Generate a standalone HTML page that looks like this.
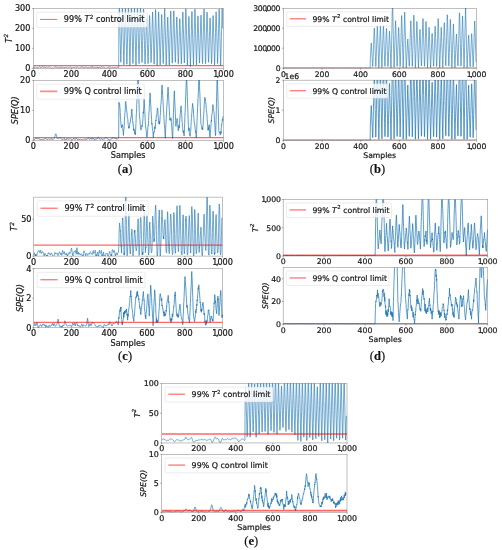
<!DOCTYPE html>
<html lang="en">
<head>
<meta charset="utf-8">
<title>Monitoring charts</title>
<style>
html,body{margin:0;padding:0;background:#fff;}
body{width:502px;height:550px;overflow:hidden;}
svg{display:block;}
svg text{font-family:"DejaVu Sans","Liberation Sans",sans-serif;fill:#1a1a1a;stroke:#1a1a1a;stroke-width:0.22px;}
svg text.cap{font-family:"Liberation Serif","DejaVu Serif",serif;fill:#111;stroke:#111;stroke-width:0.15px;}
</style>
</head>
<body>
<svg width="502" height="550" viewBox="0 0 502 550">
<rect x="0" y="0" width="502" height="550" fill="#fff"/>
<clipPath id="c0"><rect x="33.3" y="8.4" width="190.2" height="59.9"/></clipPath>
<g clip-path="url(#c0)">
<polyline points="33.3,67 33.49,67.26 33.68,67.62 33.87,68.05 34.06,68.29 34.25,68.02 34.44,67.39 34.63,66.87 34.82,66.73 35.01,66.75 35.2,66.77 35.39,66.88 35.58,67.09 35.77,67.33 35.96,67.57 36.15,67.75 36.34,67.75 36.53,67.54 36.72,67.34 36.91,67.38 37.1,67.63 37.29,67.74 37.48,67.57 37.67,67.41 37.86,67.6 38.05,67.99 38.25,68.25 38.44,68.24 38.63,68.01 38.82,67.66 39.01,67.31 39.2,67.04 39.39,66.8 39.58,66.6 39.77,66.6 39.96,66.8 40.15,67.03 40.34,67.29 40.53,67.54 40.72,67.59 40.91,67.4 41.1,67.23 41.29,67.33 41.48,67.57 41.67,67.69 41.86,67.55 42.05,67.17 42.24,66.72 42.43,66.47 42.62,66.51 42.81,66.71 43,66.96 43.19,67.22 43.38,67.38 43.57,67.3 43.76,66.97 43.95,66.71 44.14,66.83 44.33,67.23 44.52,67.58 44.71,67.67 44.9,67.62 45.09,67.61 45.28,67.62 45.47,67.48 45.66,67.2 45.85,66.89 46.04,66.75 46.23,66.84 46.42,67.05 46.61,67.16 46.8,67.1 46.99,67.07 47.18,67.24 47.37,67.47 47.56,67.58 47.76,67.58 47.95,67.51 48.14,67.36 48.33,67.26 48.52,67.32 48.71,67.39 48.9,67.34 49.09,67.22 49.28,67.09 49.47,66.96 49.66,66.87 49.85,66.86 50.04,66.98 50.23,67.23 50.42,67.53 50.61,67.73 50.8,67.84 50.99,68 51.18,68.23 51.37,68.21 51.56,68.14 51.75,68.14 51.94,68.27 52.13,68.06 52.32,67.81 52.51,67.78 52.7,67.96 52.89,68.19 53.08,68.26 53.27,68.18 53.46,68.08 53.65,68.09 53.84,68.16 54.03,68.24 54.22,68.22 54.41,68.03 54.6,67.59 54.79,67.07 54.98,66.77 55.17,66.81 55.36,66.95 55.55,66.92 55.74,66.84 55.93,66.9 56.12,67.02 56.31,67.05 56.5,67.08 56.69,67.16 56.88,67.19 57.07,67.21 57.27,67.36 57.46,67.63 57.65,67.89 57.84,68 58.03,67.87 58.22,67.61 58.41,67.41 58.6,67.36 58.79,67.37 58.98,67.3 59.17,67.23 59.36,67.3 59.55,67.44 59.74,67.46 59.93,67.34 60.12,67.17 60.31,67.05 60.5,67.19 60.69,67.6 60.88,67.98 61.07,67.98 61.26,67.63 61.45,67.27 61.64,67.11 61.83,67.17 62.02,67.34 62.21,67.55 62.4,67.75 62.59,67.8 62.78,67.67 62.97,67.49 63.16,67.32 63.35,67.29 63.54,67.46 63.73,67.72 63.92,67.94 64.11,68.09 64.3,68.04 64.49,67.72 64.68,67.32 64.87,67.12 65.06,67.2 65.25,67.46 65.44,67.72 65.63,67.8 65.82,67.67 66.01,67.49 66.2,67.42 66.39,67.49 66.58,67.61 66.78,67.64 66.97,67.53 67.16,67.31 67.35,67.06 67.54,66.88 67.73,66.91 67.92,67.19 68.11,67.52 68.3,67.65 68.49,67.58 68.68,67.48 68.87,67.43 69.06,67.37 69.25,67.32 69.44,67.3 69.63,67.24 69.82,67.1 70.01,66.94 70.2,66.78 70.39,66.72 70.58,66.87 70.77,67.19 70.96,67.46 71.15,67.63 71.34,67.72 71.53,67.65 71.72,67.43 71.91,67.25 72.1,67.25 72.29,67.32 72.48,67.41 72.67,67.58 72.86,67.81 73.05,67.93 73.24,67.86 73.43,67.66 73.62,67.44 73.81,67.26 74,67.18 74.19,67.28 74.38,67.49 74.57,67.55 74.76,67.34 74.95,67.03 75.14,66.93 75.33,67.12 75.52,67.29 75.71,67.22 75.9,67.1 76.09,67.16 76.29,67.32 76.48,67.39 76.67,67.32 76.86,67.14 77.05,66.95 77.24,66.88 77.43,66.98 77.62,67.1 77.81,67.16 78,67.31 78.19,67.65 78.38,68 78.57,68.15 78.76,68.2 78.95,68.24 79.14,68.05 79.33,68.18 79.52,67.97 79.71,67.55 79.9,67.43 80.09,67.6 80.28,67.78 80.47,67.71 80.66,67.42 80.85,67.15 81.04,67.07 81.23,67.17 81.42,67.26 81.61,67.12 81.8,66.78 81.99,66.53 82.18,66.55 82.37,66.78 82.56,67.11 82.75,67.44 82.94,67.68 83.13,67.71 83.32,67.5 83.51,67.27 83.7,67.17 83.89,67.24 84.08,67.5 84.27,67.91 84.46,68.2 84.65,68.15 84.84,67.8 85.03,67.47 85.22,67.35 85.41,67.31 85.6,67.14 85.8,67.01 85.99,67.13 86.18,67.31 86.37,67.33 86.56,67.34 86.75,67.51 86.94,67.74 87.13,67.82 87.32,67.75 87.51,67.66 87.7,67.52 87.89,67.29 88.08,67.18 88.27,67.29 88.46,67.49 88.65,67.7 88.84,67.91 89.03,68.03 89.22,68.04 89.41,68.01 89.6,67.98 89.79,67.88 89.98,67.65 90.17,67.41 90.36,67.43 90.55,67.78 90.74,68.16 90.93,68.28 91.12,68.12 91.31,67.72 91.5,67.22 91.69,66.78 91.88,66.51 92.07,66.31 92.26,66.23 92.45,66.56 92.64,67.26 92.83,67.88 93.02,68.14 93.21,68.2 93.4,68.18 93.59,68.03 93.78,67.79 93.97,67.51 94.16,67.26 94.35,67.19 94.54,67.32 94.73,67.55 94.92,67.71 95.11,67.72 95.31,67.66 95.5,67.73 95.69,67.97 95.88,68.15 96.07,68.08 96.26,67.78 96.45,67.4 96.64,67.24 96.83,67.44 97.02,67.74 97.21,67.74 97.4,67.43 97.59,67.12 97.78,66.99 97.97,67.09 98.16,67.45 98.35,68.02 98.54,67.99 98.73,67.69 98.92,67.9 99.11,68.18 99.3,67.69 99.49,67.41 99.68,67.29 99.87,67.29 100.06,67.43 100.25,67.68 100.44,67.84 100.63,67.74 100.82,67.42 101.01,67.03 101.2,66.71 101.39,66.55 101.58,66.64 101.77,66.94 101.96,67.28 102.15,67.52 102.34,67.62 102.53,67.64 102.72,67.59 102.91,67.46 103.1,67.32 103.29,67.21 103.48,67.07 103.67,67 103.86,67.19 104.05,67.57 104.24,67.79 104.43,67.7 104.62,67.55 104.82,67.59 105.01,67.84 105.2,68.19 105.39,68.12 105.58,68.07 105.77,68.26 105.96,68.15 106.15,68.12 106.34,68.19 106.53,68.22 106.72,68.17 106.91,68.06 107.1,67.94 107.29,67.79 107.48,67.57 107.67,67.33 107.86,67.18 108.05,67.16 108.24,67.23 108.43,67.28 108.62,67.25 108.81,67.22 109,67.28 109.19,67.31 109.38,67.15 109.57,66.88 109.76,66.79 109.95,66.95 110.14,67.12 110.33,67.14 110.52,67.1 110.71,67.24 110.9,67.67 111.09,68.15 111.28,68.25 111.47,68.24 111.66,68.04 111.85,67.82 112.04,67.54 112.23,67.36 112.42,67.48 112.61,67.77 112.8,67.85 112.99,67.74 113.18,67.73 113.37,67.89 113.56,67.96 113.75,67.73 113.94,67.36 114.13,67.16 114.33,67.27 114.52,67.46 114.71,67.5 114.9,67.42 115.09,67.37 115.28,67.43 115.47,67.55 115.66,67.6 115.85,67.48 116.04,67.29 116.23,67.26 116.42,67.39 116.61,67.46 116.8,67.32 116.99,67.09 117.18,66.96 117.37,67.02 117.56,67.23 117.75,67.5 117.94,67.73 118.13,67.8 118.32,67.73 118.51,67.62 118.7,67.49 118.89,21.59 119.08,13.81 119.27,6.84 119.46,8.29 119.65,15.32 119.84,23.09 120.03,31.34 120.22,39.71 120.41,47.86 120.6,55.45 120.79,62.23 120.98,59.95 121.17,52.64 121.36,44.58 121.55,36.05 121.74,27.39 121.93,19 122.12,11.19 122.31,4.22 122.5,7.26 122.69,14.85 122.88,23.2 123.07,32.03 123.26,40.96 123.45,49.6 123.64,57.62 123.84,64.76 124.03,61.42 124.22,54.27 124.41,46.4 124.6,38.12 124.79,29.75 124.98,21.67 125.17,14.19 125.36,7.53 125.55,11.52 125.74,18.57 125.93,26.3 126.12,34.44 126.31,42.63 126.5,50.53 126.69,57.82 126.88,64.3 127.07,59.38 127.26,51.93 127.45,43.77 127.64,35.21 127.83,26.61 128.02,18.33 128.21,10.7 128.4,3.94 128.59,9.57 128.78,17.16 128.97,25.45 129.16,34.13 129.35,42.84 129.54,51.19 129.73,58.88 129.92,65.68 130.11,59.18 130.3,51.3 130.49,42.72 130.68,33.75 130.87,24.77 131.06,16.18 131.25,8.29 131.44,1.51 131.63,8.29 131.82,15.96 132.01,24.31 132.2,33.01 132.39,41.7 132.58,50 132.77,57.61 132.96,63.52 133.16,57.13 133.35,49.91 133.54,42.07 133.73,33.92 133.92,25.8 134.11,18.05 134.3,10.97 134.49,6.12 134.68,12.84 134.87,20.42 135.06,28.63 135.25,37.15 135.44,45.62 135.63,53.68 135.82,61.04 136.01,65.43 136.2,58.32 136.39,50.33 136.58,41.7 136.77,32.75 136.96,23.88 137.15,15.45 137.34,7.78 137.53,3.79 137.72,10.81 137.91,18.69 138.1,27.19 138.29,35.97 138.48,44.67 138.67,52.9 138.86,60.39 139.05,63.65 139.24,56.81 139.43,49.14 139.62,40.89 139.81,32.38 140,23.98 140.19,16.03 140.38,8.83 140.57,6.36 140.76,13.18 140.95,20.81 141.14,29 141.33,37.43 141.52,45.73 141.71,53.57 141.9,60.66 142.09,62.5 142.28,55.87 142.47,48.46 142.66,40.53 142.86,32.37 143.05,24.36 143.24,16.81 143.43,9.99 143.62,9 143.81,15.91 144,23.6 144.19,31.83 144.38,40.27 144.57,48.54 144.76,56.31 144.95,63.32 145.14,64.22 145.33,58.3 145.52,51.73 145.71,44.71 145.9,37.53 146.09,30.5 146.28,23.91 146.47,17.99 146.66,18.11 146.85,23.97 147.04,30.47 147.23,37.39 147.42,44.46 147.61,51.36 147.8,57.82 147.99,63.62 148.18,62.79 148.37,56.66 148.56,49.88 148.75,42.66 148.94,35.32 149.13,28.16 149.32,21.48 149.51,15.49 149.7,16.69 149.89,22.67 150.08,29.27 150.27,36.28 150.46,43.4 150.65,50.33 150.84,56.77 151.03,62.55 151.22,60.51 151.41,54.15 151.6,47.13 151.79,39.69 151.98,32.16 152.18,24.84 152.37,18.05 152.56,11.98 152.75,14.58 152.94,21.12 153.13,28.33 153.32,35.94 153.51,43.64 153.7,51.1 153.89,58.01 154.08,64.18 154.27,60.85 154.46,54.03 154.65,46.53 154.84,38.63 155.03,30.66 155.22,22.96 155.41,15.82 155.6,9.48 155.79,13.45 155.98,20.4 156.17,28.03 156.36,36.05 156.55,44.13 156.74,51.92 156.93,59.12 157.12,65.51 157.31,61.21 157.5,54.57 157.69,47.31 157.88,39.7 158.07,32.04 158.26,24.68 158.45,17.89 158.64,11.87 158.83,16.69 159.02,23.21 159.21,30.34 159.4,37.8 159.59,45.28 159.78,52.46 159.97,59.07 160.16,64.92 160.35,59.82 160.54,53.62 160.73,46.87 160.92,39.82 161.11,32.76 161.3,26 161.49,19.8 161.69,14.46 161.88,19.84 162.07,25.92 162.26,32.53 162.45,39.43 162.64,46.31 162.83,52.89 163.02,58.91 163.21,63.54 163.4,57.36 163.59,50.39 163.78,42.82 163.97,34.94 164.16,27.1 164.35,19.62 164.54,12.78 164.73,8.08 164.92,14.52 165.11,21.78 165.3,29.64 165.49,37.8 165.68,45.91 165.87,53.63 166.06,60.67 166.25,65.06 166.44,59.53 166.63,53.31 166.82,46.58 167.01,39.62 167.2,32.71 167.39,26.14 167.58,20.17 167.77,17.1 167.96,22.73 168.15,29.06 168.34,35.89 168.53,42.94 168.72,49.93 168.91,56.54 169.1,62.56 169.29,64.94 169.48,58.51 169.67,51.3 169.86,43.53 170.05,35.52 170.24,27.62 170.43,20.14 170.62,13.36 170.81,11.02 171,17.36 171.19,24.46 171.39,32.08 171.58,39.92 171.77,47.65 171.96,54.94 172.15,61.54 172.34,63.16 172.53,56.68 172.72,49.45 172.91,41.7 173.1,33.75 173.29,25.92 173.48,18.56 173.67,11.9 173.86,10.83 174.05,17.27 174.24,24.46 174.43,32.14 174.62,40.02 174.81,47.75 175,55 175.19,61.55 175.38,62.27 175.57,56.47 175.76,50.02 175.95,43.14 176.14,36.1 176.33,29.21 176.52,22.75 176.71,16.94 176.9,17.18 177.09,23.17 177.28,29.83 177.47,36.92 177.66,44.15 177.85,51.22 178.04,57.83 178.23,63.76 178.42,63.18 178.61,57.42 178.8,51.05 178.99,44.28 179.18,37.38 179.37,30.66 179.56,24.38 179.75,18.75 179.94,19.94 180.13,25.66 180.32,31.98 180.51,38.69 180.7,45.5 180.9,52.13 181.09,58.3 181.28,63.82 181.47,61.63 181.66,55.12 181.85,47.94 182.04,40.34 182.23,32.64 182.42,25.17 182.61,18.22 182.8,12.01 182.99,14.49 183.18,20.89 183.37,27.94 183.56,35.39 183.75,42.92 183.94,50.21 184.13,56.98 184.32,63.01 184.51,59.67 184.7,52.87 184.89,45.4 185.08,37.53 185.27,29.58 185.46,21.91 185.65,14.8 185.84,8.48 186.03,12.54 186.22,19.61 186.41,27.37 186.6,35.53 186.79,43.75 186.98,51.67 187.17,58.99 187.36,65.49 187.55,61.63 187.74,55.55 187.93,48.9 188.12,41.92 188.31,34.91 188.5,28.16 188.69,21.94 188.88,16.42 189.07,20.98 189.26,27.14 189.45,33.87 189.64,40.92 189.83,47.98 190.02,54.76 190.21,61 190.41,66.52 190.6,60.93 190.79,54.18 190.98,46.82 191.17,39.13 191.36,31.43 191.55,24.06 191.74,17.29 191.93,11.48 192.12,17.31 192.31,23.9 192.5,31.07 192.69,38.55 192.88,46.02 193.07,53.15 193.26,59.69 193.45,64.73 193.64,58.53 193.83,51.54 194.02,43.94 194.21,36.04 194.4,28.17 194.59,20.66 194.78,13.79 194.97,9.07 195.16,15.38 195.35,22.48 195.54,30.18 195.73,38.18 195.92,46.12 196.11,53.68 196.3,60.58 196.49,64.85 196.68,59.21 196.87,52.86 197.06,46 197.25,38.89 197.44,31.84 197.63,25.15 197.82,19.05 198.01,15.88 198.2,21.43 198.39,27.66 198.58,34.37 198.77,41.32 198.96,48.19 199.15,54.7 199.34,60.62 199.53,63.12 199.73,57.37 199.92,50.94 200.11,44.02 200.3,36.87 200.49,29.82 200.68,23.15 200.87,17.1 201.06,15.1 201.25,21.03 201.44,27.67 201.63,34.81 201.82,42.15 202.01,49.38 202.2,56.21 202.39,62.38 202.58,63.66 202.77,56.89 202.96,49.33 203.15,41.23 203.34,32.91 203.53,24.72 203.72,17.02 203.91,10.06 204.1,8.99 204.29,15.88 204.48,23.54 204.67,31.75 204.86,40.15 205.05,48.4 205.24,56.15 205.43,63.13 205.62,63.73 205.81,57.12 206,49.78 206.19,41.94 206.38,33.92 206.57,26.08 206.76,18.72 206.95,12.1 207.14,12.2 207.33,18.66 207.52,25.83 207.71,33.47 207.9,41.26 208.09,48.87 208.28,55.99 208.47,62.39 208.66,62 208.85,56.3 209.04,49.97 209.24,43.25 209.43,36.41 209.62,29.74 209.81,23.52 210,17.94 210.19,19.2 210.38,25.01 210.57,31.43 210.76,38.25 210.95,45.17 211.14,51.91 211.33,58.18 211.52,63.79 211.71,61.88 211.9,55.8 212.09,49.09 212.28,41.98 212.47,34.78 212.66,27.8 212.85,21.3 213.04,15.5 213.23,17.95 213.42,24.14 213.61,30.95 213.8,38.15 213.99,45.43 214.18,52.48 214.37,59.02 214.56,64.85 214.75,61.6 214.94,54.99 215.13,47.73 215.32,40.08 215.51,32.35 215.7,24.89 215.89,17.99 216.08,11.84 216.27,15.46 216.46,21.89 216.65,28.94 216.84,36.35 217.03,43.82 217.22,51.02 217.41,57.67 217.6,63.57 217.79,59.12 217.98,52.36 218.17,44.97 218.36,37.22 218.55,29.42 218.75,21.92 218.94,15.01 219.13,8.88 219.32,14.07 219.51,21.05 219.7,28.68 219.89,36.67 220.08,44.68 220.27,52.37 220.46,59.44 220.65,65.7 220.84,59.8 221.03,52.66 221.22,44.87 221.41,36.73 221.6,28.59 221.79,20.8 221.98,13.64 222.17,7.49 222.36,13.78 222.55,20.88 222.74,28.62" fill="none" stroke="#1f77b4" stroke-width="0.62" stroke-linejoin="round"/>
<line x1="33.3" y1="65.7" x2="223.5" y2="65.7" stroke="#ff0000" stroke-opacity="0.6" stroke-width="1.2"/>
</g>
<rect x="33.3" y="8.4" width="190.2" height="59.9" fill="none" stroke="#000" stroke-opacity="0.42" stroke-width="0.6"/>
<line x1="33.3" y1="68.3" x2="33.3" y2="69.8" stroke="#000" stroke-opacity="0.6" stroke-width="0.5"/>
<text x="33.3" y="76.7" text-anchor="middle" font-size="8.1">0</text>
<line x1="71.34" y1="68.3" x2="71.34" y2="69.8" stroke="#000" stroke-opacity="0.6" stroke-width="0.5"/>
<text x="71.34" y="76.7" text-anchor="middle" font-size="8.1">200</text>
<line x1="109.38" y1="68.3" x2="109.38" y2="69.8" stroke="#000" stroke-opacity="0.6" stroke-width="0.5"/>
<text x="109.38" y="76.7" text-anchor="middle" font-size="8.1">400</text>
<line x1="147.42" y1="68.3" x2="147.42" y2="69.8" stroke="#000" stroke-opacity="0.6" stroke-width="0.5"/>
<text x="147.42" y="76.7" text-anchor="middle" font-size="8.1">600</text>
<line x1="185.46" y1="68.3" x2="185.46" y2="69.8" stroke="#000" stroke-opacity="0.6" stroke-width="0.5"/>
<text x="185.46" y="76.7" text-anchor="middle" font-size="8.1">800</text>
<line x1="223.5" y1="68.3" x2="223.5" y2="69.8" stroke="#000" stroke-opacity="0.6" stroke-width="0.5"/>
<text x="223.5" y="76.7" text-anchor="middle" font-size="8.1">1<tspan dx="-1.54">,</tspan><tspan dx="-1.05">000</tspan></text>
<line x1="31.8" y1="68.3" x2="33.3" y2="68.3" stroke="#000" stroke-opacity="0.6" stroke-width="0.5"/>
<text x="30.4" y="71.3" text-anchor="end" font-size="8.1">0</text>
<line x1="31.8" y1="48.33" x2="33.3" y2="48.33" stroke="#000" stroke-opacity="0.6" stroke-width="0.5"/>
<text x="30.4" y="51.33" text-anchor="end" font-size="8.1">100</text>
<line x1="31.8" y1="28.37" x2="33.3" y2="28.37" stroke="#000" stroke-opacity="0.6" stroke-width="0.5"/>
<text x="30.4" y="31.36" text-anchor="end" font-size="8.1">200</text>
<line x1="31.8" y1="8.4" x2="33.3" y2="8.4" stroke="#000" stroke-opacity="0.6" stroke-width="0.5"/>
<text x="30.4" y="11.4" text-anchor="end" font-size="8.1">300</text>
<text transform="translate(11.7 38.35) rotate(-90)" text-anchor="middle" font-size="8.1" font-style="italic">T<tspan dy="-3.48" font-size="5.67" dx="0.3">2</tspan></text>
<rect x="36.7" y="12.13" width="110.8" height="15.23" rx="1.4" fill="#fff" fill-opacity="0.8" stroke="#ccc" stroke-opacity="0.6" stroke-width="0.6"/>
<line x1="40.02" y1="19.44" x2="57.11" y2="19.44" stroke="#ff0000" stroke-opacity="0.55" stroke-width="1.1"/>
<text x="63.84" y="22.41" text-anchor="start" font-size="8.1">99% <tspan font-style="italic">T</tspan><tspan dy="-3.48" font-size="5.67" dx="0.4">2</tspan><tspan dy="3.48"> control limit</tspan></text>
<clipPath id="c1"><rect x="33.3" y="80.3" width="190.2" height="60"/></clipPath>
<g clip-path="url(#c1)">
<polyline points="33.3,138.58 33.49,138.68 33.68,138.94 33.87,139.26 34.06,139.52 34.25,139.64 34.44,139.65 34.63,139.59 34.82,139.47 35.01,139.24 35.2,138.91 35.39,138.55 35.58,138.31 35.77,138.31 35.96,138.55 36.15,138.79 36.34,138.84 36.53,138.66 36.72,138.47 36.91,138.44 37.1,138.53 37.29,138.59 37.48,138.57 37.67,138.53 37.86,138.49 38.05,138.42 38.25,138.35 38.44,138.41 38.63,138.63 38.82,138.9 39.01,139.04 39.2,139.05 39.39,139.01 39.58,138.98 39.77,139 39.96,139.16 40.15,139.54 40.34,140.07 40.53,140.1 40.72,139.95 40.91,140.12 41.1,140.12 41.29,139.72 41.48,139.45 41.67,139.32 41.86,139.25 42.05,139.16 42.24,139.09 42.43,139.11 42.62,139.23 42.81,139.43 43,139.72 43.19,140.05 43.38,140.29 43.57,140.28 43.76,140.02 43.95,139.62 44.14,139.23 44.33,138.88 44.52,138.59 44.71,138.35 44.9,138.2 45.09,138.09 45.28,138.04 45.47,138.15 45.66,138.46 45.85,138.83 46.04,139.12 46.23,139.3 46.42,139.42 46.61,139.47 46.8,139.43 46.99,139.33 47.18,139.26 47.37,139.24 47.56,139.28 47.76,139.3 47.95,139.23 48.14,139.04 48.33,138.82 48.52,138.75 48.71,138.93 48.9,139.22 49.09,139.42 49.28,139.42 49.47,139.29 49.66,139.14 49.85,139.05 50.04,138.98 50.23,138.91 50.42,138.82 50.61,138.79 50.8,138.78 50.99,138.71 51.18,138.57 51.37,138.5 51.56,138.67 51.75,139.07 51.94,139.5 52.13,139.72 52.32,139.62 52.51,139.29 52.7,139.01 52.89,138.96 53.08,139.11 53.27,139.23 53.46,139.17 53.65,138.95 53.84,138.66 54.03,138.34 54.22,138.02 54.41,137.69 54.6,137.33 54.79,136.86 54.98,136.21 55.17,135.41 55.36,134.6 55.55,134.03 55.74,133.84 55.93,133.96 56.12,134.31 56.31,134.89 56.5,135.72 56.69,136.68 56.88,137.56 57.07,138.18 57.27,138.53 57.46,138.71 57.65,138.79 57.84,138.73 58.03,138.52 58.22,138.26 58.41,138.14 58.6,138.13 58.79,138.12 58.98,138.05 59.17,137.98 59.36,137.91 59.55,137.84 59.74,137.75 59.93,137.59 60.12,137.34 60.31,137.12 60.5,137.1 60.69,137.37 60.88,137.82 61.07,138.26 61.26,138.62 61.45,138.96 61.64,139.26 61.83,139.49 62.02,139.63 62.21,139.71 62.4,139.75 62.59,139.75 62.78,139.68 62.97,139.52 63.16,139.28 63.35,139.02 63.54,138.77 63.73,138.48 63.92,138.2 64.11,138.06 64.3,138.2 64.49,138.65 64.68,139.29 64.87,139.87 65.06,140.15 65.25,140.11 65.44,139.94 65.63,139.88 65.82,139.98 66.01,140.08 66.2,139.95 66.39,139.52 66.58,138.92 66.78,138.43 66.97,138.3 67.16,138.54 67.35,138.9 67.54,139.12 67.73,139.16 67.92,139.16 68.11,139.18 68.3,139.2 68.49,139.23 68.68,139.24 68.87,139.19 69.06,139.06 69.25,138.94 69.44,138.88 69.63,138.86 69.82,138.8 70.01,138.68 70.2,138.6 70.39,138.66 70.58,138.87 70.77,139.08 70.96,139.22 71.15,139.3 71.34,139.36 71.53,139.38 71.72,139.36 71.91,139.37 72.1,139.49 72.29,139.67 72.48,139.77 72.67,139.73 72.86,139.64 73.05,139.58 73.24,139.41 73.43,139.01 73.62,138.5 73.81,138.18 74,138.2 74.19,138.42 74.38,138.66 74.57,138.9 74.76,139.19 74.95,139.45 75.14,139.5 75.33,139.26 75.52,138.83 75.71,138.43 75.9,138.15 76.09,138 76.29,138 76.48,138.2 76.67,138.58 76.86,138.96 77.05,139.23 77.24,139.41 77.43,139.55 77.62,139.56 77.81,139.38 78,139.07 78.19,138.87 78.38,138.94 78.57,139.25 78.76,139.58 78.95,139.74 79.14,139.7 79.33,139.58 79.52,139.54 79.71,139.62 79.9,139.7 80.09,139.6 80.28,139.35 80.47,139.08 80.66,138.96 80.85,139.02 81.04,139.22 81.23,139.43 81.42,139.54 81.61,139.56 81.8,139.54 81.99,139.53 82.18,139.59 82.37,139.7 82.56,139.83 82.75,139.97 82.94,140.1 83.13,140.2 83.32,140.23 83.51,140.17 83.7,140.08 83.89,139.93 84.08,139.64 84.27,139.22 84.46,138.88 84.65,138.81 84.84,138.98 85.03,139.15 85.22,139.13 85.41,138.96 85.6,138.84 85.8,138.97 85.99,139.33 86.18,139.66 86.37,139.73 86.56,139.5 86.75,139.2 86.94,139.06 87.13,139.09 87.32,139.09 87.51,138.87 87.7,138.43 87.89,137.96 88.08,137.7 88.27,137.72 88.46,137.88 88.65,138 88.84,138.07 89.03,138.25 89.22,138.61 89.41,139.06 89.6,139.41 89.79,139.5 89.98,139.33 90.17,138.97 90.36,138.58 90.55,138.32 90.74,138.22 90.93,138.21 91.12,138.24 91.31,138.37 91.5,138.68 91.69,139.1 91.88,139.38 92.07,139.27 92.26,138.75 92.45,138.1 92.64,137.75 92.83,137.94 93.02,138.43 93.21,138.76 93.4,138.69 93.59,138.5 93.78,138.62 93.97,139.16 94.16,139.92 94.35,140.08 94.54,139.91 94.73,140.2 94.92,139.87 95.11,139.4 95.31,139.05 95.5,138.77 95.69,138.58 95.88,138.52 96.07,138.56 96.26,138.65 96.45,138.79 96.64,138.98 96.83,139.15 97.02,139.18 97.21,138.99 97.4,138.6 97.59,138.1 97.78,137.61 97.97,137.23 98.16,137.05 98.35,137.11 98.54,137.38 98.73,137.73 98.92,138.08 99.11,138.44 99.3,138.85 99.49,139.16 99.68,139.23 99.87,139.07 100.06,138.92 100.25,138.95 100.44,139.11 100.63,139.19 100.82,139.07 101.01,138.85 101.2,138.66 101.39,138.55 101.58,138.54 101.77,138.73 101.96,139.12 102.15,139.55 102.34,139.83 102.53,139.89 102.72,139.76 102.91,139.52 103.1,139.24 103.29,138.99 103.48,138.81 103.67,138.72 103.86,138.75 104.05,138.85 104.24,138.9 104.43,138.86 104.62,138.77 104.82,138.67 105.01,138.43 105.2,138.03 105.39,137.59 105.58,137.34 105.77,137.38 105.96,137.6 106.15,137.78 106.34,137.8 106.53,137.73 106.72,137.76 106.91,137.95 107.1,138.17 107.29,138.3 107.48,138.37 107.67,138.51 107.86,138.8 108.05,139.18 108.24,139.59 108.43,139.9 108.62,140.05 108.81,140.04 109,140 109.19,140.01 109.38,140.05 109.57,140.08 109.76,140.09 109.95,140.02 110.14,139.82 110.33,139.51 110.52,139.22 110.71,139.01 110.9,138.85 111.09,138.78 111.28,138.84 111.47,138.96 111.66,138.96 111.85,138.77 112.04,138.47 112.23,138.14 112.42,137.8 112.61,137.48 112.8,137.29 112.99,137.33 113.18,137.57 113.37,137.87 113.56,138.06 113.75,138.06 113.94,137.94 114.13,137.85 114.33,137.95 114.52,138.22 114.71,138.49 114.9,138.57 115.09,138.49 115.28,138.39 115.47,138.32 115.66,138.24 115.85,138.11 116.04,138.05 116.23,138.2 116.42,138.56 116.61,139 116.8,139.35 116.99,139.51 117.18,139.45 117.37,139.26 117.56,139.02 117.75,138.77 117.94,138.54 118.13,138.35 118.32,138.2 118.51,138.08 118.7,138.07 118.89,102.3 119.08,102.59 119.27,103.85 119.46,104.18 119.65,103.83 119.84,108.12 120.03,108.32 120.22,112.58 120.41,116.56 120.6,118.69 120.79,121.76 120.98,124.23 121.17,125.22 121.36,127.54 121.55,127.79 121.74,125.28 121.93,125.63 122.12,125.09 122.31,124.6 122.5,126.74 122.69,127.24 122.88,130.54 123.07,131.07 123.26,133.54 123.45,135.38 123.64,131.98 123.84,129.1 124.03,128.82 124.22,125.04 124.41,120.63 124.6,116.89 124.79,115.79 124.98,112.36 125.17,110.73 125.36,103.69 125.55,102.9 125.74,101.4 125.93,103.32 126.12,104.7 126.31,106.72 126.5,109.38 126.69,109.92 126.88,112.29 127.07,112.69 127.26,116.48 127.45,117.94 127.64,118.33 127.83,119.34 128.02,122.19 128.21,124.75 128.4,125.78 128.59,127.84 128.78,126.98 128.97,128.47 129.16,127.13 129.35,127.19 129.54,127.13 129.73,124.36 129.92,122.9 130.11,122.98 130.3,122.22 130.49,119.65 130.68,119.78 130.87,117.18 131.06,117.33 131.25,116.2 131.44,113.18 131.63,112.02 131.82,108.97 132.01,112.54 132.2,114.26 132.39,117.53 132.58,120.33 132.77,122.28 132.96,121.96 133.16,125.73 133.35,125.35 133.54,127.08 133.73,130.35 133.92,128.82 134.11,130.83 134.3,130.4 134.49,132.32 134.68,131.59 134.87,134.1 135.06,132.96 135.25,134.61 135.44,134.78 135.63,129.97 135.82,126.24 136.01,122.3 136.2,117.25 136.39,112.96 136.58,111.05 136.77,104.52 136.96,99.78 137.15,96.65 137.34,90.83 137.53,88 137.72,80.48 137.91,77.62 138.1,74.45 138.29,79.03 138.48,86.35 138.67,91.48 138.86,99.12 139.05,104.53 139.24,111.3 139.43,115.04 139.62,115.97 139.81,119.05 140,120.59 140.19,124.83 140.38,126.91 140.57,128.7 140.76,129.84 140.95,130.13 141.14,129.76 141.33,128.32 141.52,128.37 141.71,127.47 141.9,125.31 142.09,126.53 142.28,124.96 142.47,122.69 142.66,122.81 142.86,119.16 143.05,117.52 143.24,111.81 143.43,113.21 143.62,109.03 143.81,105.93 144,100.1 144.19,99.45 144.38,103.68 144.57,108.34 144.76,110.2 144.95,114.05 145.14,118.48 145.33,122.91 145.52,126.08 145.71,126.99 145.9,128.4 146.09,130.16 146.28,131.91 146.47,135.12 146.66,134.73 146.85,137.38 147.04,137.4 147.23,134.83 147.42,133.89 147.61,132.12 147.8,127.87 147.99,126.41 148.18,125.32 148.37,125.67 148.56,120.43 148.75,116.34 148.94,112.36 149.13,110.8 149.32,107.3 149.51,103.63 149.7,98.83 149.89,97.49 150.08,92.92 150.27,95.98 150.46,98.47 150.65,104.13 150.84,105.85 151.03,110.51 151.22,113.97 151.41,116.93 151.6,119.52 151.79,124.29 151.98,123.24 152.18,125.49 152.37,128.17 152.56,128.17 152.75,131.23 152.94,131.86 153.13,135.62 153.32,137.7 153.51,134.8 153.7,132.67 153.89,133.13 154.08,131.71 154.27,132 154.46,131.74 154.65,129.44 154.84,126.48 155.03,128.86 155.22,126.11 155.41,126.07 155.6,122.42 155.79,120.08 155.98,120.78 156.17,118.37 156.36,115.02 156.55,114.97 156.74,114.65 156.93,113.2 157.12,112.41 157.31,107.95 157.5,108.01 157.69,108.16 157.88,110.84 158.07,114.93 158.26,117.28 158.45,118.4 158.64,121.54 158.83,122.26 159.02,124.08 159.21,121.22 159.4,122.89 159.59,124.16 159.78,122.23 159.97,119.98 160.16,115.16 160.35,114.69 160.54,112.64 160.73,105.95 160.92,104.95 161.11,102.3 161.3,99.57 161.49,95.91 161.69,89.71 161.88,87.96 162.07,84.98 162.26,88.37 162.45,89.6 162.64,95.29 162.83,97.42 163.02,101.22 163.21,104.66 163.4,109.25 163.59,111.05 163.78,113.31 163.97,117.85 164.16,121.55 164.35,124.74 164.54,125.98 164.73,129.26 164.92,131.88 165.11,134.55 165.3,138.22 165.49,132.22 165.68,129.16 165.87,125.85 166.06,121.89 166.25,117.53 166.44,114.81 166.63,112.21 166.82,106.56 167.01,104.71 167.2,101.49 167.39,98.83 167.58,93.66 167.77,91.23 167.96,87.15 168.15,87.39 168.34,91.39 168.53,93.91 168.72,98.21 168.91,102.51 169.1,105.99 169.29,109.73 169.48,112.08 169.67,116.29 169.86,120.3 170.05,119.03 170.24,119.44 170.43,119.64 170.62,120.36 170.81,117.93 171,117.76 171.19,119.43 171.39,122.59 171.58,125.66 171.77,127.67 171.96,129.84 172.15,132.86 172.34,135.53 172.53,138.52 172.72,136.44 172.91,130.74 173.1,125.97 173.29,118.58 173.48,112.74 173.67,106.91 173.86,102.1 174.05,96.36 174.24,91.56 174.43,90.8 174.62,98.47 174.81,101.27 175,105.85 175.19,109.23 175.38,114.76 175.57,120.41 175.76,125.53 175.95,126.43 176.14,124.4 176.33,123.31 176.52,122.43 176.71,121.79 176.9,120.15 177.09,118.48 177.28,122.6 177.47,123.32 177.66,123.57 177.85,126.6 178.04,129.57 178.23,130.31 178.42,130.92 178.61,129.17 178.8,126.59 178.99,125.27 179.18,128.1 179.37,124.61 179.56,121.27 179.75,121.39 179.94,118.04 180.13,114.23 180.32,113.83 180.51,110.34 180.7,108.37 180.9,107.83 181.09,105.85 181.28,109.27 181.47,110.97 181.66,112.62 181.85,116.97 182.04,120.94 182.23,122.95 182.42,126.06 182.61,126.22 182.8,129.82 182.99,130.56 183.18,132.5 183.37,130.74 183.56,132.41 183.75,134.08 183.94,135.19 184.13,136.05 184.32,133.85 184.51,128.24 184.7,123.44 184.89,116.49 185.08,112.64 185.27,108.87 185.46,103.65 185.65,96.8 185.84,92.61 186.03,87.81 186.22,82.39 186.41,76.5 186.6,75.04 186.79,80.15 186.98,86.81 187.17,90.07 187.36,96.6 187.55,102.52 187.74,108.22 187.93,112.3 188.12,118.79 188.31,124.81 188.5,125.72 188.69,129.35 188.88,130.79 189.07,127.95 189.26,132.27 189.45,133.67 189.64,135.07 189.83,135.66 190.02,135.91 190.21,136.22 190.41,133.62 190.6,131.66 190.79,130.11 190.98,125.43 191.17,121.31 191.36,118.96 191.55,117.44 191.74,113.6 191.93,112.02 192.12,108.85 192.31,107.27 192.5,103.49 192.69,103.59 192.88,106.09 193.07,107.27 193.26,108.27 193.45,111.02 193.64,114.9 193.83,117.51 194.02,119.6 194.21,122.11 194.4,123.01 194.59,124.01 194.78,125.66 194.97,127.06 195.16,128.5 195.35,130.21 195.54,132.26 195.73,131.08 195.92,133.19 196.11,136.65 196.3,138.06 196.49,135.58 196.68,130.48 196.87,124.74 197.06,120.55 197.25,116.05 197.44,111.58 197.63,107.11 197.82,103.05 198.01,98.89 198.2,95.05 198.39,92.3 198.58,86.16 198.77,79.68 198.96,77.69 199.15,75.08 199.34,78.84 199.53,85.31 199.73,91.38 199.92,94.72 200.11,101.18 200.3,106.53 200.49,113.4 200.68,117.77 200.87,123.38 201.06,124.63 201.25,124.75 201.44,125.29 201.63,126.8 201.82,126.77 202.01,129.2 202.2,127.83 202.39,128.3 202.58,129.94 202.77,129.64 202.96,125.97 203.15,124.26 203.34,119.7 203.53,116.83 203.72,115.21 203.91,111.24 204.1,107.25 204.29,104.33 204.48,101.47 204.67,99.76 204.86,97.31 205.05,98.88 205.24,99.36 205.43,99.03 205.62,101.53 205.81,102.86 206,104.62 206.19,109.24 206.38,109.69 206.57,112.23 206.76,112.76 206.95,114.59 207.14,119.36 207.33,120.92 207.52,122.67 207.71,126.06 207.9,128.5 208.09,130.5 208.28,128.29 208.47,129.6 208.66,126.88 208.85,127.4 209.04,126.13 209.24,124.73 209.43,130.04 209.62,133.83 209.81,136.16 210,137.25 210.19,134.83 210.38,132.08 210.57,129.69 210.76,129.06 210.95,126.05 211.14,122.93 211.33,120.03 211.52,121.39 211.71,115.86 211.9,114.2 212.09,114.16 212.28,112.46 212.47,108.38 212.66,107.15 212.85,104.56 213.04,105.33 213.23,108.15 213.42,109.12 213.61,110.32 213.8,111.42 213.99,112.04 214.18,114.64 214.37,119.03 214.56,122.4 214.75,122.54 214.94,127.22 215.13,130.31 215.32,134.78 215.51,135.68 215.7,133.96 215.89,126.05 216.08,119.38 216.27,110.94 216.46,102.76 216.65,96.81 216.84,88.59 217.03,80.16 217.22,73.81 217.41,78.34 217.6,85.25 217.79,93.21 217.98,98.45 218.17,107.49 218.36,113.01 218.55,120.2 218.75,129.77 218.94,131.27 219.13,132.19 219.32,133.26 219.51,132.81 219.7,133.09 219.89,132.48 220.08,132.53 220.27,135.14 220.46,134.8 220.65,133.68 220.84,131.29 221.03,133.35 221.22,127.74 221.41,127.53 221.6,124.03 221.79,124.36 221.98,123.62 222.17,121.55 222.36,119.23 222.55,119.27 222.74,120.63 222.93,116.29" fill="none" stroke="#1f77b4" stroke-width="0.72" stroke-linejoin="round"/>
<line x1="33.3" y1="137.69" x2="223.5" y2="137.69" stroke="#ff0000" stroke-opacity="0.6" stroke-width="1.2"/>
</g>
<rect x="33.3" y="80.3" width="190.2" height="60" fill="none" stroke="#000" stroke-opacity="0.42" stroke-width="0.6"/>
<line x1="33.3" y1="140.3" x2="33.3" y2="141.8" stroke="#000" stroke-opacity="0.6" stroke-width="0.5"/>
<text x="33.3" y="148.7" text-anchor="middle" font-size="8.1">0</text>
<line x1="71.34" y1="140.3" x2="71.34" y2="141.8" stroke="#000" stroke-opacity="0.6" stroke-width="0.5"/>
<text x="71.34" y="148.7" text-anchor="middle" font-size="8.1">200</text>
<line x1="109.38" y1="140.3" x2="109.38" y2="141.8" stroke="#000" stroke-opacity="0.6" stroke-width="0.5"/>
<text x="109.38" y="148.7" text-anchor="middle" font-size="8.1">400</text>
<line x1="147.42" y1="140.3" x2="147.42" y2="141.8" stroke="#000" stroke-opacity="0.6" stroke-width="0.5"/>
<text x="147.42" y="148.7" text-anchor="middle" font-size="8.1">600</text>
<line x1="185.46" y1="140.3" x2="185.46" y2="141.8" stroke="#000" stroke-opacity="0.6" stroke-width="0.5"/>
<text x="185.46" y="148.7" text-anchor="middle" font-size="8.1">800</text>
<line x1="223.5" y1="140.3" x2="223.5" y2="141.8" stroke="#000" stroke-opacity="0.6" stroke-width="0.5"/>
<text x="223.5" y="148.7" text-anchor="middle" font-size="8.1">1<tspan dx="-1.54">,</tspan><tspan dx="-1.05">000</tspan></text>
<line x1="31.8" y1="140.3" x2="33.3" y2="140.3" stroke="#000" stroke-opacity="0.6" stroke-width="0.5"/>
<text x="30.4" y="143.3" text-anchor="end" font-size="8.1">0</text>
<line x1="31.8" y1="110.3" x2="33.3" y2="110.3" stroke="#000" stroke-opacity="0.6" stroke-width="0.5"/>
<text x="30.4" y="113.3" text-anchor="end" font-size="8.1">10</text>
<line x1="31.8" y1="80.3" x2="33.3" y2="80.3" stroke="#000" stroke-opacity="0.6" stroke-width="0.5"/>
<text x="30.4" y="83.3" text-anchor="end" font-size="8.1">20</text>
<text transform="translate(17.9 110.3) rotate(-90)" text-anchor="middle" font-size="8.1" font-style="italic">SPE(Q)</text>
<text x="128.1" y="158.1" text-anchor="middle" font-size="8.1">Samples</text>
<rect x="36.7" y="84.03" width="107.6" height="15.23" rx="1.4" fill="#fff" fill-opacity="0.8" stroke="#ccc" stroke-opacity="0.6" stroke-width="0.6"/>
<line x1="40.02" y1="91.34" x2="57.11" y2="91.34" stroke="#ff0000" stroke-opacity="0.45" stroke-width="1.8"/>
<text x="63.84" y="94.31" text-anchor="start" font-size="8.1">99% Q control limit</text>
<clipPath id="c2"><rect x="283.4" y="8.3" width="193.2" height="59.9"/></clipPath>
<g clip-path="url(#c2)">
<polyline points="283.4,68.2 283.59,68.2 283.79,68.2 283.98,68.2 284.17,68.2 284.37,68.2 284.56,68.2 284.75,68.2 284.95,68.2 285.14,68.2 285.33,68.2 285.53,68.2 285.72,68.2 285.91,68.2 286.1,68.2 286.3,68.2 286.49,68.2 286.68,68.2 286.88,68.2 287.07,68.2 287.26,68.2 287.46,68.2 287.65,68.2 287.84,68.2 288.04,68.2 288.23,68.2 288.42,68.2 288.62,68.2 288.81,68.2 289,68.2 289.2,68.2 289.39,68.2 289.58,68.2 289.78,68.2 289.97,68.2 290.16,68.2 290.36,68.2 290.55,68.2 290.74,68.2 290.93,68.2 291.13,68.2 291.32,68.2 291.51,68.2 291.71,68.2 291.9,68.2 292.09,68.2 292.29,68.2 292.48,68.2 292.67,68.2 292.87,68.2 293.06,68.2 293.25,68.2 293.45,68.2 293.64,68.2 293.83,68.2 294.03,68.2 294.22,68.2 294.41,68.2 294.61,68.2 294.8,68.2 294.99,68.2 295.19,68.2 295.38,68.2 295.57,68.2 295.76,68.2 295.96,68.2 296.15,68.2 296.34,68.2 296.54,68.2 296.73,68.2 296.92,68.2 297.12,68.2 297.31,68.2 297.5,68.2 297.7,68.2 297.89,68.2 298.08,68.2 298.28,68.2 298.47,68.2 298.66,68.2 298.86,68.2 299.05,68.2 299.24,68.2 299.44,68.2 299.63,68.2 299.82,68.2 300.02,68.2 300.21,68.2 300.4,68.2 300.59,68.2 300.79,68.2 300.98,68.2 301.17,68.2 301.37,68.2 301.56,68.2 301.75,68.2 301.95,68.2 302.14,68.2 302.33,68.2 302.53,68.2 302.72,68.2 302.91,68.2 303.11,68.2 303.3,68.2 303.49,68.2 303.69,68.2 303.88,68.2 304.07,68.2 304.27,68.2 304.46,68.2 304.65,68.2 304.85,68.2 305.04,68.2 305.23,68.2 305.42,68.2 305.62,68.2 305.81,68.2 306,68.2 306.2,68.2 306.39,68.2 306.58,68.2 306.78,68.2 306.97,68.2 307.16,68.2 307.36,68.2 307.55,68.2 307.74,68.2 307.94,68.2 308.13,68.2 308.32,68.2 308.52,68.2 308.71,68.2 308.9,68.2 309.1,68.2 309.29,68.2 309.48,68.2 309.68,68.2 309.87,68.2 310.06,68.2 310.25,68.2 310.45,68.2 310.64,68.2 310.83,68.2 311.03,68.2 311.22,68.2 311.41,68.2 311.61,68.2 311.8,68.2 311.99,68.2 312.19,68.2 312.38,68.2 312.57,68.2 312.77,68.2 312.96,68.2 313.15,68.2 313.35,68.2 313.54,68.2 313.73,68.2 313.93,68.2 314.12,68.2 314.31,68.2 314.51,68.2 314.7,68.2 314.89,68.2 315.08,68.2 315.28,68.2 315.47,68.2 315.66,68.2 315.86,68.2 316.05,68.2 316.24,68.2 316.44,68.2 316.63,68.2 316.82,68.2 317.02,68.2 317.21,68.2 317.4,68.2 317.6,68.2 317.79,68.2 317.98,68.2 318.18,68.2 318.37,68.2 318.56,68.2 318.76,68.2 318.95,68.2 319.14,68.2 319.34,68.2 319.53,68.2 319.72,68.2 319.91,68.2 320.11,68.2 320.3,68.2 320.49,68.2 320.69,68.2 320.88,68.2 321.07,68.2 321.27,68.2 321.46,68.2 321.65,68.2 321.85,68.2 322.04,68.2 322.23,68.2 322.43,68.2 322.62,68.2 322.81,68.2 323.01,68.2 323.2,68.2 323.39,68.2 323.59,68.2 323.78,68.2 323.97,68.2 324.17,68.2 324.36,68.2 324.55,68.2 324.74,68.2 324.94,68.2 325.13,68.2 325.32,68.2 325.52,68.2 325.71,68.2 325.9,68.2 326.1,68.2 326.29,68.2 326.48,68.2 326.68,68.2 326.87,68.2 327.06,68.2 327.26,68.2 327.45,68.2 327.64,68.2 327.84,68.2 328.03,68.2 328.22,68.2 328.42,68.2 328.61,68.2 328.8,68.2 329,68.2 329.19,68.2 329.38,68.2 329.57,68.2 329.77,68.2 329.96,68.2 330.15,68.2 330.35,68.2 330.54,68.2 330.73,68.2 330.93,68.2 331.12,68.2 331.31,68.2 331.51,68.2 331.7,68.2 331.89,68.2 332.09,68.2 332.28,68.2 332.47,68.2 332.67,68.2 332.86,68.2 333.05,68.2 333.25,68.2 333.44,68.2 333.63,68.2 333.83,68.2 334.02,68.2 334.21,68.2 334.4,68.2 334.6,68.2 334.79,68.2 334.98,68.2 335.18,68.2 335.37,68.2 335.56,68.2 335.76,68.2 335.95,68.2 336.14,68.2 336.34,68.2 336.53,68.2 336.72,68.2 336.92,68.2 337.11,68.2 337.3,68.2 337.5,68.2 337.69,68.2 337.88,68.2 338.08,68.2 338.27,68.2 338.46,68.2 338.66,68.2 338.85,68.2 339.04,68.2 339.23,68.2 339.43,68.2 339.62,68.2 339.81,68.2 340.01,68.2 340.2,68.2 340.39,68.2 340.59,68.2 340.78,68.2 340.97,68.2 341.17,68.2 341.36,68.2 341.55,68.2 341.75,68.2 341.94,68.2 342.13,68.2 342.33,68.2 342.52,68.2 342.71,68.2 342.91,68.2 343.1,68.2 343.29,68.2 343.49,68.2 343.68,68.2 343.87,68.2 344.06,68.2 344.26,68.2 344.45,68.2 344.64,68.2 344.84,68.2 345.03,68.2 345.22,68.2 345.42,68.2 345.61,68.2 345.8,68.2 346,68.2 346.19,68.2 346.38,68.2 346.58,68.2 346.77,68.2 346.96,68.2 347.16,68.2 347.35,68.2 347.54,68.2 347.74,68.2 347.93,68.2 348.12,68.2 348.32,68.2 348.51,68.2 348.7,68.2 348.89,68.2 349.09,68.2 349.28,68.2 349.47,68.2 349.67,68.2 349.86,68.2 350.05,68.2 350.25,68.2 350.44,68.2 350.63,68.2 350.83,68.2 351.02,68.2 351.21,68.2 351.41,68.2 351.6,68.2 351.79,68.2 351.99,68.2 352.18,68.2 352.37,68.2 352.57,68.2 352.76,68.2 352.95,68.2 353.15,68.2 353.34,68.2 353.53,68.2 353.72,68.2 353.92,68.2 354.11,68.2 354.3,68.2 354.5,68.2 354.69,68.2 354.88,68.2 355.08,68.2 355.27,68.2 355.46,68.2 355.66,68.2 355.85,68.2 356.04,68.2 356.24,68.2 356.43,68.2 356.62,68.2 356.82,68.2 357.01,68.2 357.2,68.2 357.4,68.2 357.59,68.2 357.78,68.2 357.98,68.2 358.17,68.2 358.36,68.2 358.55,68.2 358.75,68.2 358.94,68.2 359.13,68.2 359.33,68.2 359.52,68.2 359.71,68.2 359.91,68.2 360.1,68.2 360.29,68.2 360.49,68.2 360.68,68.2 360.87,68.2 361.07,68.2 361.26,68.2 361.45,68.2 361.65,68.2 361.84,68.2 362.03,68.2 362.23,68.2 362.42,68.2 362.61,68.2 362.81,68.2 363,68.2 363.19,68.2 363.38,68.2 363.58,68.2 363.77,68.2 363.96,68.2 364.16,68.2 364.35,68.2 364.54,68.2 364.74,68.2 364.93,68.2 365.12,68.2 365.32,68.2 365.51,68.2 365.7,68.2 365.9,68.2 366.09,68.2 366.28,68.2 366.48,68.2 366.67,68.2 366.86,68.2 367.06,68.2 367.25,68.2 367.44,68.2 367.64,68.2 367.83,68.2 368.02,68.2 368.21,68.2 368.41,68.2 368.6,68.2 368.79,68.2 368.99,68.2 369.18,68.2 369.37,68.2 369.57,68.2 369.76,68.2 369.95,68.2 370.15,68.2 370.34,58.1 370.53,54.44 370.73,50.82 370.92,47.38 371.11,44.26 371.31,42.98 371.5,45.93 371.69,49.24 371.89,52.8 372.08,56.46 372.27,60.07 372.47,63.47 372.66,66.54 372.85,66.43 373.04,61.54 373.24,56.08 373.43,50.25 373.62,44.27 373.82,38.41 374.01,32.93 374.2,27.99 374.4,28.22 374.59,33.19 374.78,38.7 374.98,44.57 375.17,50.54 375.36,56.37 375.56,61.8 375.75,66.65 375.94,65.18 376.14,59.99 376.33,54.27 376.52,48.21 376.72,42.07 376.91,36.12 377.1,30.6 377.3,25.69 377.49,28.31 377.68,33.57 377.87,39.35 378.07,45.44 378.26,51.57 378.45,57.47 378.65,62.92 378.84,67.75 379.03,64 379.23,58.74 379.42,52.99 379.61,46.96 379.81,40.93 380,35.15 380.19,29.84 380.39,25.38 380.58,30.1 380.77,35.43 380.97,41.23 381.16,47.27 381.35,53.28 381.55,59.02 381.74,64.25 381.93,67.52 382.13,62.61 382.32,57.09 382.51,51.11 382.7,44.92 382.9,38.78 383.09,32.97 383.28,27.69 383.48,25.53 383.67,30.52 383.86,36.11 384.06,42.13 384.25,48.33 384.44,54.44 384.64,60.2 384.83,65.4 385.02,66.44 385.22,61.6 385.41,56.2 385.6,50.42 385.8,44.5 385.99,38.7 386.18,33.26 386.38,28.37 386.57,28.6 386.76,33.52 386.96,38.98 387.15,44.79 387.34,50.71 387.53,56.48 387.73,61.86 387.92,66.67 388.11,65.57 388.31,61.05 388.5,56.06 388.69,50.77 388.89,45.42 389.08,40.24 389.27,35.43 389.47,31.15 389.66,33.43 389.85,38.02 390.05,43.05 390.24,48.36 390.43,53.7 390.63,58.85 390.82,63.6 391.01,67.81 391.21,61.56 391.4,53.24 391.59,44.14 391.79,34.62 391.98,25.08 392.17,15.93 392.36,7.54 392.56,0.49 392.75,7.94 392.94,16.38 393.14,25.55 393.33,35.1 393.52,44.61 393.72,53.68 393.91,61.95 394.1,67.45 394.3,61.98 394.49,55.82 394.68,49.17 394.88,42.27 395.07,35.44 395.26,28.97 395.46,23.09 395.65,20.68 395.84,26.24 396.04,32.47 396.23,39.17 396.42,46.07 396.62,52.88 396.81,59.29 397,65.08 397.19,66.4 397.39,61.44 397.58,55.91 397.77,49.99 397.97,43.93 398.16,37.99 398.35,32.43 398.55,27.42 398.74,27.65 398.93,32.69 399.13,38.28 399.32,44.23 399.51,50.29 399.71,56.2 399.9,61.71 400.09,66.63 400.29,64.46 400.48,58.04 400.67,50.94 400.87,43.44 401.06,35.83 401.25,28.46 401.45,21.63 401.64,15.54 401.83,18.79 402.02,25.31 402.22,32.47 402.41,40.01 402.6,47.6 402.8,54.92 402.99,61.66 403.18,67.65 403.38,62.69 403.57,55.79 403.76,48.25 403.96,40.35 404.15,32.43 404.34,24.85 404.54,17.89 404.73,12.04 404.92,18.22 405.12,25.22 405.31,32.82 405.5,40.74 405.7,48.63 405.89,56.15 406.08,63.02 406.28,67.74 406.47,64.39 406.66,60.62 406.85,56.55 407.05,52.32 407.24,48.14 407.43,44.18 407.63,40.58 407.82,39.1 408.01,42.51 408.21,46.32 408.4,50.43 408.59,54.65 408.79,58.82 408.98,62.74 409.17,66.29 409.37,66.11 409.56,60.34 409.75,53.91 409.95,47.03 410.14,39.98 410.33,33.08 410.53,26.6 410.72,20.78 410.91,21.05 411.11,26.91 411.3,33.41 411.49,40.33 411.68,47.38 411.88,54.25 412.07,60.65 412.26,66.38 412.46,64.43 412.65,57.96 412.84,50.82 413.04,43.25 413.23,35.59 413.42,28.17 413.62,21.28 413.81,15.15 414,18.42 414.2,24.99 414.39,32.2 414.58,39.8 414.78,47.45 414.97,54.82 415.16,61.62 415.36,67.64 415.55,63.61 415.74,57.86 415.94,51.57 416.13,44.99 416.32,38.39 416.51,32.08 416.71,26.28 416.9,21.4 417.09,26.55 417.29,32.38 417.48,38.72 417.67,45.32 417.87,51.9 418.06,58.16 418.25,63.88 418.45,67.58 418.64,63.12 418.83,58.1 419.03,52.66 419.22,47.03 419.41,41.46 419.61,36.17 419.8,31.37 419.99,29.41 420.19,33.94 420.38,39.03 420.57,44.5 420.77,50.14 420.96,55.69 421.15,60.92 421.34,65.65 421.54,66.01 421.73,59.97 421.92,53.23 422.12,46.01 422.31,38.63 422.5,31.39 422.7,24.61 422.89,18.51 423.08,18.79 423.28,24.93 423.47,31.74 423.66,38.99 423.86,46.38 424.05,53.58 424.24,60.29 424.44,66.29 424.63,64.88 424.82,59.17 425.02,52.86 425.21,46.19 425.4,39.43 425.6,32.88 425.79,26.8 425.98,21.39 426.17,24.28 426.37,30.07 426.56,36.44 426.75,43.14 426.95,49.89 427.14,56.39 427.33,62.39 427.53,67.71 427.72,64.2 427.91,59.18 428.11,53.69 428.3,47.95 428.49,42.2 428.69,36.69 428.88,31.63 429.07,27.37 429.27,31.87 429.46,36.95 429.65,42.48 429.85,48.24 430.04,53.98 430.23,59.44 430.43,64.43 430.62,67.65 430.81,63.63 431,59.11 431.2,54.22 431.39,49.15 431.58,44.13 431.78,39.38 431.97,35.06 432.16,33.29 432.36,37.37 432.55,41.95 432.74,46.87 432.94,51.94 433.13,56.94 433.32,61.65 433.52,65.91 433.71,66.34 433.9,61.22 434.1,55.51 434.29,49.4 434.48,43.14 434.68,37.01 434.87,31.26 435.06,26.09 435.26,26.33 435.45,31.54 435.64,37.31 435.83,43.45 436.03,49.71 436.22,55.81 436.41,61.49 436.61,66.58 436.8,64.67 436.99,58.6 437.19,51.9 437.38,44.81 437.57,37.63 437.77,30.67 437.96,24.22 438.15,18.47 438.35,21.53 438.54,27.69 438.73,34.45 438.93,41.57 439.12,48.74 439.31,55.65 439.51,62.03 439.7,67.68 439.89,64.2 440.09,59.18 440.28,53.69 440.47,47.95 440.66,42.2 440.86,36.69 441.05,31.63 441.24,27.37 441.44,31.87 441.63,36.95 441.82,42.48 442.02,48.24 442.21,53.98 442.4,59.44 442.6,64.43 442.79,67.48 442.98,62.23 443.18,56.33 443.37,49.94 443.56,43.33 443.76,36.78 443.95,30.57 444.14,24.93 444.34,22.62 444.53,27.95 444.72,33.93 444.92,40.36 445.11,46.98 445.3,53.5 445.49,59.65 445.69,65.21 445.88,65.84 446.07,59.34 446.27,52.08 446.46,44.32 446.65,36.37 446.85,28.58 447.04,21.28 447.23,14.71 447.43,15.02 447.62,21.63 447.81,28.96 448.01,36.77 448.2,44.72 448.39,52.46 448.59,59.68 448.78,66.14 448.97,64.74 449.17,58.79 449.36,52.22 449.55,45.27 449.75,38.23 449.94,31.41 450.13,25.08 450.32,19.44 450.52,22.45 450.71,28.48 450.9,35.11 451.1,42.09 451.29,49.13 451.48,55.9 451.68,62.15 451.87,67.69 452.06,63.86 452.26,58.43 452.45,52.49 452.64,46.27 452.84,40.04 453.03,34.07 453.22,28.6 453.42,23.99 453.61,28.85 453.8,34.36 454,40.35 454.19,46.59 454.38,52.8 454.58,58.72 454.77,64.12 454.96,67.66 455.15,63.73 455.35,59.31 455.54,54.53 455.73,49.57 455.93,44.67 456.12,40.02 456.31,35.79 456.51,34.06 456.7,38.06 456.89,42.53 457.09,47.35 457.28,52.31 457.47,57.19 457.67,61.8 457.86,65.96 458.05,65.76 458.25,59.02 458.44,51.51 458.63,43.47 458.83,35.24 459.02,27.17 459.21,19.61 459.41,12.82 459.6,13.13 459.79,19.98 459.98,27.57 460.18,35.65 460.37,43.88 460.56,51.9 460.76,59.38 460.95,66.07 461.14,64.49 461.34,58.11 461.53,51.07 461.72,43.62 461.92,36.07 462.11,28.76 462.3,21.97 462.5,15.93 462.69,19.16 462.88,25.62 463.08,32.73 463.27,40.21 463.46,47.75 463.66,55.01 463.85,61.71 464.04,67.65 464.24,62.3 464.43,54.91 464.62,46.83 464.81,38.37 465.01,29.9 465.2,21.78 465.39,14.32 465.59,8.05 465.78,14.68 465.97,22.17 466.17,30.31 466.36,38.8 466.55,47.25 466.75,55.3 466.94,62.65 467.13,67.68 467.33,63.88 467.52,59.61 467.71,54.99 467.91,50.21 468.1,45.47 468.29,40.98 468.49,36.9 468.68,35.23 468.87,39.08 469.07,43.41 469.26,48.06 469.45,52.85 469.64,57.57 469.84,62.01 470.03,66.03 470.22,66.68 470.42,62.48 470.61,57.8 470.8,52.79 471,47.66 471.19,42.63 471.38,37.92 471.58,33.68 471.77,33.88 471.96,38.14 472.16,42.87 472.35,47.91 472.54,53.04 472.74,58.04 472.93,62.7 473.12,66.87 473.32,64.85 473.51,59.09 473.7,52.73 473.9,46 474.09,39.19 474.28,32.58 474.47,26.46 474.67,21 474.86,23.91 475.05,29.76 475.25,36.17 475.44,42.93 475.63,49.74 475.83,56.29 476.02,62.34" fill="none" stroke="#1f77b4" stroke-width="0.6" stroke-linejoin="round"/>
<line x1="283.4" y1="68.14" x2="476.6" y2="68.14" stroke="#ff0000" stroke-opacity="0.6" stroke-width="1.2"/>
</g>
<rect x="283.4" y="8.3" width="193.2" height="59.9" fill="none" stroke="#000" stroke-opacity="0.42" stroke-width="0.6"/>
<line x1="283.4" y1="68.2" x2="283.4" y2="69.7" stroke="#000" stroke-opacity="0.6" stroke-width="0.5"/>
<text x="283.4" y="76.6" text-anchor="middle" font-size="7.7">0</text>
<line x1="322.04" y1="68.2" x2="322.04" y2="69.7" stroke="#000" stroke-opacity="0.6" stroke-width="0.5"/>
<text x="322.04" y="76.6" text-anchor="middle" font-size="7.7">200</text>
<line x1="360.68" y1="68.2" x2="360.68" y2="69.7" stroke="#000" stroke-opacity="0.6" stroke-width="0.5"/>
<text x="360.68" y="76.6" text-anchor="middle" font-size="7.7">400</text>
<line x1="399.32" y1="68.2" x2="399.32" y2="69.7" stroke="#000" stroke-opacity="0.6" stroke-width="0.5"/>
<text x="399.32" y="76.6" text-anchor="middle" font-size="7.7">600</text>
<line x1="437.96" y1="68.2" x2="437.96" y2="69.7" stroke="#000" stroke-opacity="0.6" stroke-width="0.5"/>
<text x="437.96" y="76.6" text-anchor="middle" font-size="7.7">800</text>
<line x1="476.6" y1="68.2" x2="476.6" y2="69.7" stroke="#000" stroke-opacity="0.6" stroke-width="0.5"/>
<text x="476.6" y="76.6" text-anchor="middle" font-size="7.7">1<tspan dx="-1.46">,</tspan><tspan dx="-1">000</tspan></text>
<line x1="281.9" y1="68.2" x2="283.4" y2="68.2" stroke="#000" stroke-opacity="0.6" stroke-width="0.5"/>
<text x="280.2" y="71.05" text-anchor="end" font-size="7.7" letter-spacing="-0.33">0</text>
<line x1="281.9" y1="48.23" x2="283.4" y2="48.23" stroke="#000" stroke-opacity="0.6" stroke-width="0.5"/>
<text x="280.2" y="51.08" text-anchor="end" font-size="7.7" letter-spacing="-0.33">100<tspan dx="-1.46">,</tspan><tspan dx="-1">000</tspan></text>
<line x1="281.9" y1="28.27" x2="283.4" y2="28.27" stroke="#000" stroke-opacity="0.6" stroke-width="0.5"/>
<text x="280.2" y="31.12" text-anchor="end" font-size="7.7" letter-spacing="-0.33">200<tspan dx="-1.46">,</tspan><tspan dx="-1">000</tspan></text>
<line x1="281.9" y1="8.3" x2="283.4" y2="8.3" stroke="#000" stroke-opacity="0.6" stroke-width="0.5"/>
<text x="280.2" y="11.15" text-anchor="end" font-size="7.7" letter-spacing="-0.33">300<tspan dx="-1.46">,</tspan><tspan dx="-1">000</tspan></text>
<rect x="286.63" y="11.84" width="104.5" height="14.48" rx="1.4" fill="#fff" fill-opacity="0.8" stroke="#ccc" stroke-opacity="0.6" stroke-width="0.6"/>
<line x1="289.79" y1="18.78" x2="306.04" y2="18.78" stroke="#ff0000" stroke-opacity="0.5" stroke-width="1.4"/>
<text x="312.43" y="21.62" text-anchor="start" font-size="7.7">99% <tspan font-style="italic">T</tspan><tspan dy="-3.31" font-size="5.39" dx="0.4">2</tspan><tspan dy="3.31"> control limit</tspan></text>
<clipPath id="c3"><rect x="283.4" y="80.2" width="193.2" height="60.1"/></clipPath>
<g clip-path="url(#c3)">
<polyline points="283.4,140.3 283.59,140.3 283.79,140.3 283.98,140.3 284.17,140.3 284.37,140.3 284.56,140.3 284.75,140.3 284.95,140.3 285.14,140.3 285.33,140.3 285.53,140.3 285.72,140.3 285.91,140.3 286.1,140.3 286.3,140.3 286.49,140.3 286.68,140.3 286.88,140.3 287.07,140.3 287.26,140.3 287.46,140.3 287.65,140.3 287.84,140.3 288.04,140.3 288.23,140.3 288.42,140.3 288.62,140.3 288.81,140.3 289,140.3 289.2,140.3 289.39,140.3 289.58,140.3 289.78,140.3 289.97,140.3 290.16,140.3 290.36,140.3 290.55,140.3 290.74,140.3 290.93,140.3 291.13,140.3 291.32,140.3 291.51,140.3 291.71,140.3 291.9,140.3 292.09,140.3 292.29,140.3 292.48,140.3 292.67,140.3 292.87,140.3 293.06,140.3 293.25,140.3 293.45,140.3 293.64,140.3 293.83,140.3 294.03,140.3 294.22,140.3 294.41,140.3 294.61,140.3 294.8,140.3 294.99,140.3 295.19,140.3 295.38,140.3 295.57,140.3 295.76,140.3 295.96,140.3 296.15,140.3 296.34,140.3 296.54,140.3 296.73,140.3 296.92,140.3 297.12,140.3 297.31,140.3 297.5,140.3 297.7,140.3 297.89,140.3 298.08,140.3 298.28,140.3 298.47,140.3 298.66,140.3 298.86,140.3 299.05,140.3 299.24,140.3 299.44,140.3 299.63,140.3 299.82,140.3 300.02,140.3 300.21,140.3 300.4,140.3 300.59,140.3 300.79,140.3 300.98,140.3 301.17,140.3 301.37,140.3 301.56,140.3 301.75,140.3 301.95,140.3 302.14,140.3 302.33,140.3 302.53,140.3 302.72,140.3 302.91,140.3 303.11,140.3 303.3,140.3 303.49,140.3 303.69,140.3 303.88,140.3 304.07,140.3 304.27,140.3 304.46,140.3 304.65,140.3 304.85,140.3 305.04,140.3 305.23,140.3 305.42,140.3 305.62,140.3 305.81,140.3 306,140.3 306.2,140.3 306.39,140.3 306.58,140.3 306.78,140.3 306.97,140.3 307.16,140.3 307.36,140.3 307.55,140.3 307.74,140.3 307.94,140.3 308.13,140.3 308.32,140.3 308.52,140.3 308.71,140.3 308.9,140.3 309.1,140.3 309.29,140.3 309.48,140.3 309.68,140.3 309.87,140.3 310.06,140.3 310.25,140.3 310.45,140.3 310.64,140.3 310.83,140.3 311.03,140.3 311.22,140.3 311.41,140.3 311.61,140.3 311.8,140.3 311.99,140.3 312.19,140.3 312.38,140.3 312.57,140.3 312.77,140.3 312.96,140.3 313.15,140.3 313.35,140.3 313.54,140.3 313.73,140.3 313.93,140.3 314.12,140.3 314.31,140.3 314.51,140.3 314.7,140.3 314.89,140.3 315.08,140.3 315.28,140.3 315.47,140.3 315.66,140.3 315.86,140.3 316.05,140.3 316.24,140.3 316.44,140.3 316.63,140.3 316.82,140.3 317.02,140.3 317.21,140.3 317.4,140.3 317.6,140.3 317.79,140.3 317.98,140.3 318.18,140.3 318.37,140.3 318.56,140.3 318.76,140.3 318.95,140.3 319.14,140.3 319.34,140.3 319.53,140.3 319.72,140.3 319.91,140.3 320.11,140.3 320.3,140.3 320.49,140.3 320.69,140.3 320.88,140.3 321.07,140.3 321.27,140.3 321.46,140.3 321.65,140.3 321.85,140.3 322.04,140.3 322.23,140.3 322.43,140.3 322.62,140.3 322.81,140.3 323.01,140.3 323.2,140.3 323.39,140.3 323.59,140.3 323.78,140.3 323.97,140.3 324.17,140.3 324.36,140.3 324.55,140.3 324.74,140.3 324.94,140.3 325.13,140.3 325.32,140.3 325.52,140.3 325.71,140.3 325.9,140.3 326.1,140.3 326.29,140.3 326.48,140.3 326.68,140.3 326.87,140.3 327.06,140.3 327.26,140.3 327.45,140.3 327.64,140.3 327.84,140.3 328.03,140.3 328.22,140.3 328.42,140.3 328.61,140.3 328.8,140.3 329,140.3 329.19,140.3 329.38,140.3 329.57,140.3 329.77,140.3 329.96,140.3 330.15,140.3 330.35,140.3 330.54,140.3 330.73,140.3 330.93,140.3 331.12,140.3 331.31,140.3 331.51,140.3 331.7,140.3 331.89,140.3 332.09,140.3 332.28,140.3 332.47,140.3 332.67,140.3 332.86,140.3 333.05,140.3 333.25,140.3 333.44,140.3 333.63,140.3 333.83,140.3 334.02,140.3 334.21,140.3 334.4,140.3 334.6,140.3 334.79,140.3 334.98,140.3 335.18,140.3 335.37,140.3 335.56,140.3 335.76,140.3 335.95,140.3 336.14,140.3 336.34,140.3 336.53,140.3 336.72,140.3 336.92,140.3 337.11,140.3 337.3,140.3 337.5,140.3 337.69,140.3 337.88,140.3 338.08,140.3 338.27,140.3 338.46,140.3 338.66,140.3 338.85,140.3 339.04,140.3 339.23,140.3 339.43,140.3 339.62,140.3 339.81,140.3 340.01,140.3 340.2,140.3 340.39,140.3 340.59,140.3 340.78,140.3 340.97,140.3 341.17,140.3 341.36,140.3 341.55,140.3 341.75,140.3 341.94,140.3 342.13,140.3 342.33,140.3 342.52,140.3 342.71,140.3 342.91,140.3 343.1,140.3 343.29,140.3 343.49,140.3 343.68,140.3 343.87,140.3 344.06,140.3 344.26,140.3 344.45,140.3 344.64,140.3 344.84,140.3 345.03,140.3 345.22,140.3 345.42,140.3 345.61,140.3 345.8,140.3 346,140.3 346.19,140.3 346.38,140.3 346.58,140.3 346.77,140.3 346.96,140.3 347.16,140.3 347.35,140.3 347.54,140.3 347.74,140.3 347.93,140.3 348.12,140.3 348.32,140.3 348.51,140.3 348.7,140.3 348.89,140.3 349.09,140.3 349.28,140.3 349.47,140.3 349.67,140.3 349.86,140.3 350.05,140.3 350.25,140.3 350.44,140.3 350.63,140.3 350.83,140.3 351.02,140.3 351.21,140.3 351.41,140.3 351.6,140.3 351.79,140.3 351.99,140.3 352.18,140.3 352.37,140.3 352.57,140.3 352.76,140.3 352.95,140.3 353.15,140.3 353.34,140.3 353.53,140.3 353.72,140.3 353.92,140.3 354.11,140.3 354.3,140.3 354.5,140.3 354.69,140.3 354.88,140.3 355.08,140.3 355.27,140.3 355.46,140.3 355.66,140.3 355.85,140.3 356.04,140.3 356.24,140.3 356.43,140.3 356.62,140.3 356.82,140.3 357.01,140.3 357.2,140.3 357.4,140.3 357.59,140.3 357.78,140.3 357.98,140.3 358.17,140.3 358.36,140.3 358.55,140.3 358.75,140.3 358.94,140.3 359.13,140.3 359.33,140.3 359.52,140.3 359.71,140.3 359.91,140.3 360.1,140.3 360.29,140.3 360.49,140.3 360.68,140.3 360.87,140.3 361.07,140.3 361.26,140.3 361.45,140.3 361.65,140.3 361.84,140.3 362.03,140.3 362.23,140.3 362.42,140.3 362.61,140.3 362.81,140.3 363,140.3 363.19,140.3 363.38,140.3 363.58,140.3 363.77,140.3 363.96,140.3 364.16,140.3 364.35,140.3 364.54,140.3 364.74,140.3 364.93,140.3 365.12,140.3 365.32,140.3 365.51,140.3 365.7,140.3 365.9,140.3 366.09,140.3 366.28,140.3 366.48,140.3 366.67,140.3 366.86,140.3 367.06,140.3 367.25,140.3 367.44,140.3 367.64,140.3 367.83,140.3 368.02,140.3 368.21,140.3 368.41,140.3 368.6,140.3 368.79,140.3 368.99,140.3 369.18,140.3 369.37,140.3 369.57,140.3 369.76,140.3 369.95,140.3 370.15,140.3 370.34,125.88 370.53,121.3 370.73,116.72 370.92,112.14 371.11,107.56 371.31,105.5 371.5,110.08 371.69,114.66 371.89,119.24 372.08,123.82 372.27,128.39 372.47,132.97 372.66,137.55 372.85,136.64 373.04,127.48 373.24,118.32 373.43,109.16 373.62,100 373.82,90.85 374.01,81.69 374.2,72.53 374.4,72.99 374.59,82.15 374.78,91.3 374.98,100.46 375.17,109.62 375.36,118.78 375.56,127.94 375.75,137.09 375.94,133.85 376.14,123.93 376.33,114.01 376.52,104.09 376.72,94.17 376.91,84.24 377.1,74.32 377.3,64.4 377.49,69.86 377.68,79.78 377.87,89.7 378.07,99.62 378.26,109.54 378.45,119.47 378.65,129.39 378.84,139.31 379.03,131.71 379.23,122.17 379.42,112.63 379.61,103.1 379.81,93.56 380,84.02 380.19,74.48 380.39,65.41 380.58,74.95 380.77,84.49 380.97,94.03 381.16,103.57 381.35,113.11 381.55,122.65 381.74,132.19 381.93,138.75 382.13,128.45 382.32,118.15 382.51,107.85 382.7,97.54 382.9,87.24 383.09,76.94 383.28,66.63 383.48,62.17 383.67,72.3 383.86,82.6 384.06,92.91 384.25,103.21 384.44,113.51 384.64,123.82 384.83,134.12 385.02,136.64 385.22,127.48 385.41,118.32 385.6,109.16 385.8,100 385.99,90.85 386.18,81.69 386.38,72.53 386.57,72.99 386.76,82.15 386.96,91.3 387.15,100.46 387.34,109.62 387.53,118.78 387.73,127.94 387.92,137.09 388.11,135.46 388.31,128.02 388.5,120.58 388.69,113.14 388.89,105.7 389.08,98.26 389.27,90.82 389.47,83.38 389.66,87.47 389.85,94.91 390.05,102.35 390.24,109.79 390.43,117.23 390.63,124.67 390.82,132.11 391.01,139.56 391.21,130 391.4,118.55 391.59,107.1 391.79,95.65 391.98,84.21 392.17,72.76 392.36,62.17 392.56,62.17 392.75,62.17 392.94,73.33 393.14,84.78 393.33,96.23 393.52,107.67 393.72,119.12 393.91,130.57 394.1,138.81 394.3,128.89 394.49,118.97 394.68,109.05 394.88,99.13 395.07,89.21 395.26,79.28 395.46,69.36 395.65,64.9 395.84,74.82 396.04,84.74 396.23,94.66 396.42,104.58 396.62,114.5 396.81,124.43 397,134.35 397.19,136.48 397.39,126.94 397.58,117.4 397.77,107.87 397.97,98.33 398.16,88.79 398.35,79.25 398.55,69.71 398.74,70.18 398.93,79.72 399.13,89.26 399.32,98.8 399.51,108.34 399.71,117.88 399.9,127.42 400.09,136.96 400.29,133.11 400.48,122.04 400.67,110.98 400.87,99.91 401.06,88.84 401.25,77.78 401.45,66.71 401.64,62.17 401.83,62.17 402.02,72.8 402.22,83.86 402.41,94.93 402.6,106 402.8,117.06 402.99,128.13 403.18,139.19 403.38,130 403.57,118.55 403.76,107.1 403.96,95.65 404.15,84.21 404.34,72.76 404.54,62.17 404.73,62.17 404.92,62.17 405.12,73.33 405.31,84.78 405.5,96.23 405.7,107.67 405.89,119.12 406.08,130.57 406.28,139.21 406.47,131.96 406.66,124.71 406.85,117.46 407.05,110.21 407.24,102.96 407.43,95.71 407.63,88.46 407.82,85.2 408.01,92.45 408.21,99.7 408.4,106.95 408.59,114.2 408.79,121.45 408.98,128.7 409.17,135.95 409.37,136.33 409.56,126.41 409.75,116.49 409.95,106.57 410.14,96.65 410.33,86.73 410.53,76.8 410.72,66.88 410.91,67.38 411.11,77.3 411.3,87.22 411.49,97.14 411.68,107.06 411.88,116.99 412.07,126.91 412.26,136.83 412.46,133.36 412.65,122.67 412.84,111.99 413.04,101.3 413.23,90.62 413.42,79.93 413.62,69.25 413.81,62.17 414,64.44 414.2,75.12 414.39,85.81 414.58,96.49 414.78,107.18 414.97,117.86 415.16,128.55 415.36,139.23 415.55,131.71 415.74,122.17 415.94,112.63 416.13,103.1 416.32,93.56 416.51,84.02 416.71,74.48 416.9,65.41 417.09,74.95 417.29,84.49 417.48,94.03 417.67,103.57 417.87,113.11 418.06,122.65 418.25,132.19 418.45,139.04 418.64,130.65 418.83,122.25 419.03,113.86 419.22,105.46 419.41,97.07 419.61,88.67 419.8,80.28 419.99,76.5 420.19,84.89 420.38,93.29 420.57,101.68 420.77,110.08 420.96,118.47 421.15,126.87 421.34,135.26 421.54,136.18 421.73,125.88 421.92,115.57 422.12,105.27 422.31,94.97 422.5,84.66 422.7,74.36 422.89,64.06 423.08,64.57 423.28,74.88 423.47,85.18 423.66,95.48 423.86,105.79 424.05,116.09 424.24,126.39 424.44,136.69 424.63,134.1 424.82,124.56 425.02,115.02 425.21,105.48 425.4,95.94 425.6,86.4 425.79,76.86 425.98,67.32 426.17,72.57 426.37,82.11 426.56,91.65 426.75,101.19 426.95,110.73 427.14,120.27 427.33,129.81 427.53,139.35 427.72,132.4 427.91,123.62 428.11,114.85 428.3,106.07 428.49,97.3 428.69,88.52 428.88,79.74 429.07,71.4 429.27,80.18 429.46,88.96 429.65,97.73 429.85,106.51 430.04,115.29 430.23,124.06 430.43,132.84 430.62,139.16 430.81,131.52 431,123.89 431.2,116.26 431.39,108.63 431.58,101 431.78,93.36 431.97,85.73 432.16,82.3 432.36,89.93 432.55,97.56 432.74,105.19 432.94,112.83 433.13,120.46 433.32,128.09 433.52,135.72 433.71,136.64 433.9,127.48 434.1,118.32 434.29,109.16 434.48,100 434.68,90.85 434.87,81.69 435.06,72.53 435.26,72.99 435.45,82.15 435.64,91.3 435.83,100.46 436.03,109.62 436.22,118.78 436.41,127.94 436.61,137.09 436.8,133.6 436.99,123.3 437.19,113 437.38,102.69 437.57,92.39 437.77,82.09 437.96,71.79 438.15,62.17 438.35,67.15 438.54,77.45 438.73,87.76 438.93,98.06 439.12,108.36 439.31,118.66 439.51,128.97 439.7,139.27 439.89,132.4 440.09,123.62 440.28,114.85 440.47,106.07 440.66,97.3 440.86,88.52 441.05,79.74 441.24,71.4 441.44,80.18 441.63,88.96 441.82,97.73 442.02,106.51 442.21,115.29 442.4,124.06 442.6,132.84 442.79,138.87 442.98,129.33 443.18,119.79 443.37,110.25 443.56,100.71 443.76,91.17 443.95,81.63 444.14,72.09 444.34,67.8 444.53,77.34 444.72,86.88 444.92,96.42 445.11,105.96 445.3,115.5 445.49,125.04 445.69,134.58 445.88,135.72 446.07,124.27 446.27,112.83 446.46,101.38 446.65,89.93 446.85,78.48 447.04,67.04 447.23,62.17 447.43,62.17 447.62,67.61 447.81,79.06 448.01,90.5 448.2,101.95 448.39,113.4 448.59,124.85 448.78,136.29 448.97,133.85 449.17,123.93 449.36,114.01 449.55,104.09 449.75,94.17 449.94,84.24 450.13,74.32 450.32,64.4 450.52,69.86 450.71,79.78 450.9,89.7 451.1,99.62 451.29,109.54 451.48,119.47 451.68,129.39 451.87,139.31 452.06,132.06 452.26,122.9 452.45,113.74 452.64,104.58 452.84,95.43 453.03,86.27 453.22,77.11 453.42,68.41 453.61,77.57 453.8,86.73 454,95.88 454.19,105.04 454.38,114.2 454.58,123.36 454.77,132.52 454.96,139.2 455.15,131.87 455.35,124.55 455.54,117.22 455.73,109.9 455.93,102.57 456.12,95.24 456.31,87.92 456.51,84.62 456.7,91.95 456.89,99.27 457.09,106.6 457.28,113.92 457.47,121.25 457.67,128.58 457.86,135.9 458.05,135.72 458.25,124.27 458.44,112.83 458.63,101.38 458.83,89.93 459.02,78.48 459.21,67.04 459.41,62.17 459.6,62.17 459.79,67.61 459.98,79.06 460.18,90.5 460.37,101.95 460.56,113.4 460.76,124.85 460.95,136.29 461.14,133.36 461.34,122.67 461.53,111.99 461.72,101.3 461.92,90.62 462.11,79.93 462.3,69.25 462.5,62.17 462.69,64.44 462.88,75.12 463.08,85.81 463.27,96.49 463.46,107.18 463.66,117.86 463.85,128.55 464.04,139.23 464.24,129.65 464.43,117.82 464.62,106 464.81,94.17 465.01,82.34 465.2,70.51 465.39,62.17 465.59,62.17 465.78,62.17 465.97,71.1 466.17,82.93 466.36,94.76 466.55,106.59 466.75,118.42 466.94,130.25 467.13,139.21 467.33,131.96 467.52,124.71 467.71,117.46 467.91,110.21 468.1,102.96 468.29,95.71 468.49,88.46 468.68,85.2 468.87,92.45 469.07,99.7 469.26,106.95 469.45,114.2 469.64,121.45 469.84,128.7 470.03,135.95 470.22,137.25 470.42,129.62 470.61,121.98 470.8,114.35 471,106.72 471.19,99.09 471.38,91.46 471.58,83.83 471.77,84.21 471.96,91.84 472.16,99.47 472.35,107.1 472.54,114.73 472.74,122.37 472.93,130 473.12,137.63 473.32,134.1 473.51,124.56 473.7,115.02 473.9,105.48 474.09,95.94 474.28,86.4 474.47,76.86 474.67,67.32 474.86,72.57 475.05,82.11 475.25,91.65 475.44,101.19 475.63,110.73 475.83,120.27 476.02,129.81" fill="none" stroke="#1f77b4" stroke-width="0.72" stroke-linejoin="round"/>
<line x1="283.4" y1="140.21" x2="476.6" y2="140.21" stroke="#ff0000" stroke-opacity="0.6" stroke-width="1.2"/>
</g>
<rect x="283.4" y="80.2" width="193.2" height="60.1" fill="none" stroke="#000" stroke-opacity="0.42" stroke-width="0.6"/>
<line x1="283.4" y1="140.3" x2="283.4" y2="141.8" stroke="#000" stroke-opacity="0.6" stroke-width="0.5"/>
<text x="283.4" y="148.7" text-anchor="middle" font-size="7.7">0</text>
<line x1="322.04" y1="140.3" x2="322.04" y2="141.8" stroke="#000" stroke-opacity="0.6" stroke-width="0.5"/>
<text x="322.04" y="148.7" text-anchor="middle" font-size="7.7">200</text>
<line x1="360.68" y1="140.3" x2="360.68" y2="141.8" stroke="#000" stroke-opacity="0.6" stroke-width="0.5"/>
<text x="360.68" y="148.7" text-anchor="middle" font-size="7.7">400</text>
<line x1="399.32" y1="140.3" x2="399.32" y2="141.8" stroke="#000" stroke-opacity="0.6" stroke-width="0.5"/>
<text x="399.32" y="148.7" text-anchor="middle" font-size="7.7">600</text>
<line x1="437.96" y1="140.3" x2="437.96" y2="141.8" stroke="#000" stroke-opacity="0.6" stroke-width="0.5"/>
<text x="437.96" y="148.7" text-anchor="middle" font-size="7.7">800</text>
<line x1="476.6" y1="140.3" x2="476.6" y2="141.8" stroke="#000" stroke-opacity="0.6" stroke-width="0.5"/>
<text x="476.6" y="148.7" text-anchor="middle" font-size="7.7">1<tspan dx="-1.46">,</tspan><tspan dx="-1">000</tspan></text>
<line x1="281.9" y1="140.3" x2="283.4" y2="140.3" stroke="#000" stroke-opacity="0.6" stroke-width="0.5"/>
<text x="280.5" y="143.15" text-anchor="end" font-size="7.7">0</text>
<line x1="281.9" y1="110.25" x2="283.4" y2="110.25" stroke="#000" stroke-opacity="0.6" stroke-width="0.5"/>
<text x="280.5" y="113.1" text-anchor="end" font-size="7.7">1</text>
<line x1="281.9" y1="80.2" x2="283.4" y2="80.2" stroke="#000" stroke-opacity="0.6" stroke-width="0.5"/>
<text x="280.5" y="83.05" text-anchor="end" font-size="7.7">2</text>
<text x="284.6" y="79.3" text-anchor="start" font-size="7.7">1e6</text>
<text transform="translate(274.4 110.25) rotate(-90)" text-anchor="middle" font-size="7.7" font-style="italic">SPE(Q)</text>
<text x="379.7" y="157.63" text-anchor="middle" font-size="7.7">Samples</text>
<rect x="286.63" y="83.74" width="101.5" height="14.48" rx="1.4" fill="#fff" fill-opacity="0.8" stroke="#ccc" stroke-opacity="0.6" stroke-width="0.6"/>
<line x1="289.79" y1="90.68" x2="306.04" y2="90.68" stroke="#ff0000" stroke-opacity="0.5" stroke-width="1.4"/>
<text x="312.43" y="93.52" text-anchor="start" font-size="7.7">99% Q control limit</text>
<clipPath id="c4"><rect x="33.7" y="197.15" width="188.9" height="58.95"/></clipPath>
<g clip-path="url(#c4)">
<polyline points="33.7,255.03 33.89,253.86 34.08,252.92 34.27,252.62 34.46,253.16 34.64,254.28 34.83,255.51 35.02,255.47 35.21,254.56 35.4,254.64 35.59,255.91 35.78,254.7 35.97,253.94 36.16,254.39 36.34,255.54 36.53,255.72 36.72,255.67 36.91,255.65 37.1,254.39 37.29,253.36 37.48,252.65 37.67,252.03 37.86,251.4 38.04,250.93 38.23,250.87 38.42,251.11 38.61,251.15 38.8,250.73 38.99,250.39 39.18,250.69 39.37,251.52 39.56,252.37 39.74,252.93 39.93,253.03 40.12,252.47 40.31,251.34 40.5,250.29 40.69,250.19 40.88,251.21 41.07,252.64 41.26,253.48 41.44,253.42 41.63,252.89 41.82,252.37 42.01,251.97 42.2,251.65 42.39,251.58 42.58,251.96 42.77,252.53 42.96,252.78 43.15,252.69 43.33,252.69 43.52,253.1 43.71,254.1 43.9,255.64 44.09,255.28 44.28,255.32 44.47,255.5 44.66,253.89 44.85,253.15 45.03,253.41 45.22,254.08 45.41,254.53 45.6,254.69 45.79,254.75 45.98,254.95 46.17,255.55 46.36,255.88 46.55,255.65 46.73,255.92 46.92,255.15 47.11,255.14 47.3,255.7 47.49,255.94 47.68,255.39 47.87,254.34 48.06,253.38 48.25,252.95 48.43,252.97 48.62,252.97 48.81,252.71 49,252.56 49.19,253.01 49.38,253.84 49.57,254.23 49.76,253.93 49.95,253.68 50.13,254.16 50.32,254.9 50.51,255.04 50.7,254.58 50.89,254.04 51.08,253.57 51.27,253.12 51.46,252.92 51.65,253.16 51.83,253.67 52.02,254.16 52.21,254.6 52.4,255.11 52.59,255.59 52.78,255.75 52.97,255.71 53.16,255.81 53.35,256.05 53.53,256.05 53.72,256.04 53.91,255.87 54.1,255.75 54.29,255.49 54.48,254.67 54.67,253.38 54.86,252.44 55.05,252.51 55.23,253.28 55.42,253.93 55.61,253.98 55.8,253.61 55.99,253.18 56.18,252.92 56.37,253 56.56,253.39 56.75,253.77 56.93,253.79 57.12,253.54 57.31,253.51 57.5,254.05 57.69,254.88 57.88,255.46 58.07,255.46 58.26,254.84 58.45,253.94 58.63,253.35 58.82,253.21 59.01,253.05 59.2,252.51 59.39,251.9 59.58,251.85 59.77,252.58 59.96,253.56 60.15,254.2 60.33,254.49 60.52,254.51 60.71,254.19 60.9,253.55 61.09,252.94 61.28,252.9 61.47,253.68 61.66,254.81 61.85,255.31 62.03,254.51 62.22,252.74 62.41,251.06 62.6,250.3 62.79,250.45 62.98,250.98 63.17,251.63 63.36,252.4 63.55,253.17 63.74,253.77 63.92,253.93 64.11,253.39 64.3,252.36 64.49,251.62 64.68,251.99 64.87,253.29 65.06,254.52 65.25,254.92 65.44,254.64 65.62,254.37 65.81,254.56 66,254.98 66.19,255 66.38,254.31 66.57,253.36 66.76,253.07 66.95,253.89 67.14,255.42 67.32,255.46 67.51,255.11 67.7,255.82 67.89,255.2 68.08,254.34 68.27,254.17 68.46,254.3 68.65,254.01 68.84,253.17 69.02,252.35 69.21,252.19 69.4,252.68 69.59,253.3 69.78,253.7 69.97,253.74 70.16,253.4 70.35,252.76 70.54,252.12 70.72,251.6 70.91,250.92 71.1,249.77 71.29,248.45 71.48,247.94 71.67,248.71 71.86,250.05 72.05,251.33 72.24,252.91 72.42,254.98 72.61,255.29 72.8,254.66 72.99,255.21 73.18,255.58 73.37,253.87 73.56,252.53 73.75,251.96 73.94,251.83 74.12,251.58 74.31,251.32 74.5,251.54 74.69,252.12 74.88,252.32 75.07,251.82 75.26,251.03 75.45,250.4 75.64,250.31 75.82,251.27 76.01,253.05 76.2,254.21 76.39,253.21 76.58,250.28 76.77,247.87 76.96,247.7 77.15,248.96 77.34,250.78 77.52,252.89 77.71,254.27 77.9,254.03 78.09,252.84 78.28,252.12 78.47,252.63 78.66,253.77 78.85,254.36 79.04,253.98 79.22,253.32 79.41,253.08 79.6,253.31 79.79,253.86 79.98,254.51 80.17,254.94 80.36,254.9 80.55,254.47 80.74,254.02 80.92,253.84 81.11,253.87 81.3,253.88 81.49,253.82 81.68,253.98 81.87,254.62 82.06,255.57 82.25,255.89 82.44,255.59 82.63,255.37 82.81,255.1 83,255.08 83.19,255.68 83.38,255.27 83.57,253.58 83.76,251.89 83.95,250.85 84.14,250.85 84.33,251.55 84.51,252.37 84.7,252.95 84.89,253.25 85.08,253.67 85.27,254.64 85.46,255.67 85.65,255.87 85.84,255.13 86.03,254.06 86.21,253.28 86.4,253.05 86.59,253.27 86.78,253.64 86.97,253.92 87.16,254.22 87.35,254.73 87.54,255.28 87.73,255.4 87.91,254.92 88.1,254.3 88.29,254.11 88.48,254.09 88.67,253.72 88.86,253.32 89.05,253.49 89.24,254.04 89.43,254.33 89.61,254.09 89.8,253.33 89.99,252.39 90.18,251.78 90.37,251.71 90.56,252.11 90.75,252.78 90.94,253.4 91.13,253.65 91.31,253.57 91.5,253.5 91.69,253.73 91.88,254.16 92.07,254.54 92.26,254.62 92.45,254.2 92.64,253.23 92.83,252.02 93.01,251.01 93.2,250.62 93.39,251.18 93.58,252.47 93.77,253.61 93.96,253.74 94.15,252.94 94.34,252.07 94.53,251.74 94.71,251.57 94.9,250.91 95.09,250.11 95.28,250.23 95.47,251.75 95.66,253.99 95.85,255.92 96.04,255.16 96.23,254.73 96.41,254.69 96.6,255.02 96.79,255.91 96.98,254.86 97.17,253.39 97.36,252.36 97.55,251.92 97.74,252.15 97.93,253.18 98.11,254.65 98.3,255.83 98.49,256.07 98.68,255.44 98.87,253.92 99.06,252.04 99.25,250.55 99.44,250.2 99.63,251.05 99.81,252.29 100,253.11 100.19,253.37 100.38,253.38 100.57,253.23 100.76,252.73 100.95,251.8 101.14,250.74 101.33,250.35 101.52,251.31 101.7,253.47 101.89,255.74 102.08,255.03 102.27,254.48 102.46,254.44 102.65,254.9 102.84,256.06 103.03,254.39 103.22,252.69 103.4,251.94 103.59,252.52 103.78,253.81 103.97,254.98 104.16,255.74 104.35,255.96 104.54,255.76 104.73,255.99 104.92,255.88 105.1,255.76 105.29,255.45 105.48,254.65 105.67,253.79 105.86,253.41 106.05,253.46 106.24,253.57 106.43,253.57 106.62,253.51 106.8,253.31 106.99,253.04 107.18,253.22 107.37,254.16 107.56,255.38 107.75,256.06 107.94,255.87 108.13,255.27 108.32,254.93 108.5,254.93 108.69,254.86 108.88,254.4 109.07,253.62 109.26,252.73 109.45,251.85 109.64,251.33 109.83,251.61 110.02,252.59 110.2,253.58 110.39,254.04 110.58,254.17 110.77,254.67 110.96,255.89 111.15,254.81 111.34,254.06 111.53,254.67 111.72,255.75 111.9,253.4 112.09,251.19 112.28,249.82 112.47,249.54 112.66,249.92 112.85,250.51 113.04,251.19 113.23,251.95 113.42,252.45 113.6,252.23 113.79,251.27 113.98,250.35 114.17,250.27 114.36,251.15 114.55,252.26 114.74,252.98 114.93,253.62 115.12,254.85 115.3,255.68 115.49,254.72 115.68,255.47 115.87,254.7 116.06,253.01 116.25,252.73 116.44,253.33 116.63,253.83 116.82,254.07 117,254.44 117.19,254.91 117.38,254.95 117.57,254.2 117.76,253.04 117.95,252.22 118.14,252.05 118.33,252.18 118.52,252.16 118.7,247.94 118.89,245.17 119.08,234.05 119.27,228.02 119.46,223.69 119.65,222.92 119.84,225.71 120.03,226.3 120.22,231.12 120.41,230.47 120.59,239.33 120.78,244.52 120.97,246.52 121.16,246 121.35,250.02 121.54,253.01 121.73,245.69 121.92,241.3 122.11,232.86 122.29,221.37 122.48,218.1 122.67,218.43 122.86,217.86 123.05,224.53 123.24,228.84 123.43,236.04 123.62,241.07 123.81,247.45 123.99,254.52 124.18,252.75 124.37,255.23 124.56,252.8 124.75,249.64 124.94,238.05 125.13,226.66 125.32,213.8 125.51,197.92 125.69,188.75 125.88,189.63 126.07,198.16 126.26,210.14 126.45,229.54 126.64,242.3 126.83,252.45 127.02,254.79 127.21,255.76 127.39,254.05 127.58,250.01 127.77,246.91 127.96,241.8 128.15,234.61 128.34,227.49 128.53,222.64 128.72,218.55 128.91,213.52 129.09,218.42 129.28,227.85 129.47,236.85 129.66,243.54 129.85,250.19 130.04,252.51 130.23,254.1 130.42,253.47 130.61,249.28 130.79,245.75 130.98,244.12 131.17,239.6 131.36,233.9 131.55,234.13 131.74,231.67 131.93,229.09 132.12,231.48 132.31,238.04 132.49,244.22 132.68,249.4 132.87,253.88 133.06,255.76 133.25,252.47 133.44,251.17 133.63,248.54 133.82,245.99 134.01,238.51 134.19,236.98 134.38,230.7 134.57,232.45 134.76,230.07 134.95,230.02 135.14,234.69 135.33,236.17 135.52,242.47 135.71,245.81 135.89,249.06 136.08,249.44 136.27,250.88 136.46,249.03 136.65,247.61 136.84,247.33 137.03,246.08 137.22,239.04 137.41,232.7 137.59,228.61 137.78,224.71 137.97,220.65 138.16,218.74 138.35,227.26 138.54,230.71 138.73,243.28 138.92,251.64 139.11,255.36 139.3,253.72 139.48,250.8 139.67,249.26 139.86,239.45 140.05,232.97 140.24,223.72 140.43,219.27 140.62,217.54 140.81,217.29 141,219.18 141.18,224.87 141.37,230.77 141.56,239.75 141.75,247.39 141.94,252.13 142.13,254.72 142.32,253.46 142.51,254.51 142.7,251.9 142.88,254.5 143.07,250.58 143.26,246.09 143.45,237.49 143.64,230.95 143.83,222.97 144.02,215.96 144.21,209.85 144.4,211.82 144.58,220.51 144.77,226.9 144.96,236.65 145.15,245.35 145.34,252.59 145.53,251.68 145.72,247.36 145.91,248.03 146.1,239.61 146.28,233.07 146.47,225.93 146.66,218.96 146.85,214.7 147.04,215.58 147.23,221.69 147.42,225.85 147.61,232.32 147.8,240.33 147.98,242.36 148.17,246.05 148.36,249.89 148.55,255.04 148.74,253.25 148.93,253.08 149.12,247.76 149.31,233.7 149.5,224.27 149.68,222.77 149.87,222 150.06,228.8 150.25,232.88 150.44,234.09 150.63,239.71 150.82,246.76 151.01,249.05 151.2,251.52 151.38,252.96 151.57,252.42 151.76,251.57 151.95,251.31 152.14,244.06 152.33,235.02 152.52,222.28 152.71,216.1 152.9,218.66 153.08,222.32 153.27,222.93 153.46,230.02 153.65,237.55 153.84,242.08 154.03,241.51 154.22,239.43 154.41,240.67 154.6,236.46 154.78,230.68 154.97,221.34 155.16,212.5 155.35,210.14 155.54,205.25 155.73,205.25 155.92,209.93 156.11,218.09 156.3,224.46 156.48,235.29 156.67,243.27 156.86,248.71 157.05,255.28 157.24,255.15 157.43,255.83 157.62,254.44 157.81,250.51 158,246.06 158.19,241.34 158.37,229.33 158.56,223.76 158.75,219 158.94,215.65 159.13,209.86 159.32,210.11 159.51,219.17 159.7,233.12 159.89,247.63 160.07,252.17 160.26,255.99 160.45,252.54 160.64,248.73 160.83,246.4 161.02,239.56 161.21,232.04 161.4,224.8 161.59,216.48 161.77,215.69 161.96,209.92 162.15,214.19 162.34,216.2 162.53,221.07 162.72,225.71 162.91,231.86 163.1,234.93 163.29,238.5 163.47,236.42 163.66,239.1 163.85,238.78 164.04,234.71 164.23,229.74 164.42,225.83 164.61,223.01 164.8,220.44 164.99,219.56 165.17,221.87 165.36,227.8 165.55,235.26 165.74,241.03 165.93,248.41 166.12,251.44 166.31,251.89 166.5,252.85 166.69,250.97 166.87,246.98 167.06,235.02 167.25,224.44 167.44,212.37 167.63,211.7 167.82,215.64 168.01,220.45 168.2,227.53 168.39,239.86 168.57,246.27 168.76,247.98 168.95,251.77 169.14,252.34 169.33,253.75 169.52,246.1 169.71,241.76 169.9,235.35 170.09,230.39 170.27,220.76 170.46,214.51 170.65,213.94 170.84,214.13 171.03,217.32 171.22,220.75 171.41,228.47 171.6,235.74 171.79,244.34 171.97,250.57 172.16,251.1 172.35,252.71 172.54,254.66 172.73,253.57 172.92,253.28 173.11,245.32 173.3,234.38 173.49,224.15 173.67,212.57 173.86,212.72 174.05,212.8 174.24,218.07 174.43,227.25 174.62,234.69 174.81,247.56 175,248.98 175.19,252.09 175.38,253.27 175.56,250.61 175.75,245.94 175.94,243.48 176.13,235.09 176.32,226.98 176.51,218.38 176.7,212.95 176.89,208.87 177.08,205.77 177.26,210.73 177.45,216.06 177.64,226.14 177.83,237.97 178.02,244.8 178.21,249.96 178.4,251.72 178.59,249.33 178.78,247.59 178.96,240.45 179.15,234.2 179.34,220.32 179.53,214.82 179.72,208.48 179.91,205.34 180.1,207.94 180.29,216.43 180.48,224.73 180.66,230.19 180.85,239.16 181.04,244.89 181.23,252.55 181.42,252.12 181.61,252.8 181.8,254.94 181.99,254.51 182.18,249.61 182.36,239.9 182.55,234.7 182.74,222.64 182.93,216.69 183.12,214.71 183.31,214.98 183.5,227.08 183.69,237.19 183.88,246.34 184.06,250.28 184.25,253.5 184.44,253.88 184.63,250.24 184.82,248.18 185.01,243.3 185.2,236.55 185.39,229.01 185.58,219.52 185.76,220.51 185.95,216.04 186.14,216.89 186.33,220.85 186.52,224.97 186.71,234.27 186.9,242.39 187.09,250.31 187.28,254.55 187.46,254 187.65,254.64 187.84,253.56 188.03,248.46 188.22,246.24 188.41,239.3 188.6,230.32 188.79,225.26 188.98,219.1 189.16,218.32 189.35,215.55 189.54,220.77 189.73,224.11 189.92,233 190.11,241.36 190.3,245.85 190.49,250.91 190.68,253.14 190.86,248.4 191.05,243.59 191.24,230.95 191.43,219.47 191.62,207.58 191.81,206.47 192,208.3 192.19,212.25 192.38,214.89 192.56,226.19 192.75,233.87 192.94,241.15 193.13,245.65 193.32,250.8 193.51,255.91 193.7,255.77 193.89,255.32 194.08,251.82 194.26,237.72 194.45,221.32 194.64,209.43 194.83,210.75 195.02,213.8 195.21,220.51 195.4,228.49 195.59,235.47 195.78,243.56 195.97,248.01 196.15,252.31 196.34,253.81 196.53,252.2 196.72,250.99 196.91,247.66 197.1,243.85 197.29,238.98 197.48,231.59 197.67,225.06 197.85,222.45 198.04,218.02 198.23,213.13 198.42,219.98 198.61,234 198.8,240.89 198.99,248.03 199.18,252.48 199.37,247.19 199.55,247.9 199.74,246.26 199.93,244.56 200.12,239.65 200.31,234.91 200.5,231.53 200.69,230.16 200.88,227.15 201.07,227.3 201.25,231.09 201.44,240.18 201.63,245.98 201.82,252.22 202.01,254.53 202.2,254.81 202.39,255.68 202.58,251.18 202.77,247.94 202.95,246.33 203.14,238.89 203.33,234.01 203.52,227.67 203.71,220.66 203.9,217.91 204.09,214.17 204.28,217.55 204.47,222.55 204.65,226.03 204.84,236.15 205.03,236.26 205.22,243.73 205.41,246.92 205.6,248.89 205.79,250.47 205.98,247 206.17,241.09 206.35,229.71 206.54,215.49 206.73,205.8 206.92,193.68 207.11,195.74 207.3,196.2 207.49,205.61 207.68,216.65 207.87,225.8 208.05,237.39 208.24,247.47 208.43,253.92 208.62,253.93 208.81,254.6 209,255.24 209.19,247.19 209.38,230.38 209.57,217.82 209.75,206.18 209.94,205.07 210.13,208.31 210.32,214.94 210.51,221.12 210.7,229.09 210.89,237.8 211.08,246.98 211.27,248.64 211.45,251.32 211.64,253.02 211.83,254.08 212.02,250.86 212.21,240.67 212.4,232.56 212.59,225.17 212.78,219.2 212.97,211.05 213.15,211.86 213.34,213.4 213.53,224.17 213.72,232.31 213.91,243.2 214.1,250.08 214.29,254.67 214.48,254.7 214.67,252.71 214.86,253.97 215.04,250.86 215.23,243.21 215.42,237.03 215.61,224.95 215.8,218.36 215.99,216.03 216.18,214.62 216.37,222.15 216.56,226.58 216.74,235.42 216.93,241.58 217.12,246.13 217.31,249.98 217.5,252.9 217.69,252.84 217.88,252.74 218.07,250.62 218.26,247.61 218.44,238.84 218.63,230.65 218.82,218.49 219.01,208.94 219.2,203.92 219.39,205.56 219.58,206.41 219.77,214.1 219.96,233.68 220.14,247.98 220.33,254.43 220.52,254.46 220.71,254.92 220.9,253.09 221.09,249.82 221.28,241.67 221.47,235.31 221.66,225.54 221.84,217.76" fill="none" stroke="#1f77b4" stroke-width="0.64" stroke-linejoin="round"/>
<line x1="33.7" y1="245.05" x2="222.6" y2="245.05" stroke="#ff0000" stroke-opacity="0.6" stroke-width="1.2"/>
</g>
<rect x="33.7" y="197.15" width="188.9" height="58.95" fill="none" stroke="#000" stroke-opacity="0.42" stroke-width="0.6"/>
<line x1="33.7" y1="256.1" x2="33.7" y2="257.6" stroke="#000" stroke-opacity="0.6" stroke-width="0.5"/>
<text x="33.7" y="264.9" text-anchor="middle" font-size="8.15">0</text>
<line x1="71.48" y1="256.1" x2="71.48" y2="257.6" stroke="#000" stroke-opacity="0.6" stroke-width="0.5"/>
<text x="71.48" y="264.9" text-anchor="middle" font-size="8.15">200</text>
<line x1="109.26" y1="256.1" x2="109.26" y2="257.6" stroke="#000" stroke-opacity="0.6" stroke-width="0.5"/>
<text x="109.26" y="264.9" text-anchor="middle" font-size="8.15">400</text>
<line x1="147.04" y1="256.1" x2="147.04" y2="257.6" stroke="#000" stroke-opacity="0.6" stroke-width="0.5"/>
<text x="147.04" y="264.9" text-anchor="middle" font-size="8.15">600</text>
<line x1="184.82" y1="256.1" x2="184.82" y2="257.6" stroke="#000" stroke-opacity="0.6" stroke-width="0.5"/>
<text x="184.82" y="264.9" text-anchor="middle" font-size="8.15">800</text>
<line x1="222.6" y1="256.1" x2="222.6" y2="257.6" stroke="#000" stroke-opacity="0.6" stroke-width="0.5"/>
<text x="222.6" y="264.9" text-anchor="middle" font-size="8.15">1<tspan dx="-1.55">,</tspan><tspan dx="-1.06">000</tspan></text>
<line x1="32.2" y1="256.1" x2="33.7" y2="256.1" stroke="#000" stroke-opacity="0.6" stroke-width="0.5"/>
<text x="31.5" y="259.12" text-anchor="end" font-size="8.15">0</text>
<line x1="32.2" y1="219.26" x2="33.7" y2="219.26" stroke="#000" stroke-opacity="0.6" stroke-width="0.5"/>
<text x="31.5" y="222.27" text-anchor="end" font-size="8.15">50</text>
<text transform="translate(17.3 226.62) rotate(-90)" text-anchor="middle" font-size="8.15" font-style="italic">T<tspan dy="-3.5" font-size="5.71" dx="0.3">2</tspan></text>
<rect x="37.12" y="200.9" width="111.1" height="15.32" rx="1.4" fill="#fff" fill-opacity="0.8" stroke="#ccc" stroke-opacity="0.6" stroke-width="0.6"/>
<line x1="40.46" y1="208.26" x2="57.66" y2="208.26" stroke="#ff0000" stroke-opacity="0.5" stroke-width="1.4"/>
<text x="64.43" y="211.25" text-anchor="start" font-size="8.15">99% <tspan font-style="italic">T</tspan><tspan dy="-3.5" font-size="5.71" dx="0.4">2</tspan><tspan dy="3.5"> control limit</tspan></text>
<clipPath id="c5"><rect x="33.7" y="268.6" width="188.9" height="59.1"/></clipPath>
<g clip-path="url(#c5)">
<polyline points="33.7,326.47 33.89,326.31 34.08,325.83 34.27,325.01 34.46,324.12 34.64,323.44 34.83,323.11 35.02,323.18 35.21,323.61 35.4,324.32 35.59,325.09 35.78,325.62 35.97,325.65 36.16,325.18 36.34,324.4 36.53,323.57 36.72,322.89 36.91,322.5 37.1,322.5 37.29,322.95 37.48,323.77 37.67,324.8 37.86,325.93 38.04,327.01 38.23,327.62 38.42,327.38 38.61,327.61 38.8,327.29 38.99,326.76 39.18,326.33 39.37,326.02 39.56,325.78 39.74,325.49 39.93,325.17 40.12,324.93 40.31,324.85 40.5,324.82 40.69,324.78 40.88,324.78 41.07,325.01 41.26,325.49 41.44,326.08 41.63,326.53 41.82,326.59 42.01,326.16 42.2,325.39 42.39,324.62 42.58,324.23 42.77,324.31 42.96,324.63 43.15,324.81 43.33,324.69 43.52,324.34 43.71,324.02 43.9,323.98 44.09,324.33 44.28,324.93 44.47,325.49 44.66,325.7 44.85,325.43 45.03,324.95 45.22,324.83 45.41,325.42 45.6,326.46 45.79,327.26 45.98,327.32 46.17,326.75 46.36,326.03 46.55,325.55 46.73,325.41 46.92,325.53 47.11,325.83 47.3,326.2 47.49,326.53 47.68,326.78 47.87,327 48.06,327.22 48.25,327.32 48.43,327.12 48.62,326.58 48.81,325.89 49,325.36 49.19,325.22 49.38,325.48 49.57,325.97 49.76,326.41 49.95,326.58 50.13,326.46 50.32,326.25 50.51,326.17 50.7,326.23 50.89,326.22 51.08,325.94 51.27,325.42 51.46,324.89 51.65,324.65 51.83,324.77 52.02,325.01 52.21,324.1 52.4,323.57 52.59,323.51 52.78,323.64 52.97,323.92 53.16,324.54 53.35,325.68 53.53,325.4 53.72,324.62 53.91,323.84 54.1,323.41 54.29,323.46 54.48,323.95 54.67,324.69 54.86,325.47 55.05,326.08 55.23,326.32 55.42,326.19 55.61,325.92 55.8,325.73 55.99,325.64 56.18,325.48 56.37,325.15 56.56,324.75 56.75,324.43 56.93,324.23 57.12,323.94 57.31,323.32 57.5,322.25 57.69,320.93 57.88,319.76 58.07,319.18 58.26,319.45 58.45,320.45 58.63,321.84 58.82,323.2 59.01,324.35 59.2,325.27 59.39,325.99 59.58,326.46 59.77,326.63 59.96,326.53 60.15,326.29 60.33,326.02 60.52,325.84 60.71,325.9 60.9,326.39 61.09,327.3 61.28,327.06 61.47,326.26 61.66,326.03 61.85,326.49 62.03,327.51 62.22,326.7 62.41,325.74 62.6,325.27 62.79,325.3 62.98,325.65 63.17,325.98 63.36,326.02 63.55,325.77 63.74,325.43 63.92,325.09 64.11,324.55 64.3,323.57 64.49,322.29 64.68,321.22 64.87,320.79 65.06,321 65.25,321.52 65.44,322.1 65.62,322.7 65.81,323.42 66,324.21 66.19,324.89 66.38,325.3 66.57,325.46 66.76,325.51 66.95,325.6 67.14,325.75 67.32,325.87 67.51,325.85 67.7,325.72 67.89,325.62 68.08,325.64 68.27,325.73 68.46,325.74 68.65,325.62 68.84,325.38 69.02,325.12 69.21,324.93 69.4,324.91 69.59,325.09 69.78,325.39 69.97,325.62 70.16,325.67 70.35,325.56 70.54,325.46 70.72,325.56 70.91,325.91 71.1,326.4 71.29,326.77 71.48,326.89 71.67,326.73 71.86,326.3 72.05,325.63 72.24,324.81 72.42,324.01 72.61,323.39 72.8,323.06 72.99,323.11 73.18,323.53 73.37,324.19 73.56,324.84 73.75,325.22 73.94,325.14 74.12,324.61 74.31,323.84 74.5,323.21 74.69,323.09 74.88,323.64 75.07,324.64 75.26,325.58 75.45,325.91 75.64,325.42 75.82,324.34 76.01,323.21 76.2,322.47 76.39,322.27 76.58,322.46 76.77,322.82 76.96,323.22 77.15,323.7 77.34,324.33 77.52,325.14 77.71,325.86 77.9,326.14 78.09,325.86 78.28,325.33 78.47,324.97 78.66,324.97 78.85,325.23 79.04,325.58 79.22,325.94 79.41,326.27 79.6,326.54 79.79,326.75 79.98,326.86 80.17,326.87 80.36,326.82 80.55,326.79 80.74,326.76 80.92,326.61 81.11,326.24 81.3,325.63 81.49,324.91 81.68,324.34 81.87,324.16 82.06,324.42 82.25,324.99 82.44,325.66 82.63,326.22 82.81,326.5 83,326.41 83.19,325.99 83.38,325.42 83.57,324.96 83.76,324.81 83.95,324.94 84.14,325.17 84.33,325.32 84.51,325.37 84.7,325.38 84.89,325.46 85.08,325.62 85.27,325.79 85.46,325.89 85.65,325.89 85.84,325.76 86.03,325.49 86.21,325.13 86.4,324.75 86.59,324.27 86.78,323.45 86.97,322.08 87.16,320.35 87.35,318.84 87.54,318.27 87.73,319.03 87.91,320.86 88.1,323.01 88.29,324.79 88.48,325.88 88.67,326.41 88.86,326.56 89.05,326.41 89.24,325.98 89.43,325.28 89.61,324.46 89.8,323.76 89.99,323.44 90.18,323.61 90.37,324.15 90.56,324.83 90.75,325.43 90.94,325.83 91.13,325.9 91.31,325.49 91.5,324.61 91.69,323.53 91.88,322.67 92.07,322.31 92.26,322.43 92.45,322.79 92.64,323.13 92.83,323.29 93.01,323.27 93.2,323.14 93.39,323.01 93.58,322.97 93.77,323.05 93.96,323.21 94.15,323.4 94.34,323.58 94.53,323.81 94.71,324.17 94.9,324.7 95.09,325.3 95.28,325.79 95.47,326.03 95.66,326 95.85,325.91 96.04,325.98 96.23,326.22 96.41,326.43 96.6,326.4 96.79,326.2 96.98,326.09 97.17,326.27 97.36,326.66 97.55,326.98 97.74,327.09 97.93,327.02 98.11,326.83 98.3,326.48 98.49,325.96 98.68,325.47 98.87,325.26 99.06,325.43 99.25,325.8 99.44,326.12 99.63,326.18 99.81,325.96 100,325.61 100.19,325.34 100.38,325.26 100.57,325.3 100.76,325.39 100.95,325.51 101.14,325.66 101.33,325.85 101.52,326.07 101.7,326.34 101.89,326.67 102.08,326.99 102.27,327.2 102.46,327.19 102.65,327 102.84,326.91 103.03,327.15 103.22,327.62 103.4,327.6 103.59,327.26 103.78,326.16 103.97,325.11 104.16,324.6 104.35,324.62 104.54,324.8 104.73,324.86 104.92,324.84 105.1,324.9 105.29,325.13 105.48,325.47 105.67,325.84 105.86,326.05 106.05,325.99 106.24,325.76 106.43,325.55 106.62,325.45 106.8,325.42 106.99,325.42 107.18,325.44 107.37,325.39 107.56,325.15 107.75,324.7 107.94,324.17 108.13,323.75 108.32,323.67 108.5,324.02 108.69,324.6 108.88,324.98 109.07,324.76 109.26,323.89 109.45,322.77 109.64,321.94 109.83,321.74 110.02,322.09 110.2,322.67 110.39,323.14 110.58,323.34 110.77,323.31 110.96,323.33 111.15,323.65 111.34,324.34 111.53,325.17 111.72,325.81 111.9,326.06 112.09,325.95 112.28,325.58 112.47,325.03 112.66,324.35 112.85,323.75 113.04,323.43 113.23,323.47 113.42,323.68 113.6,323.81 113.79,323.73 113.98,323.49 114.17,323.22 114.36,323.06 114.55,323.1 114.74,323.27 114.93,323.37 115.12,323.27 115.3,322.98 115.49,322.6 115.68,322.19 115.87,321.83 116.06,321.57 116.25,321.41 116.44,321.27 116.63,321.18 116.82,321.26 117,321.62 117.19,322.23 117.38,322.93 117.57,323.6 117.76,324.17 117.95,324.55 118.14,324.68 118.33,324.64 118.52,324.67 118.7,317.21 118.89,318.68 119.08,316.96 119.27,315.26 119.46,310.86 119.65,310.23 119.84,309.47 120.03,309.6 120.22,311.19 120.41,311.67 120.59,307.18 120.78,309.3 120.97,306.95 121.16,314.89 121.35,316.17 121.54,318.56 121.73,319.58 121.92,321.67 122.11,325.04 122.29,322.58 122.48,324.17 122.67,322.17 122.86,322.18 123.05,320.38 123.24,319.56 123.43,317.37 123.62,312.27 123.81,317.73 123.99,315.24 124.18,313.13 124.37,313.46 124.56,311.25 124.75,314.08 124.94,311.28 125.13,312.93 125.32,310.39 125.51,310.84 125.69,310.32 125.88,311.01 126.07,312.27 126.26,310.87 126.45,308.84 126.64,311.37 126.83,311.29 127.02,315.27 127.21,313.91 127.39,314.67 127.58,320.18 127.77,318.07 127.96,314.51 128.15,316.34 128.34,312.27 128.53,311.8 128.72,308.97 128.91,308.88 129.09,307.65 129.28,305.45 129.47,303.62 129.66,302.16 129.85,300.77 130.04,296.36 130.23,296.83 130.42,295.88 130.61,293.75 130.79,290.43 130.98,296.75 131.17,295.83 131.36,298.26 131.55,300.22 131.74,305.21 131.93,308.42 132.12,308.89 132.31,310.43 132.49,310.36 132.68,313.53 132.87,315.66 133.06,318.36 133.25,318.36 133.44,319.47 133.63,319.5 133.82,321.38 134.01,317.37 134.19,315.14 134.38,315.45 134.57,313.57 134.76,310.54 134.95,307.64 135.14,306.04 135.33,301.67 135.52,299.33 135.71,297.48 135.89,297.9 136.08,298.04 136.27,296.11 136.46,297.05 136.65,294.84 136.84,295.23 137.03,291.88 137.22,296.14 137.41,291.22 137.59,292.23 137.78,294.52 137.97,295.07 138.16,296.31 138.35,295.92 138.54,296.5 138.73,299.74 138.92,298.64 139.11,302.73 139.3,302.53 139.48,303.74 139.67,307.25 139.86,306.38 140.05,308.95 140.24,308.25 140.43,311.73 140.62,314.15 140.81,314.77 141,313.28 141.18,311.12 141.37,309.31 141.56,309 141.75,305.16 141.94,305.17 142.13,302.96 142.32,299.58 142.51,299.33 142.7,299.84 142.88,294.62 143.07,293.79 143.26,292.53 143.45,291.52 143.64,296.71 143.83,297.66 144.02,300.99 144.21,300.36 144.4,308.85 144.58,308.85 144.77,311.18 144.96,311.58 145.15,315 145.34,316.69 145.53,315.4 145.72,319.11 145.91,316 146.1,314.26 146.28,311.5 146.47,311.62 146.66,308.37 146.85,305.55 147.04,303.15 147.23,299.66 147.42,298.26 147.61,296 147.8,294.66 147.98,293.84 148.17,298.97 148.36,300.93 148.55,305.43 148.74,307.49 148.93,307.61 149.12,311.45 149.31,316.13 149.5,309.84 149.68,306.2 149.87,303.51 150.06,297.66 150.25,294.58 150.44,290.31 150.63,285.18 150.82,286.73 151.01,287.78 151.2,292.87 151.38,296.16 151.57,297.41 151.76,301.93 151.95,306.27 152.14,309.2 152.33,311.97 152.52,317.12 152.71,317.24 152.9,321.06 153.08,325.71 153.27,322.13 153.46,315.27 153.65,313.65 153.84,304.66 154.03,304.48 154.22,298.34 154.41,297.55 154.6,289.8 154.78,290.84 154.97,293.25 155.16,297.37 155.35,301.8 155.54,302.24 155.73,307.81 155.92,313.54 156.11,315.85 156.3,322.64 156.48,320.02 156.67,318.04 156.86,320.87 157.05,320.38 157.24,322.55 157.43,320.41 157.62,321.74 157.81,322.34 158,321.53 158.19,321.04 158.37,320.3 158.56,320.42 158.75,314.36 158.94,311.3 159.13,309.94 159.32,307.33 159.51,302.49 159.7,299.11 159.89,295.56 160.07,293.81 160.26,293.62 160.45,294.44 160.64,296.21 160.83,296.31 161.02,298.6 161.21,300.91 161.4,299.82 161.59,299.64 161.77,298.22 161.96,305.79 162.15,304.88 162.34,306.62 162.53,306.34 162.72,309.11 162.91,309.02 163.1,309.12 163.29,312.68 163.47,313.02 163.66,311.83 163.85,312.93 164.04,316.38 164.23,311.59 164.42,315.38 164.61,314.19 164.8,315.27 164.99,315.45 165.17,315.89 165.36,314.27 165.55,315.22 165.74,314.48 165.93,312.18 166.12,310.05 166.31,311.33 166.5,306.23 166.69,306.86 166.87,303.56 167.06,301.3 167.25,301.34 167.44,299.67 167.63,299.6 167.82,298.51 168.01,298.76 168.2,295.3 168.39,297.76 168.57,302.68 168.76,301.65 168.95,302.49 169.14,306.46 169.33,307.94 169.52,312.33 169.71,315.82 169.9,316.87 170.09,319.3 170.27,320.91 170.46,318.59 170.65,320.3 170.84,321.95 171.03,321.38 171.22,322.4 171.41,320.52 171.6,318.35 171.79,320.42 171.97,320.31 172.16,316.02 172.35,313.8 172.54,316.92 172.73,316.45 172.92,315.96 173.11,313.03 173.3,311.06 173.49,309.73 173.67,306.45 173.86,306.84 174.05,304.72 174.24,303.79 174.43,298.46 174.62,297.06 174.81,294.93 175,295.97 175.19,291.81 175.38,295.92 175.56,298.08 175.75,300.98 175.94,304.9 176.13,307.42 176.32,311.96 176.51,313.37 176.7,314.42 176.89,316.02 177.08,314.73 177.26,313.54 177.45,316.26 177.64,317.26 177.83,317.48 178.02,316.48 178.21,314.78 178.4,317.16 178.59,315.59 178.78,315.6 178.96,311.8 179.15,309.7 179.34,309.35 179.53,307.14 179.72,306.27 179.91,304.21 180.1,304.99 180.29,307.84 180.48,309.25 180.66,311.43 180.85,313.93 181.04,315.69 181.23,316.78 181.42,317.54 181.61,318.71 181.8,318.37 181.99,319.74 182.18,319.76 182.36,321.72 182.55,324.08 182.74,324.64 182.93,324.52 183.12,315.91 183.31,314.63 183.5,310.15 183.69,302.94 183.88,302.52 184.06,297.66 184.25,292.68 184.44,289.11 184.63,283.96 184.82,279.5 185.01,276.56 185.2,280.22 185.39,281.84 185.58,285.87 185.76,287.3 185.95,289.23 186.14,295.75 186.33,296.44 186.52,298.58 186.71,303.99 186.9,307.58 187.09,304.99 187.28,308.13 187.46,308.1 187.65,311.02 187.84,312.89 188.03,314.88 188.22,315.43 188.41,317.91 188.6,318.54 188.79,317.97 188.98,320.5 189.16,320.64 189.35,322.47 189.54,322.75 189.73,319.11 189.92,312.24 190.11,309.98 190.3,303.92 190.49,302 190.68,295.11 190.86,290.49 191.05,287.37 191.24,284.19 191.43,277.79 191.62,272.97 191.81,271.47 192,277.06 192.19,280.35 192.38,287.09 192.56,292.88 192.75,296.6 192.94,303.13 193.13,309.41 193.32,312.72 193.51,315.77 193.7,315.47 193.89,318.98 194.08,319.07 194.26,319.26 194.45,321.69 194.64,321.12 194.83,319.74 195.02,317.75 195.21,317.33 195.4,315.4 195.59,314.84 195.78,310.55 195.97,312.8 196.15,309.11 196.34,310.04 196.53,306.6 196.72,304.13 196.91,305.83 197.1,299.77 197.29,301.05 197.48,298.56 197.67,294.75 197.85,294.32 198.04,289.28 198.23,287.62 198.42,289.54 198.61,285.53 198.8,284.85 198.99,285.78 199.18,290.17 199.37,292.14 199.55,292.8 199.74,297.35 199.93,298.09 200.12,302.7 200.31,302.02 200.5,303.83 200.69,308.37 200.88,311.14 201.07,311.41 201.25,309.11 201.44,312.29 201.63,308.93 201.82,310.82 202.01,309.06 202.2,306.74 202.39,303.93 202.58,304.38 202.77,304.2 202.95,302.32 203.14,304.09 203.33,305.04 203.52,307.43 203.71,309.51 203.9,310.15 204.09,314.95 204.28,313.14 204.47,313.67 204.65,316.34 204.84,320.11 205.03,322.66 205.22,320.71 205.41,324.9 205.6,325.24 205.79,324.31 205.98,325.02 206.17,323.83 206.35,321.56 206.54,323.82 206.73,320.29 206.92,321.95 207.11,321.34 207.3,318.94 207.49,317.39 207.68,315.63 207.87,314.7 208.05,314.62 208.24,310.14 208.43,310.89 208.62,310.36 208.81,309.65 209,311.53 209.19,313.97 209.38,315.39 209.57,316.28 209.75,316.07 209.94,320.26 210.13,322.37 210.32,320.84 210.51,318.8 210.7,319.11 210.89,319.1 211.08,316.64 211.27,316.01 211.45,316.62 211.64,316.4 211.83,318.19 212.02,318.73 212.21,318.95 212.4,320.86 212.59,319.21 212.78,320.33 212.97,321.47 213.15,318.97 213.34,316.01 213.53,314.24 213.72,311.12 213.91,308.46 214.1,302.72 214.29,303.77 214.48,298.75 214.67,294.63 214.86,295.06 215.04,297.08 215.23,299.29 215.42,302.56 215.61,300.84 215.8,304.9 215.99,308.23 216.18,309.8 216.37,310.93 216.56,313.78 216.74,313.2 216.93,308.38 217.12,307.23 217.31,303.6 217.5,299.87 217.69,298.06 217.88,296.14 218.07,300.07 218.26,298.72 218.44,305.75 218.63,307.3 218.82,312.32 219.01,315.49 219.2,311.82 219.39,309.75 219.58,307.38 219.77,304.61 219.96,301.05 220.14,297.33 220.33,294.83 220.52,295.04 220.71,290.35 220.9,291.68 221.09,298.85 221.28,302.78 221.47,306.39 221.66,307.79 221.84,314.67 222.03,317.85 222.22,315.02 222.41,316.38 222.6,315.65 222.79,313.96" fill="none" stroke="#1f77b4" stroke-width="0.72" stroke-linejoin="round"/>
<line x1="33.7" y1="322.38" x2="222.6" y2="322.38" stroke="#ff0000" stroke-opacity="0.6" stroke-width="1.2"/>
</g>
<rect x="33.7" y="268.6" width="188.9" height="59.1" fill="none" stroke="#000" stroke-opacity="0.42" stroke-width="0.6"/>
<line x1="33.7" y1="327.7" x2="33.7" y2="329.2" stroke="#000" stroke-opacity="0.6" stroke-width="0.5"/>
<text x="33.7" y="336.2" text-anchor="middle" font-size="8.15">0</text>
<line x1="71.48" y1="327.7" x2="71.48" y2="329.2" stroke="#000" stroke-opacity="0.6" stroke-width="0.5"/>
<text x="71.48" y="336.2" text-anchor="middle" font-size="8.15">200</text>
<line x1="109.26" y1="327.7" x2="109.26" y2="329.2" stroke="#000" stroke-opacity="0.6" stroke-width="0.5"/>
<text x="109.26" y="336.2" text-anchor="middle" font-size="8.15">400</text>
<line x1="147.04" y1="327.7" x2="147.04" y2="329.2" stroke="#000" stroke-opacity="0.6" stroke-width="0.5"/>
<text x="147.04" y="336.2" text-anchor="middle" font-size="8.15">600</text>
<line x1="184.82" y1="327.7" x2="184.82" y2="329.2" stroke="#000" stroke-opacity="0.6" stroke-width="0.5"/>
<text x="184.82" y="336.2" text-anchor="middle" font-size="8.15">800</text>
<line x1="222.6" y1="327.7" x2="222.6" y2="329.2" stroke="#000" stroke-opacity="0.6" stroke-width="0.5"/>
<text x="222.6" y="336.2" text-anchor="middle" font-size="8.15">1<tspan dx="-1.55">,</tspan><tspan dx="-1.06">000</tspan></text>
<line x1="32.2" y1="327.7" x2="33.7" y2="327.7" stroke="#000" stroke-opacity="0.6" stroke-width="0.5"/>
<text x="31.5" y="330.72" text-anchor="end" font-size="8.15">0</text>
<line x1="32.2" y1="298.15" x2="33.7" y2="298.15" stroke="#000" stroke-opacity="0.6" stroke-width="0.5"/>
<text x="31.5" y="301.17" text-anchor="end" font-size="8.15">2</text>
<line x1="32.2" y1="268.6" x2="33.7" y2="268.6" stroke="#000" stroke-opacity="0.6" stroke-width="0.5"/>
<text x="31.5" y="271.62" text-anchor="end" font-size="8.15">4</text>
<text transform="translate(22.7 298.15) rotate(-90)" text-anchor="middle" font-size="8.15" font-style="italic">SPE(Q)</text>
<text x="127.85" y="345.65" text-anchor="middle" font-size="8.15">Samples</text>
<rect x="37.12" y="272.35" width="107.9" height="15.32" rx="1.4" fill="#fff" fill-opacity="0.8" stroke="#ccc" stroke-opacity="0.6" stroke-width="0.6"/>
<line x1="40.46" y1="279.71" x2="57.66" y2="279.71" stroke="#ff0000" stroke-opacity="0.5" stroke-width="1.4"/>
<text x="64.43" y="282.7" text-anchor="start" font-size="8.15">99% Q control limit</text>
<clipPath id="c6"><rect x="283.2" y="199.4" width="204.5" height="56.6"/></clipPath>
<g clip-path="url(#c6)">
<polyline points="283.2,255.84 283.4,255.77 283.61,255.73 283.81,255.74 284.02,255.79 284.22,255.85 284.43,255.9 284.63,255.92 284.84,255.89 285.04,255.83 285.25,255.76 285.45,255.7 285.65,255.65 285.86,255.61 286.06,255.57 286.27,255.52 286.47,255.46 286.68,255.42 286.88,255.41 287.09,255.45 287.29,255.51 287.49,255.57 287.7,255.59 287.9,255.57 288.11,255.55 288.31,255.55 288.52,255.6 288.72,255.69 288.93,255.81 289.13,255.94 289.33,255.95 289.54,255.88 289.74,255.85 289.95,255.88 290.15,255.97 290.36,255.9 290.56,255.73 290.77,255.58 290.97,255.47 291.18,255.42 291.38,255.43 291.58,255.48 291.79,255.56 291.99,255.63 292.2,255.68 292.4,255.68 292.61,255.65 292.81,255.63 293.02,255.64 293.22,255.68 293.43,255.72 293.63,255.76 293.83,255.79 294.04,255.83 294.24,255.91 294.45,256 294.65,255.93 294.86,255.93 295.06,255.98 295.27,255.96 295.47,255.92 295.67,255.88 295.88,255.83 296.08,255.79 296.29,255.76 296.49,255.74 296.7,255.71 296.9,255.69 297.11,255.68 297.31,255.7 297.51,255.69 297.72,255.64 297.92,255.54 298.13,255.44 298.33,255.38 298.54,255.38 298.74,255.44 298.95,255.54 299.15,255.67 299.36,255.82 299.56,255.94 299.76,256 299.97,255.97 300.17,255.87 300.38,255.74 300.58,255.63 300.79,255.53 300.99,255.45 301.2,255.38 301.4,255.35 301.61,255.39 301.81,255.49 302.01,255.64 302.22,255.78 302.42,255.86 302.63,255.91 302.83,255.95 303.04,255.95 303.24,255.82 303.45,255.69 303.65,255.65 303.85,255.72 304.06,255.86 304.26,255.99 304.47,255.85 304.67,255.75 304.88,255.67 305.08,255.64 305.29,255.66 305.49,255.7 305.69,255.73 305.9,255.73 306.1,255.72 306.31,255.73 306.51,255.76 306.72,255.78 306.92,255.77 307.13,255.74 307.33,255.69 307.54,255.69 307.74,255.74 307.94,255.82 308.15,255.9 308.35,255.96 308.56,255.97 308.76,255.94 308.97,255.88 309.17,255.81 309.38,255.77 309.58,255.79 309.78,255.84 309.99,255.87 310.19,255.85 310.4,255.78 310.6,255.7 310.81,255.65 311.01,255.67 311.22,255.72 311.42,255.77 311.63,255.75 311.83,255.69 312.03,255.63 312.24,255.61 312.44,255.65 312.65,255.72 312.85,255.77 313.06,255.77 313.26,255.71 313.47,255.61 313.67,255.55 313.88,255.57 314.08,255.65 314.28,255.74 314.49,255.77 314.69,255.74 314.9,255.69 315.1,255.69 315.31,255.77 315.51,255.87 315.72,255.92 315.92,255.89 316.12,255.83 316.33,255.78 316.53,255.77 316.74,255.77 316.94,255.77 317.15,255.75 317.35,255.74 317.56,255.75 317.76,255.77 317.96,255.78 318.17,255.78 318.37,255.79 318.58,255.78 318.78,255.77 318.99,255.76 319.19,255.74 319.4,255.71 319.6,255.68 319.81,255.67 320.01,255.72 320.21,255.77 320.42,255.8 320.62,255.78 320.83,255.74 321.03,255.7 321.24,255.69 321.44,255.7 321.65,255.74 321.85,255.78 322.06,255.81 322.26,255.82 322.46,255.81 322.67,255.81 322.87,255.81 323.08,255.83 323.28,255.84 323.49,255.84 323.69,255.84 323.9,255.85 324.1,255.87 324.3,255.89 324.51,255.89 324.71,255.86 324.92,255.83 325.12,255.82 325.33,255.82 325.53,255.81 325.74,255.78 325.94,255.75 326.14,255.74 326.35,255.73 326.55,255.7 326.76,255.67 326.96,255.65 327.17,255.67 327.37,255.72 327.58,255.8 327.78,255.88 327.99,255.99 328.19,255.91 328.39,255.85 328.6,255.87 328.8,255.96 329.01,255.92 329.21,255.84 329.42,255.79 329.62,255.79 329.83,255.81 330.03,255.85 330.24,255.91 330.44,255.98 330.64,255.96 330.85,255.95 331.05,255.96 331.26,255.99 331.46,255.97 331.67,255.9 331.87,255.82 332.08,255.77 332.28,255.78 332.48,255.85 332.69,255.93 332.89,255.97 333.1,255.97 333.3,255.95 333.51,255.96 333.71,256 333.92,255.96 334.12,255.93 334.32,255.93 334.53,255.96 334.73,256 334.94,255.96 335.14,255.9 335.35,255.86 335.55,255.82 335.76,255.81 335.96,255.82 336.17,255.87 336.37,255.92 336.57,255.98 336.78,255.99 336.98,255.96 337.19,255.93 337.39,255.93 337.6,255.97 337.8,255.95 338.01,255.85 338.21,255.76 338.41,255.7 338.62,255.67 338.82,255.69 339.03,255.73 339.23,255.77 339.44,255.78 339.64,255.76 339.85,255.72 340.05,255.67 340.26,255.66 340.46,255.67 340.66,255.71 340.87,255.74 341.07,255.74 341.28,255.69 341.48,255.62 341.69,255.57 341.89,255.54 342.1,255.52 342.3,255.51 342.5,255.52 342.71,255.57 342.91,255.65 343.12,255.73 343.32,255.8 343.53,255.88 343.73,255.96 343.94,255.97 344.14,255.92 344.35,255.9 344.55,255.93 344.75,256 344.96,255.9 345.16,255.8 345.37,255.73 345.57,255.71 345.78,255.71 345.98,255.75 346.19,255.83 346.39,255.96 346.59,255.9 346.8,255.84 347,255.89 347.21,255.99 347.41,255.88 347.62,255.8 347.82,255.75 348.03,255.71 348.23,255.66 348.44,255.61 348.64,255.58 348.84,255.56 349.05,255.56 349.25,255.59 349.46,255.62 349.66,255.64 349.87,255.65 350.07,255.67 350.28,255.71 350.48,255.76 350.69,255.8 350.89,255.81 351.09,255.8 351.3,255.78 351.5,255.76 351.71,255.76 351.91,255.77 352.12,255.78 352.32,255.76 352.53,255.7 352.73,255.64 352.93,255.6 353.14,255.61 353.34,255.64 353.55,255.65 353.75,255.63 353.96,255.62 354.16,255.63 354.37,255.68 354.57,255.76 354.77,255.82 354.98,255.83 355.18,255.79 355.39,255.72 355.59,255.66 355.8,255.62 356,255.59 356.21,255.55 356.41,255.51 356.62,255.51 356.82,255.56 357.02,255.64 357.23,255.72 357.43,255.77 357.64,255.77 357.84,255.73 358.05,255.66 358.25,255.6 358.46,255.59 358.66,255.64 358.87,255.73 359.07,255.78 359.27,255.77 359.48,255.69 359.68,255.6 359.89,255.52 360.09,255.49 360.3,255.51 360.5,255.55 360.71,255.6 360.91,255.64 361.11,255.67 361.32,255.69 361.52,255.71 361.73,255.75 361.93,255.81 362.14,255.91 362.34,255.98 362.55,255.9 362.75,255.88 362.95,255.91 363.16,255.96 363.36,256 363.57,256 363.77,255.99 363.98,255.99 364.18,255.97 364.39,255.88 364.59,255.75 364.8,255.62 365,255.54 365.2,255.54 365.41,255.59 365.61,255.63 365.82,255.64 366.02,255.65 366.23,255.69 366.43,255.75 366.64,255.81 366.84,255.81 367.04,255.73 367.25,255.63 367.45,255.6 367.66,255.68 367.86,255.87 368.07,255.93 368.27,255.8 368.48,255.77 368.68,255.84 368.89,255.95 369.09,255.94 369.29,255.87 369.5,255.87 369.7,255.92 369.91,255.97 370.11,255.97 370.32,255.9 370.52,255.79 370.73,255.7 370.93,255.69 371.13,255.76 371.34,255.85 371.54,255.89 371.75,255.87 371.95,255.82 372.16,255.78 372.36,255.77 372.57,255.81 372.77,255.87 372.98,255.9 373.18,255.88 373.38,255.8 373.59,255.71 373.79,255.67 374,255.71 374.2,255.79 374.41,255.84 374.61,255.85 374.82,255.79 375.02,255.68 375.23,251.51 375.43,238.78 375.63,223.75 375.84,214.47 376.04,201.73 376.25,191.41 376.45,187.89 376.66,197.99 376.86,205.14 377.07,212.33 377.27,220.11 377.47,228.06 377.68,234.06 377.88,241.65 378.09,248.56 378.29,248.92 378.5,246.64 378.7,243.76 378.91,241.19 379.11,240.13 379.31,236.87 379.52,234.93 379.72,231.19 379.93,229.98 380.13,232.6 380.34,234.44 380.54,238.88 380.75,238.94 380.95,242.8 381.16,243.88 381.36,237.12 381.56,233.22 381.77,224.09 381.97,220.25 382.18,216.68 382.38,210.55 382.59,204.12 382.79,198.5 383,191.6 383.2,185.4 383.4,190.42 383.61,199.33 383.81,209.44 384.02,215.29 384.22,223.49 384.43,235.64 384.63,242.31 384.84,250.38 385.04,251.6 385.25,245.32 385.45,241.92 385.65,238.32 385.86,235.77 386.06,232.69 386.27,227.24 386.47,223.29 386.68,226.79 386.88,231.67 387.09,234.38 387.29,236.46 387.5,238.94 387.7,243.4 387.9,246.45 388.11,249.67 388.31,250.94 388.52,245.45 388.72,243.91 388.93,238.75 389.13,236.64 389.34,229.66 389.54,226.25 389.74,221.98 389.95,219.08 390.15,220.08 390.36,226.08 390.56,228.75 390.77,232.09 390.97,241.69 391.18,240.82 391.38,248.53 391.58,246.9 391.79,244.58 391.99,239.89 392.2,234.83 392.4,232.16 392.61,225.86 392.81,228.62 393.02,230.27 393.22,234.19 393.43,236.44 393.63,238.7 393.83,239.99 394.04,240.97 394.24,245.33 394.45,249.32 394.65,250.89 394.86,252.49 395.06,245.05 395.27,240.41 395.47,236.55 395.67,230.49 395.88,223.72 396.08,219.11 396.29,215.17 396.49,215.14 396.7,220.86 396.9,227.29 397.11,231.68 397.31,234.92 397.52,243.81 397.72,246.52 397.92,247.4 398.13,242.79 398.33,239.41 398.54,235.89 398.74,232.75 398.95,228.9 399.15,224.41 399.36,225.29 399.56,230.5 399.76,231.05 399.97,232.89 400.17,236.27 400.38,239.98 400.58,245.32 400.79,245.27 400.99,248.06 401.2,247.12 401.4,244.21 401.61,237.49 401.81,232.01 402.01,225.84 402.22,221.77 402.42,214.4 402.63,208.51 402.83,204.57 403.04,208.31 403.24,217.15 403.45,223.06 403.65,227.3 403.86,235.48 404.06,239.48 404.26,246.53 404.47,249.05 404.67,246.86 404.88,243.54 405.08,241.66 405.29,239.02 405.49,237.56 405.7,233.85 405.9,233.1 406.1,230.57 406.31,227.93 406.51,230.51 406.72,232.36 406.92,235.21 407.13,239.71 407.33,243.12 407.54,242.43 407.74,247.25 407.94,249.35 408.15,245.18 408.35,237.71 408.56,235.11 408.76,232.26 408.97,224.72 409.17,221.73 409.38,216.15 409.58,221.24 409.79,223.94 409.99,229.31 410.19,234.76 410.4,236.96 410.6,239.78 410.81,248.16 411.01,246.84 411.22,244.91 411.42,242.02 411.63,241.29 411.83,238.17 412.03,232.45 412.24,231.2 412.44,229.24 412.65,223.59 412.85,226.26 413.06,230.19 413.26,235.63 413.47,237.79 413.67,239.31 413.88,246.94 414.08,249.74 414.28,252.11 414.49,253.02 414.69,248.39 414.9,242.55 415.1,237.35 415.31,231.92 415.51,225.03 415.72,216.54 415.92,215.17 416.12,217.99 416.33,223.99 416.53,225.34 416.74,231.04 416.94,234.79 417.15,239.43 417.35,243.66 417.56,244.56 417.76,243.05 417.97,241.39 418.17,235.48 418.37,235.16 418.58,232.45 418.78,230.99 418.99,231.33 419.19,231.81 419.4,235.85 419.6,238.64 419.81,240.69 420.01,243.24 420.21,246.23 420.42,249.09 420.62,244.23 420.83,237.34 421.03,229.33 421.24,221.68 421.44,216.5 421.65,211.66 421.85,204.4 422.06,197.2 422.26,190.65 422.46,183.88 422.67,191.58 422.87,200.8 423.08,209.83 423.28,219.57 423.49,224.53 423.69,233.27 423.9,243.28 424.1,246.55 424.3,245.43 424.51,243.85 424.71,239.5 424.92,240.47 425.12,235.38 425.33,236.92 425.53,236.01 425.74,233.32 425.94,231.01 426.15,235.9 426.35,236.78 426.55,241.93 426.76,240.1 426.96,244.23 427.17,244.38 427.37,236.55 427.58,228.38 427.78,217.01 427.99,208.01 428.19,197.98 428.39,187.05 428.6,188.87 428.8,196.47 429.01,202.99 429.21,210.54 429.42,217.82 429.62,221.94 429.83,228.71 430.03,234.53 430.24,239.95 430.44,246.6 430.64,247.72 430.85,244.27 431.05,242.19 431.26,240.8 431.46,241.25 431.67,237.4 431.87,234.48 432.08,232.67 432.28,236.31 432.49,239.98 432.69,238.87 432.89,242.93 433.1,245.77 433.3,246.86 433.51,248.98 433.71,252.26 433.92,251.36 434.12,246.65 434.33,240.27 434.53,236.74 434.73,231.26 434.94,229.57 435.14,223.12 435.35,223.03 435.55,227 435.76,232.69 435.96,234.68 436.17,236.02 436.37,241.46 436.57,246.34 436.78,250.44 436.98,249.16 437.19,244.96 437.39,244 437.6,241.29 437.8,237.46 438.01,235.17 438.21,233.35 438.42,233.96 438.62,230.37 438.82,226.33 439.03,232.49 439.23,232.69 439.44,237.51 439.64,239.52 439.85,244.44 440.05,248.6 440.26,251.64 440.46,245.96 440.66,239.36 440.87,231.67 441.07,220.32 441.28,214.44 441.48,203.91 441.69,194.48 441.89,185.72 442.1,190.18 442.3,196.84 442.51,205.81 442.71,208.46 442.91,214.83 443.12,221.04 443.32,226.2 443.53,231.87 443.73,238.58 443.94,242.99 444.14,239.72 444.35,239.64 444.55,237.97 444.75,236.7 444.96,231.91 445.16,233.13 445.37,230.87 445.57,233.79 445.78,237.71 445.98,238.25 446.19,242.23 446.39,244.57 446.6,244.29 446.8,248.55 447,245.13 447.21,238.37 447.41,229.03 447.62,223.36 447.82,214.56 448.03,208.22 448.23,203.03 448.44,196.3 448.64,190.24 448.85,190.01 449.05,200.61 449.25,205.26 449.46,214.33 449.66,219.2 449.87,224.64 450.07,233.7 450.28,240.39 450.48,247.36 450.69,245.2 450.89,245.49 451.09,241.62 451.3,240 451.5,239.27 451.71,237.32 451.91,232.7 452.12,232.38 452.32,233.6 452.53,236.03 452.73,236.27 452.94,238.32 453.14,239.74 453.34,238.99 453.55,237.19 453.75,230.91 453.96,223.8 454.16,214.74 454.37,208.7 454.57,203.01 454.78,191.42 454.98,189.05 455.18,190.32 455.39,198.66 455.59,203.38 455.8,210.96 456,216.6 456.21,224.77 456.41,232.44 456.62,236.52 456.82,244.94 457.02,243.08 457.23,240.96 457.43,239.63 457.64,236.24 457.84,232.55 458.05,230.73 458.25,230.31 458.46,231.77 458.66,233.53 458.87,237.14 459.07,236.38 459.27,239.81 459.48,244.28 459.68,243.13 459.89,242.96 460.09,234.63 460.3,227.34 460.5,221.75 460.71,214.2 460.91,206.05 461.12,202.63 461.32,196.44 461.52,187.43 461.73,190.26 461.93,193.92 462.14,201.81 462.34,208.94 462.55,216.27 462.75,225.1 462.96,230.89 463.16,236.19 463.36,242.1 463.57,240.32 463.77,236.79 463.98,233.2 464.18,232.09 464.39,228.87 464.59,227.55 464.8,228.35 465,235.88 465.2,236.12 465.41,239.42 465.61,246.41 465.82,247.99 466.02,249.55 466.23,255.53 466.43,251.55 466.64,247.11 466.84,241.65 467.05,238.75 467.25,236.6 467.45,233.69 467.66,230.08 467.86,224.02 468.07,223.37 468.27,222.86 468.48,225.75 468.68,232.33 468.89,235.59 469.09,239.67 469.29,242.94 469.5,249.91 469.7,247.94 469.91,245.43 470.11,242.58 470.32,242.01 470.52,236.75 470.73,235.78 470.93,232.21 471.14,230.46 471.34,224.33 471.54,229.34 471.75,229.97 471.95,236.64 472.16,239.43 472.36,240.48 472.57,246 472.77,248.21 472.98,248.33 473.18,246.65 473.38,243.45 473.59,239.34 473.79,234.19 474,231.33 474.2,226.68 474.41,225.04 474.61,222.94 474.82,227.61 475.02,230.43 475.23,234.65 475.43,237.92 475.63,242.79 475.84,246.37 476.04,249.72 476.25,248.21 476.45,247.23 476.66,244.93 476.86,240.35 477.07,237.35 477.27,236.8 477.48,234.15 477.68,233.52 477.88,235.91 478.09,236.73 478.29,237.65 478.5,239.79 478.7,243.76 478.91,248.09 479.11,249.55 479.32,254.72 479.52,249.67 479.72,246.61 479.93,240.7 480.13,234.49 480.34,229.13 480.54,227.14 480.75,222.48 480.95,220.6 481.16,215.82 481.36,217.76 481.56,222.85 481.77,227.9 481.97,233.02 482.18,236.17 482.38,243.18 482.59,247.74 482.79,245.24 483,247.89 483.2,244.36 483.41,243.48 483.61,239.23 483.81,239.52 484.02,237.71 484.22,235.76 484.43,232.46 484.63,235.97 484.84,238.75 485.04,239.24 485.25,241.71 485.45,242.78 485.65,246.06 485.86,248.57 486.06,249.64 486.27,251.47 486.47,246.98 486.68,244.42 486.88,243.01 487.09,237.06 487.29,233.24 487.5,229.62" fill="none" stroke="#1f77b4" stroke-width="0.72" stroke-linejoin="round"/>
<line x1="283.2" y1="255.32" x2="487.7" y2="255.32" stroke="#ff0000" stroke-opacity="0.6" stroke-width="1.4"/>
</g>
<rect x="283.2" y="199.4" width="204.5" height="56.6" fill="none" stroke="#000" stroke-opacity="0.42" stroke-width="0.6"/>
<line x1="283.2" y1="256" x2="283.2" y2="257.5" stroke="#000" stroke-opacity="0.6" stroke-width="0.5"/>
<text x="283.2" y="264.4" text-anchor="middle" font-size="7.75">0</text>
<line x1="324.1" y1="256" x2="324.1" y2="257.5" stroke="#000" stroke-opacity="0.6" stroke-width="0.5"/>
<text x="324.1" y="264.4" text-anchor="middle" font-size="7.75">200</text>
<line x1="365" y1="256" x2="365" y2="257.5" stroke="#000" stroke-opacity="0.6" stroke-width="0.5"/>
<text x="365" y="264.4" text-anchor="middle" font-size="7.75">400</text>
<line x1="405.9" y1="256" x2="405.9" y2="257.5" stroke="#000" stroke-opacity="0.6" stroke-width="0.5"/>
<text x="405.9" y="264.4" text-anchor="middle" font-size="7.75">600</text>
<line x1="446.8" y1="256" x2="446.8" y2="257.5" stroke="#000" stroke-opacity="0.6" stroke-width="0.5"/>
<text x="446.8" y="264.4" text-anchor="middle" font-size="7.75">800</text>
<line x1="487.7" y1="256" x2="487.7" y2="257.5" stroke="#000" stroke-opacity="0.6" stroke-width="0.5"/>
<text x="487.7" y="264.4" text-anchor="middle" font-size="7.75">1<tspan dx="-1.47">,</tspan><tspan dx="-1.01">000</tspan></text>
<line x1="281.7" y1="256" x2="283.2" y2="256" stroke="#000" stroke-opacity="0.6" stroke-width="0.5"/>
<text x="281" y="258.87" text-anchor="end" font-size="7.75">0</text>
<line x1="281.7" y1="227.7" x2="283.2" y2="227.7" stroke="#000" stroke-opacity="0.6" stroke-width="0.5"/>
<text x="281" y="230.57" text-anchor="end" font-size="7.75">500</text>
<line x1="281.7" y1="199.4" x2="283.2" y2="199.4" stroke="#000" stroke-opacity="0.6" stroke-width="0.5"/>
<text x="281" y="202.27" text-anchor="end" font-size="7.75">1<tspan dx="-1.47">,</tspan><tspan dx="-1.01">000</tspan></text>
<text transform="translate(257.6 227.7) rotate(-90)" text-anchor="middle" font-size="7.75" font-style="italic">T<tspan dy="-3.33" font-size="5.42" dx="0.3">2</tspan></text>
<rect x="286.45" y="202.97" width="105.2" height="14.57" rx="1.4" fill="#fff" fill-opacity="0.8" stroke="#ccc" stroke-opacity="0.6" stroke-width="0.6"/>
<line x1="289.63" y1="209.95" x2="305.99" y2="209.95" stroke="#ff0000" stroke-opacity="0.5" stroke-width="1.4"/>
<text x="312.42" y="212.81" text-anchor="start" font-size="7.75">99% <tspan font-style="italic">T</tspan><tspan dy="-3.33" font-size="5.42" dx="0.4">2</tspan><tspan dy="3.33"> control limit</tspan></text>
<clipPath id="c7"><rect x="283.2" y="267.4" width="204.5" height="56.8"/></clipPath>
<g clip-path="url(#c7)">
<polyline points="283.2,324.17 283.4,324.2 283.61,324.19 283.81,324.19 284.02,324.18 284.22,324.2 284.43,324.13 284.63,324.03 284.84,323.93 285.04,323.86 285.25,323.82 285.45,323.81 285.65,323.82 285.86,323.84 286.06,323.87 286.27,323.89 286.47,323.93 286.68,323.97 286.88,324.02 287.09,324.06 287.29,324.04 287.49,323.99 287.7,323.93 287.9,323.9 288.11,323.93 288.31,323.99 288.52,324.06 288.72,324.09 288.93,324.07 289.13,324.01 289.33,323.95 289.54,323.91 289.74,323.91 289.95,323.94 290.15,323.98 290.36,324.03 290.56,324.09 290.77,324.12 290.97,324.14 291.18,324.15 291.38,324.14 291.58,324.12 291.79,324.09 291.99,324.05 292.2,323.99 292.4,323.93 292.61,323.88 292.81,323.86 293.02,323.87 293.22,323.91 293.43,323.96 293.63,324.02 293.83,324.08 294.04,324.13 294.24,324.17 294.45,324.19 294.65,324.17 294.86,324.19 295.06,324.14 295.27,324.04 295.47,323.99 295.67,323.99 295.88,324.05 296.08,324.11 296.29,324.14 296.49,324.12 296.7,324.06 296.9,324 297.11,323.97 297.31,323.97 297.51,324 297.72,324.02 297.92,324.03 298.13,324.02 298.33,324.01 298.54,324.01 298.74,324.01 298.95,324 299.15,323.96 299.36,323.91 299.56,323.9 299.76,323.91 299.97,323.94 300.17,323.94 300.38,323.89 300.58,323.82 300.79,323.78 300.99,323.79 301.2,323.83 301.4,323.88 301.61,323.93 301.81,323.97 302.01,323.99 302.22,323.99 302.42,323.96 302.63,323.93 302.83,323.91 303.04,323.92 303.24,323.95 303.45,324.01 303.65,324.05 303.85,324.07 304.06,324.08 304.26,324.08 304.47,324.1 304.67,324.11 304.88,324.11 305.08,324.1 305.29,324.1 305.49,324.11 305.69,324.12 305.9,324.14 306.1,324.18 306.31,324.16 306.51,324.11 306.72,324.13 306.92,324.19 307.13,324.08 307.33,323.99 307.54,323.93 307.74,323.88 307.94,323.82 308.15,323.75 308.35,323.72 308.56,323.74 308.76,323.82 308.97,323.92 309.17,324 309.38,324.04 309.58,324.02 309.78,323.97 309.99,323.93 310.19,323.92 310.4,323.93 310.6,323.96 310.81,323.98 311.01,323.99 311.22,324 311.42,324.04 311.63,324.1 311.83,324.15 312.03,324.15 312.24,324.1 312.44,324.03 312.65,323.98 312.85,323.97 313.06,323.97 313.26,323.95 313.47,323.94 313.67,323.93 313.88,323.95 314.08,323.99 314.28,324.03 314.49,324.08 314.69,324.12 314.9,324.13 315.1,324.11 315.31,324.08 315.51,324.06 315.72,324.09 315.92,324.12 316.12,324.14 316.33,324.16 316.53,324.16 316.74,324.18 316.94,324.16 317.15,324.12 317.35,324.06 317.56,324.04 317.76,324.09 317.96,324.16 318.17,324.18 318.37,324.13 318.58,324.04 318.78,323.95 318.99,323.91 319.19,323.93 319.4,323.99 319.6,324.08 319.81,324.16 320.01,324.19 320.21,324.14 320.42,324.04 320.62,323.95 320.83,323.89 321.03,323.88 321.24,323.89 321.44,323.93 321.65,323.97 321.85,324.02 322.06,324.06 322.26,324.07 322.46,324.05 322.67,324.04 322.87,324.06 323.08,324.09 323.28,324.1 323.49,324.07 323.69,324.02 323.9,323.98 324.1,324 324.3,324.03 324.51,324.04 324.71,324.01 324.92,323.96 325.12,323.93 325.33,323.91 325.53,323.91 325.74,323.91 325.94,323.92 326.14,323.93 326.35,323.96 326.55,323.99 326.76,324.03 326.96,324.05 327.17,324.06 327.37,324.06 327.58,324.04 327.78,324.03 327.99,324.03 328.19,324.05 328.39,324.06 328.6,324.05 328.8,324.04 329.01,324.05 329.21,324.09 329.42,324.14 329.62,324.17 329.83,324.15 330.03,324.09 330.24,324 330.44,323.94 330.64,323.93 330.85,323.99 331.05,324.09 331.26,324.17 331.46,324.19 331.67,324.14 331.87,324.08 332.08,324.04 332.28,324.02 332.48,324.01 332.69,324 332.89,323.98 333.1,323.98 333.3,324.01 333.51,324.05 333.71,324.07 333.92,324.06 334.12,324.05 334.32,324.04 334.53,324.06 334.73,324.08 334.94,324.1 335.14,324.1 335.35,324.07 335.55,324.03 335.76,323.99 335.96,323.98 336.17,323.99 336.37,324.01 336.57,324.06 336.78,324.14 336.98,324.18 337.19,324.13 337.39,324.14 337.6,324.17 337.8,324.19 338.01,324.13 338.21,324.06 338.41,323.99 338.62,323.96 338.82,323.97 339.03,323.97 339.23,323.96 339.44,323.91 339.64,323.86 339.85,323.86 340.05,323.91 340.26,323.99 340.46,324.05 340.66,324.05 340.87,324 341.07,323.95 341.28,323.92 341.48,323.93 341.69,323.96 341.89,323.96 342.1,323.93 342.3,323.87 342.5,323.84 342.71,323.85 342.91,323.91 343.12,323.96 343.32,323.97 343.53,323.94 343.73,323.91 343.94,323.9 344.14,323.94 344.35,324 344.55,324.06 344.75,324.08 344.96,324.06 345.16,324.03 345.37,324.03 345.57,324.09 345.78,324.17 345.98,324.18 346.19,324.2 346.39,324.11 346.59,324.01 346.8,323.94 347,323.94 347.21,323.99 347.41,324.07 347.62,324.16 347.82,324.18 348.03,324.15 348.23,324.17 348.44,324.15 348.64,324.05 348.84,323.97 349.05,323.96 349.25,324.03 349.46,324.15 349.66,324.14 349.87,324.09 350.07,324.15 350.28,324.1 350.48,323.92 350.69,323.78 350.89,323.73 351.09,323.76 351.3,323.83 351.5,323.88 351.71,323.91 351.91,323.93 352.12,323.93 352.32,323.94 352.53,323.93 352.73,323.93 352.93,323.95 353.14,323.99 353.34,324 353.55,323.96 353.75,323.86 353.96,323.75 354.16,323.7 354.37,323.73 354.57,323.85 354.77,323.97 354.98,324.05 355.18,324.09 355.39,324.09 355.59,324.07 355.8,324.06 356,324.04 356.21,324 356.41,323.94 356.62,323.89 356.82,323.86 357.02,323.86 357.23,323.88 357.43,323.93 357.64,323.99 357.84,324.02 358.05,324.02 358.25,324.01 358.46,324.01 358.66,324.04 358.87,324.09 359.07,324.14 359.27,324.17 359.48,324.18 359.68,324.18 359.89,324.15 360.09,324.09 360.3,324 360.5,323.92 360.71,323.9 360.91,323.93 361.11,323.97 361.32,324.01 361.52,324.02 361.73,324 361.93,323.96 362.14,323.93 362.34,323.91 362.55,323.92 362.75,323.94 362.95,323.96 363.16,323.99 363.36,324.01 363.57,324.01 363.77,323.99 363.98,323.94 364.18,323.89 364.39,323.88 364.59,323.92 364.8,323.98 365,324.01 365.2,324 365.41,323.94 365.61,323.9 365.82,323.91 366.02,323.95 366.23,323.97 366.43,323.95 366.64,323.9 366.84,323.85 367.04,323.82 367.25,323.8 367.45,323.8 367.66,323.84 367.86,323.91 368.07,324 368.27,324.07 368.48,324.11 368.68,324.11 368.89,324.07 369.09,324.03 369.29,324.02 369.5,324.04 369.7,324.07 369.91,324.09 370.11,324.08 370.32,324.04 370.52,324 370.73,323.94 370.93,323.87 371.13,323.82 371.34,323.79 371.54,323.82 371.75,323.91 371.95,324.02 372.16,324.11 372.36,324.16 372.57,324.17 372.77,324.16 372.98,324.16 373.18,324.2 373.38,324.14 373.59,324.08 373.79,324.07 374,324.11 374.2,324.19 374.41,324.12 374.61,324.1 374.82,324.15 375.02,324.19 375.23,315.03 375.43,309.35 375.63,303.49 375.84,301.05 376.04,301.86 376.25,300.2 376.45,299.13 376.66,294.91 376.86,295.98 377.07,295.67 377.27,294.57 377.47,289.86 377.68,293.46 377.88,297.99 378.09,293.19 378.29,295.18 378.5,295.7 378.7,296.6 378.91,298.78 379.11,300.3 379.31,302.21 379.52,304.01 379.72,306.7 379.93,306.69 380.13,302.72 380.34,302.22 380.54,303.89 380.75,305.61 380.95,303.34 381.16,304.33 381.36,302.71 381.56,301.84 381.77,301.76 381.97,299.92 382.18,295.84 382.38,292.03 382.59,290.24 382.79,292.22 383,289.52 383.2,288.95 383.4,289.43 383.61,290.59 383.81,291.33 384.02,296.68 384.22,293.03 384.43,298.1 384.63,301.29 384.84,296.95 385.04,304.42 385.25,304.52 385.45,307.44 385.65,305.61 385.86,314.28 386.06,310.45 386.27,315.6 386.47,311.49 386.68,310.92 386.88,313.58 387.09,316.98 387.29,313.85 387.5,312.39 387.7,315.8 387.9,314.71 388.11,309.14 388.31,312.01 388.52,307.9 388.72,305.24 388.93,302.69 389.13,298.69 389.34,301.21 389.54,304.67 389.74,306.94 389.95,306.37 390.15,306.98 390.36,307.79 390.56,310.14 390.77,314.77 390.97,311.79 391.18,314.6 391.38,311.6 391.58,315.08 391.79,315.61 391.99,316.68 392.2,314.45 392.4,317 392.61,312.36 392.81,315.81 393.02,320.63 393.22,311.22 393.43,301.66 393.63,294.52 393.83,287.26 394.04,280.32 394.24,275.98 394.45,268.31 394.65,256.52 394.86,257.68 395.06,256.5 395.27,255.37 395.47,259.97 395.67,259.97 395.88,255.56 396.08,257.6 396.29,257.17 396.49,254.47 396.7,257.02 396.9,256.65 397.11,257.85 397.31,273.9 397.52,279.99 397.72,294.79 397.92,302.87 398.13,302.91 398.33,309.77 398.54,312.43 398.74,316.51 398.95,317.79 399.15,321.82 399.36,319.34 399.56,318.39 399.76,314.07 399.97,311.11 400.17,308.55 400.38,305.95 400.58,303.84 400.79,302.86 400.99,302.33 401.2,295.44 401.4,295.68 401.61,287.86 401.81,283.93 402.01,279.28 402.22,274.54 402.42,268.86 402.63,267.03 402.83,260.81 403.04,259.42 403.24,259.95 403.45,259.37 403.65,261.89 403.86,261.53 404.06,257.98 404.26,264.6 404.47,270.55 404.67,274.71 404.88,283.61 405.08,287.77 405.29,292.24 405.49,298.65 405.7,298.81 405.9,302.96 406.1,304.35 406.31,309.65 406.51,310.38 406.72,312.61 406.92,313.82 407.13,316.08 407.33,319.11 407.54,315.08 407.74,309.36 407.94,310.13 408.15,308.39 408.35,302.04 408.56,298.56 408.76,297.94 408.97,293.56 409.17,296.03 409.38,289 409.58,292.33 409.79,290.15 409.99,295.87 410.19,295.1 410.4,300.9 410.6,303.21 410.81,305.82 411.01,308.36 411.22,307.96 411.42,305.62 411.63,311.07 411.83,308.82 412.03,307.66 412.24,309.9 412.44,310.11 412.65,311.11 412.85,311.8 413.06,317.31 413.26,312.23 413.47,315.39 413.67,318.14 413.88,318.78 414.08,319.59 414.28,319.21 414.49,323.58 414.69,321.76 414.9,319.89 415.1,313.94 415.31,315.25 415.51,311.42 415.72,311.75 415.92,307.83 416.12,306.65 416.33,305.12 416.53,299.79 416.74,299.68 416.94,300.56 417.15,295.05 417.35,301.63 417.56,302.6 417.76,304.07 417.97,298.67 418.17,301.76 418.37,302.07 418.58,301.24 418.78,303.81 418.99,303.69 419.19,302.92 419.4,306.46 419.6,306.42 419.81,308.46 420.01,309.54 420.21,308.18 420.42,310.66 420.62,309.47 420.83,311.27 421.03,307.34 421.24,304.85 421.44,301.51 421.65,298.68 421.85,296.95 422.06,295.4 422.26,292.37 422.46,290.23 422.67,288.45 422.87,294.56 423.08,290.81 423.28,290.41 423.49,293.17 423.69,297.29 423.9,299.43 424.1,299.3 424.3,298.27 424.51,301.72 424.71,307.36 424.92,311.21 425.12,306.4 425.33,303.98 425.53,312.68 425.74,312.47 425.94,311.66 426.15,310.89 426.35,309.61 426.55,313.83 426.76,310.5 426.96,311.63 427.17,308.68 427.37,309.27 427.58,307.75 427.78,311.78 427.99,310.44 428.19,308.17 428.39,306.19 428.6,305.09 428.8,304.52 429.01,301.76 429.21,302.11 429.42,298.14 429.62,302.57 429.83,305.74 430.03,304.87 430.24,309.85 430.44,308.02 430.64,311.07 430.85,308.86 431.05,311.29 431.26,313.96 431.46,311.21 431.67,312.87 431.87,312.17 432.08,319.23 432.28,314.75 432.49,315.02 432.69,310.89 432.89,312.16 433.1,306.54 433.3,304.46 433.51,303.63 433.71,299.12 433.92,294.08 434.12,292.41 434.33,289.33 434.53,285.1 434.73,280.16 434.94,275.11 435.14,271.18 435.35,269.06 435.55,268.82 435.76,270.51 435.96,269.93 436.17,276.96 436.37,274.55 436.57,280.6 436.78,278.97 436.98,290.27 437.19,291.81 437.39,300.3 437.6,303.43 437.8,306.35 438.01,308.86 438.21,311.97 438.42,310.94 438.62,313.71 438.82,310.12 439.03,314.92 439.23,311.13 439.44,312.25 439.64,317.99 439.85,315.77 440.05,317.29 440.26,313.52 440.46,315.31 440.66,312.32 440.87,315.68 441.07,315.61 441.28,316.21 441.48,314.28 441.69,312.63 441.89,311.68 442.1,309.67 442.3,307.25 442.51,307.17 442.71,306.61 442.91,305.68 443.12,303.54 443.32,304.85 443.53,304.11 443.73,306.01 443.94,310.71 444.14,310.03 444.35,314.47 444.55,312.96 444.75,318.09 444.96,314.06 445.16,316.85 445.37,316.77 445.57,318.09 445.78,320.49 445.98,319.04 446.19,319.94 446.39,318.44 446.6,316.89 446.8,314 447,313.43 447.21,314.72 447.41,309.45 447.62,311.25 447.82,308.58 448.03,305.37 448.23,305.05 448.44,302.19 448.64,297.58 448.85,298.45 449.05,296.91 449.25,295.55 449.46,288.21 449.66,294.98 449.87,294.93 450.07,295.73 450.28,294.62 450.48,298.5 450.69,299.92 450.89,299.81 451.09,301.37 451.3,303.92 451.5,306.11 451.71,304 451.91,306.22 452.12,304.3 452.32,309.14 452.53,310.23 452.73,308.76 452.94,315.24 453.14,311.59 453.34,315.33 453.55,316.72 453.75,314.81 453.96,316.09 454.16,317.62 454.37,312.36 454.57,307.25 454.78,305.82 454.98,304.34 455.18,302.81 455.39,299.21 455.59,297.08 455.8,299.3 456,299.02 456.21,299.03 456.41,304.43 456.62,302.4 456.82,302.74 457.02,305.09 457.23,307.09 457.43,304.57 457.64,308.83 457.84,310.21 458.05,312.41 458.25,313.35 458.46,314.73 458.66,315.74 458.87,319.17 459.07,316.76 459.27,312.36 459.48,309.23 459.68,307.05 459.89,302.1 460.09,300.84 460.3,296.86 460.5,295.14 460.71,298.74 460.91,295.9 461.12,296.2 461.32,300.61 461.52,303.06 461.73,307.09 461.93,304.82 462.14,305.86 462.34,305.88 462.55,301.04 462.75,298.67 462.96,299.42 463.16,297.95 463.36,297.58 463.57,295.67 463.77,300.17 463.98,303.79 464.18,306.02 464.39,307.54 464.59,308.11 464.8,313.38 465,316.31 465.2,316.45 465.41,319.32 465.61,319.96 465.82,315.75 466.02,314.3 466.23,312.68 466.43,309.89 466.64,307.94 466.84,303.56 467.05,303.67 467.25,301.44 467.45,301.8 467.66,299.02 467.86,298.28 468.07,296.36 468.27,291.65 468.48,289.65 468.68,295.3 468.89,298.82 469.09,301.58 469.29,304.1 469.5,308.67 469.7,310.04 469.91,309.36 470.11,308.14 470.32,311.44 470.52,315.12 470.73,311.28 470.93,312.87 471.14,315.21 471.34,315.84 471.54,319.22 471.75,313.95 471.95,311.99 472.16,309.71 472.36,309.76 472.57,310.48 472.77,308.48 472.98,306.69 473.18,304.53 473.38,302.73 473.59,299.38 473.79,302.03 474,295.86 474.2,293.37 474.41,293.25 474.61,288.84 474.82,287.8 475.02,287.21 475.23,286.22 475.43,281.78 475.63,280.57 475.84,278.52 476.04,277.99 476.25,280.11 476.45,286.52 476.66,288.56 476.86,292.3 477.07,291.8 477.27,300.6 477.48,305.2 477.68,308.61 477.88,308.9 478.09,315.78 478.29,317.24 478.5,323.4 478.7,313.91 478.91,310.98 479.11,301.44 479.32,291.99 479.52,285.92 479.72,279.55 479.93,267.78 480.13,265.32 480.34,258.75 480.54,258.68 480.75,261.16 480.95,267.76 481.16,273.52 481.36,277.07 481.56,277.57 481.77,273.26 481.97,267.77 482.18,265.61 482.38,262.59 482.59,262.29 482.79,257.13 483,257.17 483.2,262.8 483.41,270.06 483.61,276.48 483.81,279.46 484.02,284.35 484.22,293.29 484.43,297.97 484.63,299.04 484.84,299.71 485.04,300.73 485.25,305.28 485.45,304.49 485.65,310.38 485.86,308.94 486.06,302.25 486.27,297.34 486.47,297.17 486.68,291.22 486.88,287.3 487.09,285.59 487.29,283 487.5,279.41" fill="none" stroke="#1f77b4" stroke-width="0.72" stroke-linejoin="round"/>
<line x1="283.2" y1="323.63" x2="487.7" y2="323.63" stroke="#ff0000" stroke-opacity="0.6" stroke-width="1.4"/>
</g>
<rect x="283.2" y="267.4" width="204.5" height="56.8" fill="none" stroke="#000" stroke-opacity="0.42" stroke-width="0.6"/>
<line x1="283.2" y1="324.2" x2="283.2" y2="325.7" stroke="#000" stroke-opacity="0.6" stroke-width="0.5"/>
<text x="283.2" y="332.6" text-anchor="middle" font-size="7.75">0</text>
<line x1="324.1" y1="324.2" x2="324.1" y2="325.7" stroke="#000" stroke-opacity="0.6" stroke-width="0.5"/>
<text x="324.1" y="332.6" text-anchor="middle" font-size="7.75">200</text>
<line x1="365" y1="324.2" x2="365" y2="325.7" stroke="#000" stroke-opacity="0.6" stroke-width="0.5"/>
<text x="365" y="332.6" text-anchor="middle" font-size="7.75">400</text>
<line x1="405.9" y1="324.2" x2="405.9" y2="325.7" stroke="#000" stroke-opacity="0.6" stroke-width="0.5"/>
<text x="405.9" y="332.6" text-anchor="middle" font-size="7.75">600</text>
<line x1="446.8" y1="324.2" x2="446.8" y2="325.7" stroke="#000" stroke-opacity="0.6" stroke-width="0.5"/>
<text x="446.8" y="332.6" text-anchor="middle" font-size="7.75">800</text>
<line x1="487.7" y1="324.2" x2="487.7" y2="325.7" stroke="#000" stroke-opacity="0.6" stroke-width="0.5"/>
<text x="487.7" y="332.6" text-anchor="middle" font-size="7.75">1<tspan dx="-1.47">,</tspan><tspan dx="-1.01">000</tspan></text>
<line x1="281.7" y1="324.2" x2="283.2" y2="324.2" stroke="#000" stroke-opacity="0.6" stroke-width="0.5"/>
<text x="281" y="327.07" text-anchor="end" font-size="7.75">0</text>
<line x1="281.7" y1="301.48" x2="283.2" y2="301.48" stroke="#000" stroke-opacity="0.6" stroke-width="0.5"/>
<text x="281" y="304.35" text-anchor="end" font-size="7.75">20</text>
<line x1="281.7" y1="278.76" x2="283.2" y2="278.76" stroke="#000" stroke-opacity="0.6" stroke-width="0.5"/>
<text x="281" y="281.63" text-anchor="end" font-size="7.75">40</text>
<text transform="translate(267.9 295.8) rotate(-90)" text-anchor="middle" font-size="7.75" font-style="italic">SPE(Q)</text>
<text x="385.15" y="341.59" text-anchor="middle" font-size="7.75">Samples</text>
<rect x="286.45" y="270.96" width="102.2" height="14.57" rx="1.4" fill="#fff" fill-opacity="0.8" stroke="#ccc" stroke-opacity="0.6" stroke-width="0.6"/>
<line x1="289.63" y1="277.95" x2="305.99" y2="277.95" stroke="#ff0000" stroke-opacity="0.5" stroke-width="1.4"/>
<text x="312.42" y="280.81" text-anchor="start" font-size="7.75">99% Q control limit</text>
<clipPath id="c8"><rect x="161.7" y="383.45" width="185.3" height="59.5"/></clipPath>
<g clip-path="url(#c8)">
<polyline points="161.7,440.56 161.89,440.35 162.07,440.07 162.26,439.76 162.44,439.44 162.63,439.16 162.81,438.95 163,438.82 163.18,438.79 163.37,438.84 163.55,438.96 163.74,439.12 163.92,439.27 164.11,439.37 164.29,439.41 164.48,439.4 164.66,439.37 164.85,439.35 165.04,439.4 165.22,439.54 165.41,439.76 165.59,440.04 165.78,440.34 165.96,440.6 166.15,440.77 166.33,440.83 166.52,440.76 166.7,440.62 166.89,440.46 167.07,440.32 167.26,440.26 167.44,440.29 167.63,440.39 167.81,440.53 168,440.64 168.19,440.68 168.37,440.63 168.56,440.49 168.74,440.26 168.93,440 169.11,439.73 169.3,439.48 169.48,439.27 169.67,439.11 169.85,439 170.04,438.94 170.22,438.91 170.41,438.91 170.59,438.92 170.78,438.93 170.96,438.95 171.15,438.98 171.34,439.05 171.52,439.14 171.71,439.27 171.89,439.41 172.08,439.53 172.26,439.62 172.45,439.68 172.63,439.71 172.82,439.76 173,439.85 173.19,440.01 173.37,440.24 173.56,440.55 173.74,440.89 173.93,441.23 174.12,441.52 174.3,441.72 174.49,441.81 174.67,441.78 174.86,441.66 175.04,441.47 175.23,441.25 175.41,441.01 175.6,440.75 175.78,440.49 175.97,440.23 176.15,440 176.34,439.81 176.52,439.67 176.71,439.6 176.89,439.58 177.08,439.61 177.27,439.66 177.45,439.72 177.64,439.77 177.82,439.81 178.01,439.86 178.19,439.91 178.38,439.98 178.56,440.1 178.75,440.26 178.93,440.46 179.12,440.68 179.3,440.87 179.49,441.02 179.67,441.09 179.86,441.08 180.04,441.03 180.23,440.95 180.42,440.88 180.6,440.85 180.79,440.84 180.97,440.85 181.16,440.85 181.34,440.82 181.53,440.75 181.71,440.66 181.9,440.55 182.08,440.46 182.27,440.39 182.45,440.33 182.64,440.28 182.82,440.21 183.01,440.13 183.19,440.03 183.38,439.92 183.57,439.81 183.75,439.72 183.94,439.66 184.12,439.62 184.31,439.57 184.49,439.49 184.68,439.32 184.86,439.03 185.05,438.6 185.23,438.1 185.42,437.59 185.6,437.19 185.79,437 185.97,437.05 186.16,437.34 186.34,437.78 186.53,438.26 186.72,438.7 186.9,439.04 187.09,439.28 187.27,439.43 187.46,439.54 187.64,439.64 187.83,439.73 188.01,439.79 188.2,439.81 188.38,439.77 188.57,439.68 188.75,439.57 188.94,439.44 189.12,439.33 189.31,439.24 189.5,439.15 189.68,439.07 189.87,438.98 190.05,438.86 190.24,438.7 190.42,438.49 190.61,438.25 190.79,437.98 190.98,437.73 191.16,437.54 191.35,437.46 191.53,437.53 191.72,437.77 191.9,438.17 192.09,438.71 192.27,439.34 192.46,439.99 192.65,440.6 192.83,441.12 193.02,441.53 193.2,441.82 193.39,442.01 193.57,442.1 193.76,442.13 193.94,442.09 194.13,442 194.31,441.86 194.5,441.67 194.68,441.46 194.87,441.26 195.05,441.09 195.24,440.96 195.42,440.87 195.61,440.82 195.8,440.78 195.98,440.72 196.17,440.64 196.35,440.55 196.54,440.48 196.72,440.45 196.91,440.47 197.09,440.51 197.28,440.56 197.46,440.57 197.65,440.54 197.83,440.45 198.02,440.32 198.2,440.17 198.39,440 198.57,439.85 198.76,439.73 198.95,439.68 199.13,439.69 199.32,439.78 199.5,439.91 199.69,440.06 199.87,440.17 200.06,440.21 200.24,440.16 200.43,440.01 200.61,439.8 200.8,439.56 200.98,439.35 201.17,439.18 201.35,439.08 201.54,439.07 201.72,439.13 201.91,439.26 202.1,439.45 202.28,439.66 202.47,439.86 202.65,440.03 202.84,440.14 203.02,440.16 203.21,440.1 203.39,439.97 203.58,439.8 203.76,439.62 203.95,439.48 204.13,439.38 204.32,439.35 204.5,439.36 204.69,439.41 204.87,439.48 205.06,439.56 205.25,439.65 205.43,439.74 205.62,439.86 205.8,439.99 205.99,440.12 206.17,440.25 206.36,440.34 206.54,440.39 206.73,440.39 206.91,440.36 207.1,440.29 207.28,440.22 207.47,440.15 207.65,440.09 207.84,440.03 208.02,439.97 208.21,439.9 208.4,439.81 208.58,439.71 208.77,439.59 208.95,439.47 209.14,439.35 209.32,439.24 209.51,439.15 209.69,439.08 209.88,439.02 210.06,438.99 210.25,439.01 210.43,439.11 210.62,439.31 210.8,439.64 210.99,440.08 211.18,440.61 211.36,441.16 211.55,441.65 211.73,442.05 211.92,442.31 212.1,442.42 212.29,442.39 212.47,442.25 212.66,442.02 212.84,441.73 213.03,441.4 213.21,441.03 213.4,440.65 213.58,440.23 213.77,439.79 213.95,439.32 214.14,438.83 214.33,438.34 214.51,437.89 214.7,437.51 214.88,437.24 215.07,437.1 215.25,437.11 215.44,437.27 215.62,437.54 215.81,437.88 215.99,438.25 216.18,438.58 216.36,438.83 216.55,438.98 216.73,439.03 216.92,438.99 217.1,438.89 217.29,438.76 217.48,438.63 217.66,438.53 217.85,438.48 218.03,438.52 218.22,438.68 218.4,438.97 218.59,439.4 218.77,439.95 218.96,440.55 219.14,441.14 219.33,441.66 219.51,442.06 219.7,442.32 219.88,442.46 220.07,442.51 220.25,442.49 220.44,442.42 220.63,442.29 220.81,442.05 221,441.69 221.18,441.18 221.37,440.57 221.55,439.91 221.74,439.29 221.92,438.79 222.11,438.47 222.29,438.35 222.48,438.4 222.66,438.6 222.85,438.88 223.03,439.19 223.22,439.51 223.4,439.79 223.59,440.02 223.78,440.16 223.96,440.2 224.15,440.13 224.33,439.98 224.52,439.79 224.7,439.61 224.89,439.49 225.07,439.45 225.26,439.48 225.44,439.56 225.63,439.65 225.81,439.71 226,439.7 226.18,439.61 226.37,439.44 226.56,439.21 226.74,438.96 226.93,438.74 227.11,438.57 227.3,438.51 227.48,438.56 227.67,438.72 227.85,438.96 228.04,439.22 228.22,439.44 228.41,439.58 228.59,439.62 228.78,439.58 228.96,439.46 229.15,439.34 229.33,439.25 229.52,439.24 229.71,439.33 229.89,439.5 230.08,439.71 230.26,439.9 230.45,440.02 230.63,440.02 230.82,439.89 231,439.65 231.19,439.33 231.37,438.99 231.56,438.68 231.74,438.44 231.93,438.32 232.11,438.3 232.3,438.38 232.48,438.53 232.67,438.69 232.86,438.84 233.04,438.92 233.23,438.92 233.41,438.85 233.6,438.72 233.78,438.56 233.97,438.39 234.15,438.25 234.34,438.13 234.52,438.04 234.71,437.97 234.89,437.92 235.08,437.9 235.26,437.92 235.45,437.99 235.63,438.12 235.82,438.3 236.01,438.51 236.19,438.72 236.38,438.91 236.56,439.05 236.75,439.14 236.93,439.21 237.12,439.29 237.3,439.42 237.49,439.64 237.67,439.94 237.86,440.3 238.04,440.68 238.23,441.04 238.41,441.34 238.6,441.57 238.78,441.71 238.97,441.77 239.16,441.73 239.34,441.6 239.53,441.38 239.71,441.09 239.9,440.77 240.08,440.45 240.27,440.17 240.45,439.95 240.64,439.79 240.82,439.67 241.01,439.56 241.19,439.45 241.38,439.33 241.56,439.18 241.75,439.02 241.93,438.89 242.12,438.78 242.31,438.73 242.49,438.75 242.68,438.82 242.86,438.96 243.05,439.13 243.23,439.34 243.42,439.57 243.6,439.81 243.79,440.04 243.97,440.24 244.16,440.39 244.34,440.45 244.53,440.43 244.71,440.3 244.9,440.07 245.08,405.74 245.27,398.92 245.46,392.6 245.64,386.97 245.83,390.13 246.01,396.31 246.2,403.09 246.38,410.24 246.57,417.46 246.75,424.45 246.94,430.95 247.12,436.76 247.31,433.63 247.49,426.66 247.68,418.98 247.86,410.87 248.05,402.65 248.24,394.68 248.42,387.27 248.61,380.63 248.79,383 248.98,390.08 249.16,397.88 249.35,406.14 249.53,414.52 249.72,422.67 249.9,430.27 250.09,437.09 250.27,435.24 250.46,427.93 250.64,419.86 250.83,411.29 251.01,402.58 251.2,394.09 251.39,386.15 251.57,379.03 251.76,379.82 251.94,386.54 252.13,393.97 252.31,401.88 252.5,409.93 252.68,417.8 252.87,425.17 253.05,431.8 253.24,431.69 253.42,425.55 253.61,418.75 253.79,411.51 253.98,404.11 254.16,396.87 254.35,390.07 254.54,383.95 254.72,383.98 254.91,390.69 255.09,398.14 255.28,406.09 255.46,414.23 255.65,422.21 255.83,429.71 256.02,436.49 256.2,437.22 256.39,430.15 256.57,422.28 256.76,413.87 256.94,405.24 257.13,396.76 257.31,388.77 257.5,381.53 257.69,379.77 257.87,386.32 258.06,393.63 258.24,401.47 258.43,409.52 258.61,417.45 258.8,424.94 258.98,431.73 259.17,433.93 259.35,427.68 259.54,420.7 259.72,413.21 259.91,405.49 260.09,397.86 260.28,390.65 260.46,384.1 260.65,381.4 260.84,387.35 261.02,394 261.21,401.16 261.39,408.54 261.58,415.85 261.76,422.78 261.95,429.09 262.13,432.14 262.32,426.04 262.5,419.2 262.69,411.82 262.87,404.19 263.06,396.63 263.24,389.44 263.43,382.89 263.62,379.08 263.8,385.01 263.99,391.67 264.17,398.87 264.36,406.33 264.54,413.74 264.73,420.8 264.91,427.25 265.1,431.5 265.28,425.35 265.47,418.43 265.65,410.94 265.84,403.16 266.02,395.41 266.21,388.01 266.39,381.24 266.58,376.19 266.77,382.55 266.95,389.73 267.14,397.51 267.32,405.62 267.51,413.7 267.69,421.43 267.88,428.52 268.06,434.46 268.25,428.84 268.43,422.5 268.62,415.6 268.8,408.4 268.99,401.21 269.17,394.32 269.36,387.98 269.54,382.36 269.73,387.36 269.92,393.25 270.1,399.65 270.29,406.35 270.47,413.06 270.66,419.51 270.84,425.44 271.03,430.71 271.21,425.75 271.4,419.33 271.58,412.32 271.77,404.98 271.95,397.61 272.14,390.51 272.32,383.96 272.51,378.14 272.69,382.72 272.88,389.39 273.07,396.68 273.25,404.34 273.44,412.05 273.62,419.48 273.81,426.35 273.99,432.47 274.18,428.32 274.36,421.4 274.55,413.82 274.73,405.85 274.92,397.81 275.1,390.04 275.29,382.84 275.47,376.42 275.66,380.1 275.84,387.26 276.03,395.12 276.22,403.41 276.4,411.78 276.59,419.89 276.77,427.42 276.96,434.15 277.14,431.53 277.33,424.97 277.51,417.75 277.7,410.13 277.88,402.41 278.07,394.92 278.25,387.94 278.44,381.7 278.62,383.6 278.81,389.71 278.99,396.44 279.18,403.56 279.37,410.79 279.55,417.82 279.74,424.38 279.92,430.26 280.11,429.08 280.29,423.49 280.48,417.32 280.66,410.77 280.85,404.12 281.03,397.63 281.22,391.57 281.4,386.12 281.59,386.8 281.77,392.08 281.96,397.92 282.14,404.13 282.33,410.46 282.52,416.65 282.7,422.43 282.89,427.64 283.07,426.96 283.26,420.89 283.44,414.17 283.63,407 283.81,399.69 284,392.53 284.18,385.81 284.37,379.75 284.55,379.73 284.74,386.23 284.92,393.46 285.11,401.17 285.3,409.06 285.48,416.8 285.67,424.07 285.85,430.65 286.04,431.58 286.22,425.32 286.41,418.35 286.59,410.9 286.78,403.26 286.96,395.75 287.15,388.67 287.33,382.26 287.52,380.75 287.7,386.7 287.89,393.34 288.07,400.45 288.26,407.77 288.45,414.97 288.63,421.77 288.82,427.94 289,429.74 289.19,423.43 289.37,416.38 289.56,408.8 289.74,401 289.93,393.3 290.11,386.01 290.3,379.39 290.48,376.78 290.67,383.25 290.85,390.49 291.04,398.29 291.22,406.33 291.41,414.29 291.6,421.84 291.78,428.71 291.97,432.21 292.15,426.44 292.34,419.97 292.52,412.99 292.71,405.76 292.89,398.61 293.08,391.81 293.26,385.6 293.45,382.06 293.63,388.06 293.82,394.79 294,402.07 294.19,409.61 294.37,417.11 294.56,424.24 294.75,430.76 294.93,435.05 295.12,428.7 295.3,421.57 295.49,413.84 295.67,405.81 295.86,397.81 296.04,390.19 296.23,383.2 296.41,378 296.6,384.82 296.78,392.5 296.97,400.84 297.15,409.52 297.34,418.17 297.52,426.45 297.71,434.04 297.9,440.38 298.08,433.48 298.27,425.69 298.45,417.23 298.64,408.4 298.82,399.57 299.01,391.11 299.19,383.33 299.38,376.44 299.56,383.16 299.75,391.05 299.93,399.64 300.12,408.63 300.3,417.63 300.49,426.27 300.67,434.24 300.86,441.3 301.05,435.58 301.23,428.09 301.42,419.91 301.6,411.34 301.79,402.74 301.97,394.47 302.16,386.83 302.34,380.04 302.53,384.78 302.71,391.81 302.9,399.49 303.08,407.56 303.27,415.67 303.45,423.5 303.64,430.74 303.83,437.18 304.01,432.82 304.2,425.55 304.38,417.58 304.57,409.2 304.75,400.75 304.94,392.59 305.12,385.02 305.31,378.27 305.49,382.28 305.68,390 305.86,398.48 306.05,407.41 306.23,416.44 306.42,425.19 306.6,433.31 306.79,440.56 306.98,437.16 307.16,429.21 307.35,420.45 307.53,411.21 307.72,401.84 307.9,392.76 308.09,384.3 308.27,376.73 308.46,379.18 308.64,386.81 308.83,395.22 309.01,404.13 309.2,413.17 309.38,421.95 309.57,430.15 309.75,437.5 309.94,436.07 310.13,429.17 310.31,421.56 310.5,413.47 310.68,405.26 310.87,397.25 311.05,389.76 311.24,383.04 311.42,384.24 311.61,391.44 311.79,399.4 311.98,407.87 312.16,416.5 312.35,424.93 312.53,432.82 312.72,439.93 312.9,439.4 313.09,431.97 313.28,423.73 313.46,414.96 313.65,406 313.83,397.23 314.02,389 314.2,381.58 314.39,381.21 314.57,388.39 314.76,396.37 314.94,404.88 315.13,413.6 315.31,422.14 315.5,430.18 315.68,437.44 315.87,438.67 316.05,432.27 316.24,425.16 316.43,417.55 316.61,409.74 316.8,402.06 316.98,394.83 317.17,388.29 317.35,386.74 317.54,392.83 317.72,399.62 317.91,406.89 318.09,414.37 318.28,421.74 318.46,428.69 318.65,435 318.83,436.72 319.02,429.88 319.2,422.23 319.39,414.02 319.58,405.56 319.76,397.21 319.95,389.31 320.13,382.13 320.32,379.34 320.5,386.54 320.69,394.6 320.87,403.27 321.06,412.22 321.24,421.07 321.43,429.46 321.61,437.1 321.8,440.8 321.98,433.46 322.17,425.22 322.36,416.33 322.54,407.14 322.73,398.04 322.91,389.38 323.1,381.48 323.28,376.89 323.47,384 323.65,391.97 323.84,400.6 324.02,409.53 324.21,418.41 324.39,426.87 324.58,434.59 324.76,439.77 324.95,433.1 325.13,425.6 325.32,417.48 325.51,409.04 325.69,400.64 325.88,392.62 326.06,385.28 326.25,379.79 326.43,386.68 326.62,394.43 326.8,402.84 326.99,411.6 327.17,420.34 327.36,428.7 327.54,436.36 327.73,442.75 327.91,435.66 328.1,427.66 328.28,418.96 328.47,409.88 328.66,400.81 328.84,392.11 329.03,384.12 329.21,377.04 329.4,383.44 329.58,390.97 329.77,399.18 329.95,407.75 330.14,416.35 330.32,424.6 330.51,432.2 330.69,438.94 330.88,433.49 331.06,426.36 331.25,418.57 331.43,410.41 331.62,402.22 331.81,394.34 331.99,387.06 332.18,380.6 332.36,385.65 332.55,393.03 332.73,401.1 332.92,409.58 333.1,418.1 333.29,426.33 333.47,433.93 333.66,440.7 333.84,435.92 334.03,428.01 334.21,419.35 334.4,410.24 334.58,401.05 334.77,392.17 334.96,383.94 335.14,376.6 335.33,380.45 335.51,388.1 335.7,396.49 335.88,405.35 336.07,414.3 336.25,422.96 336.44,431.01 336.62,438.2 336.81,435.19 336.99,427.86 337.18,419.8 337.36,411.29 337.55,402.66 337.74,394.29 337.92,386.51 338.11,379.54 338.29,382.11 338.48,389.67 338.66,398.01 338.85,406.83 339.03,415.79 339.22,424.5 339.4,432.62 339.59,439.9 339.77,438.29 339.96,431.12 340.14,423.2 340.33,414.79 340.51,406.25 340.7,397.92 340.89,390.13 341.07,383.14 341.26,384.13 341.44,391.12 341.63,398.86 341.81,407.09 342,415.47 342.18,423.66 342.37,431.33 342.55,438.23 342.74,437.61 342.92,430.18 343.11,421.95 343.29,413.17 343.48,404.21 343.66,395.44 343.85,387.21 344.04,379.79 344.22,379.61 344.41,387.19 344.59,395.62 344.78,404.61 344.96,413.82 345.15,422.85 345.33,431.34 345.52,439.01 345.7,440.09 345.89,432.75 346.07,424.58 346.26,415.85" fill="none" stroke="#1f77b4" stroke-width="0.64" stroke-linejoin="round"/>
<line x1="161.7" y1="434.02" x2="347" y2="434.02" stroke="#ff0000" stroke-opacity="0.6" stroke-width="1.6"/>
</g>
<rect x="161.7" y="383.45" width="185.3" height="59.5" fill="none" stroke="#000" stroke-opacity="0.42" stroke-width="0.6"/>
<line x1="161.7" y1="442.95" x2="161.7" y2="444.45" stroke="#000" stroke-opacity="0.6" stroke-width="0.5"/>
<text x="161.7" y="451.35" text-anchor="middle" font-size="7.93">0</text>
<line x1="198.76" y1="442.95" x2="198.76" y2="444.45" stroke="#000" stroke-opacity="0.6" stroke-width="0.5"/>
<text x="198.76" y="451.35" text-anchor="middle" font-size="7.93">200</text>
<line x1="235.82" y1="442.95" x2="235.82" y2="444.45" stroke="#000" stroke-opacity="0.6" stroke-width="0.5"/>
<text x="235.82" y="451.35" text-anchor="middle" font-size="7.93">400</text>
<line x1="272.88" y1="442.95" x2="272.88" y2="444.45" stroke="#000" stroke-opacity="0.6" stroke-width="0.5"/>
<text x="272.88" y="451.35" text-anchor="middle" font-size="7.93">600</text>
<line x1="309.94" y1="442.95" x2="309.94" y2="444.45" stroke="#000" stroke-opacity="0.6" stroke-width="0.5"/>
<text x="309.94" y="451.35" text-anchor="middle" font-size="7.93">800</text>
<line x1="347" y1="442.95" x2="347" y2="444.45" stroke="#000" stroke-opacity="0.6" stroke-width="0.5"/>
<text x="347" y="451.35" text-anchor="middle" font-size="7.93">1<tspan dx="-1.51">,</tspan><tspan dx="-1.03">000</tspan></text>
<line x1="160.2" y1="442.95" x2="161.7" y2="442.95" stroke="#000" stroke-opacity="0.6" stroke-width="0.5"/>
<text x="158.8" y="445.88" text-anchor="end" font-size="7.93">0</text>
<line x1="160.2" y1="413.2" x2="161.7" y2="413.2" stroke="#000" stroke-opacity="0.6" stroke-width="0.5"/>
<text x="158.8" y="416.13" text-anchor="end" font-size="7.93">50</text>
<line x1="160.2" y1="383.45" x2="161.7" y2="383.45" stroke="#000" stroke-opacity="0.6" stroke-width="0.5"/>
<text x="158.8" y="386.38" text-anchor="end" font-size="7.93">100</text>
<text transform="translate(139.8 413.2) rotate(-90)" text-anchor="middle" font-size="7.93" font-style="italic">T<tspan dy="-3.41" font-size="5.55" dx="0.3">2</tspan></text>
<rect x="165.03" y="387.1" width="108.05" height="14.91" rx="1.4" fill="#fff" fill-opacity="0.8" stroke="#ccc" stroke-opacity="0.6" stroke-width="0.6"/>
<line x1="168.28" y1="394.25" x2="185.01" y2="394.25" stroke="#ff0000" stroke-opacity="0.5" stroke-width="1.4"/>
<text x="191.6" y="397.17" text-anchor="start" font-size="7.93">99% <tspan font-style="italic">T</tspan><tspan dy="-3.41" font-size="5.55" dx="0.4">2</tspan><tspan dy="3.41"> control limit</tspan></text>
<clipPath id="c9"><rect x="161.7" y="454.3" width="185.3" height="58"/></clipPath>
<g clip-path="url(#c9)">
<polyline points="161.7,512.1 161.89,512.04 162.07,511.99 162.26,511.97 162.44,511.98 162.63,511.99 162.81,511.98 163,511.95 163.18,511.91 163.37,511.88 163.55,511.87 163.74,511.91 163.92,511.98 164.11,512.09 164.29,512.19 164.48,512.26 164.66,512.25 164.85,512.15 165.04,511.95 165.22,511.67 165.41,511.36 165.59,511.07 165.78,510.84 165.96,510.72 166.15,510.71 166.33,510.79 166.52,510.93 166.7,511.1 166.89,511.25 167.07,511.38 167.26,511.47 167.44,511.52 167.63,511.54 167.81,511.54 168,511.54 168.19,511.55 168.37,511.58 168.56,511.62 168.74,511.63 168.93,511.63 169.11,511.58 169.3,511.51 169.48,511.43 169.67,511.36 169.85,511.34 170.04,511.36 170.22,511.43 170.41,511.55 170.59,511.67 170.78,511.78 170.96,511.86 171.15,511.91 171.34,511.95 171.52,511.99 171.71,512.05 171.89,512.11 172.08,512.17 172.26,512.22 172.45,512.24 172.63,512.23 172.82,512.18 173,512.1 173.19,511.99 173.37,511.89 173.56,511.8 173.74,511.76 173.93,511.77 174.12,511.81 174.3,511.86 174.49,511.91 174.67,511.91 174.86,511.88 175.04,511.82 175.23,511.73 175.41,511.62 175.6,511.51 175.78,511.38 175.97,511.27 176.15,511.17 176.34,511.1 176.52,511.07 176.71,511.09 176.89,511.12 177.08,511.17 177.27,511.19 177.45,511.2 177.64,511.18 177.82,511.15 178.01,511.11 178.19,511.06 178.38,510.99 178.56,510.92 178.75,510.85 178.93,510.81 179.12,510.81 179.3,510.89 179.49,511.03 179.67,511.22 179.86,511.44 180.04,511.64 180.23,511.81 180.42,511.93 180.6,512.01 180.79,512.05 180.97,512.06 181.16,512.05 181.34,512.04 181.53,512.05 181.71,512.07 181.9,512.11 182.08,512.14 182.27,512.12 182.45,512.03 182.64,511.87 182.82,511.65 183.01,511.42 183.19,511.2 183.38,511.03 183.57,510.92 183.75,510.83 183.94,510.75 184.12,510.63 184.31,510.48 184.49,510.3 184.68,510.11 184.86,509.93 185.05,509.75 185.23,509.57 185.42,509.4 185.6,509.24 185.79,509.12 185.97,509.05 186.16,509.06 186.34,509.15 186.53,509.32 186.72,509.53 186.9,509.78 187.09,510.03 187.27,510.28 187.46,510.51 187.64,510.7 187.83,510.85 188.01,510.94 188.2,510.96 188.38,510.9 188.57,510.78 188.75,510.62 188.94,510.44 189.12,510.28 189.31,510.13 189.5,510.04 189.68,510.01 189.87,510.07 190.05,510.21 190.24,510.41 190.42,510.64 190.61,510.86 190.79,511.03 190.98,511.16 191.16,511.27 191.35,511.36 191.53,511.45 191.72,511.52 191.9,511.56 192.09,511.56 192.27,511.54 192.46,511.51 192.65,511.52 192.83,511.55 193.02,511.59 193.2,511.58 193.39,511.47 193.57,511.2 193.76,510.76 193.94,510.15 194.13,509.42 194.31,508.65 194.5,507.93 194.68,507.35 194.87,506.98 195.05,506.87 195.24,507.01 195.42,507.37 195.61,507.9 195.8,508.53 195.98,509.21 196.17,509.89 196.35,510.5 196.54,511.01 196.72,511.4 196.91,511.67 197.09,511.83 197.28,511.92 197.46,511.96 197.65,511.95 197.83,511.88 198.02,511.76 198.2,511.61 198.39,511.47 198.57,511.4 198.76,511.44 198.95,511.58 199.13,511.81 199.32,512.05 199.5,512.23 199.69,512.29 199.87,512.23 200.06,512.06 200.24,511.83 200.43,511.61 200.61,511.42 200.8,511.29 200.98,511.21 201.17,511.17 201.35,511.14 201.54,511.1 201.72,511.05 201.91,511 202.1,510.94 202.28,510.92 202.47,510.94 202.65,511.02 202.84,511.16 203.02,511.33 203.21,511.53 203.39,511.73 203.58,511.94 203.76,512.13 203.95,512.29 204.13,512.19 204.32,512.16 204.5,512.2 204.69,512.28 204.87,512.11 205.06,511.94 205.25,511.78 205.43,511.69 205.62,511.68 205.8,511.76 205.99,511.91 206.17,512.08 206.36,512.25 206.54,512.22 206.73,512.15 206.91,512.15 207.1,512.22 207.28,512.26 207.47,512.09 207.65,511.91 207.84,511.74 208.02,511.61 208.21,511.53 208.4,511.51 208.58,511.53 208.77,511.56 208.95,511.57 209.14,511.54 209.32,511.45 209.51,511.31 209.69,511.11 209.88,510.87 210.06,510.58 210.25,510.2 210.43,509.71 210.62,509.07 210.8,508.26 210.99,507.35 211.18,506.42 211.36,505.6 211.55,505.03 211.73,504.8 211.92,504.95 212.1,505.44 212.29,506.19 212.47,507.1 212.66,508.03 212.84,508.91 213.03,509.65 213.21,510.24 213.4,510.68 213.58,511 213.77,511.24 213.95,511.43 214.14,511.6 214.33,511.76 214.51,511.89 214.7,511.99 214.88,512.06 215.07,512.08 215.25,512.04 215.44,511.94 215.62,511.77 215.81,511.56 215.99,511.34 216.18,511.17 216.36,511.08 216.55,511.1 216.73,511.21 216.92,511.35 217.1,511.5 217.29,511.61 217.48,511.68 217.66,511.69 217.85,511.68 218.03,511.63 218.22,511.57 218.4,511.48 218.59,511.37 218.77,511.21 218.96,510.99 219.14,510.73 219.33,510.41 219.51,510.05 219.7,509.65 219.88,509.24 220.07,508.8 220.25,508.38 220.44,508 220.63,507.7 220.81,507.53 221,507.5 221.18,507.62 221.37,507.88 221.55,508.26 221.74,508.72 221.92,509.24 222.11,509.75 222.29,510.21 222.48,510.57 222.66,510.85 222.85,511.04 223.03,511.18 223.22,511.3 223.4,511.41 223.59,511.51 223.78,511.59 223.96,511.65 224.15,511.66 224.33,511.6 224.52,511.41 224.7,511.05 224.89,510.73 225.07,510.47 225.26,510.16 225.44,509.89 225.63,509.76 225.81,509.78 226,509.93 226.18,510.17 226.37,510.45 226.56,510.72 226.74,510.95 226.93,511.14 227.11,511.29 227.3,511.41 227.48,511.5 227.67,511.58 227.85,511.64 228.04,511.68 228.22,511.72 228.41,511.78 228.59,511.86 228.78,511.96 228.96,512.07 229.15,512.14 229.33,512.17 229.52,512.14 229.71,512.04 229.89,511.92 230.08,511.8 230.26,511.71 230.45,511.67 230.63,511.67 230.82,511.7 231,511.72 231.19,511.72 231.37,511.7 231.56,511.68 231.74,511.66 231.93,511.65 232.11,511.63 232.3,511.61 232.48,511.56 232.67,511.49 232.86,511.41 233.04,511.34 233.23,511.28 233.41,511.25 233.6,511.24 233.78,511.23 233.97,511.22 234.15,511.2 234.34,511.19 234.52,511.21 234.71,511.28 234.89,511.39 235.08,511.53 235.26,511.66 235.45,511.74 235.63,511.76 235.82,511.6 236.01,511.43 236.19,511.29 236.38,511.17 236.56,511.08 236.75,510.91 236.93,510.75 237.12,510.65 237.3,510.59 237.49,510.57 237.67,510.54 237.86,510.5 238.04,510.42 238.23,510.33 238.41,510.26 238.6,510.24 238.78,510.29 238.97,510.43 239.16,510.63 239.34,510.86 239.53,511.08 239.71,511.26 239.9,511.39 240.08,511.47 240.27,511.52 240.45,511.54 240.64,511.54 240.82,511.53 241.01,511.5 241.19,511.44 241.38,511.32 241.56,511.13 241.75,510.85 241.93,510.48 242.12,510.06 242.31,509.63 242.49,509.27 242.68,509.04 242.86,508.99 243.05,509.13 243.23,509.43 243.42,509.82 243.6,510.23 243.79,510.61 243.97,510.92 244.16,508.5 244.34,507.64 244.53,506.46 244.71,506.94 244.9,505.47 245.08,505.53 245.27,503.92 245.46,507.41 245.64,506.51 245.83,506.45 246.01,505.77 246.2,504.7 246.38,504.55 246.57,502.28 246.75,504.3 246.94,501.99 247.12,500.58 247.31,499.42 247.49,500.03 247.68,499.06 247.86,498.88 248.05,497.83 248.24,498.17 248.42,496.54 248.61,495.24 248.79,493.81 248.98,496.37 249.16,494.8 249.35,496.37 249.53,497.03 249.72,498.98 249.9,499.12 250.09,499.4 250.27,500.93 250.46,502.32 250.64,500.98 250.83,502.99 251.01,504.05 251.2,504.36 251.39,505.27 251.57,506.57 251.76,505.58 251.94,507.15 252.13,509.05 252.31,506.83 252.5,506.94 252.68,506.56 252.87,503.08 253.05,502.11 253.24,499.23 253.42,499.2 253.61,496.47 253.79,496.25 253.98,494.16 254.16,490.55 254.35,489.62 254.54,485.23 254.72,486.55 254.91,487.65 255.09,491.69 255.28,490.44 255.46,494.49 255.65,498.7 255.83,498.7 256.02,500.93 256.2,498.36 256.39,500.46 256.57,503.58 256.76,502.46 256.94,503.52 257.13,505.33 257.31,506.07 257.5,506.74 257.69,508.4 257.87,507.58 258.06,507.76 258.24,505.72 258.43,504.52 258.61,503.44 258.8,498.56 258.98,499.09 259.17,497.08 259.35,493 259.54,494.91 259.72,494.21 259.91,493.95 260.09,492.05 260.28,487.93 260.46,488.94 260.65,488.24 260.84,486.94 261.02,488.8 261.21,488.29 261.39,493.96 261.58,492.55 261.76,498.49 261.95,495.66 262.13,498.63 262.32,501.41 262.5,499.44 262.69,501.55 262.87,501.78 263.06,503.25 263.24,502.64 263.43,504.02 263.62,506.82 263.8,505.83 263.99,504.44 264.17,501.05 264.36,499.93 264.54,499 264.73,498.3 264.91,497.41 265.1,494.9 265.28,492.95 265.47,491.68 265.65,489.26 265.84,488.33 266.02,492.2 266.21,489.78 266.39,492.31 266.58,495.07 266.77,496.22 266.95,497.23 267.14,499.81 267.32,501.06 267.51,501.02 267.69,502.41 267.88,506.41 268.06,502.89 268.25,506.95 268.43,504.99 268.62,506.72 268.8,507.94 268.99,507.05 269.17,508.81 269.36,508.53 269.54,506.48 269.73,506.11 269.92,506.8 270.1,506.42 270.29,505.92 270.47,504.12 270.66,503.52 270.84,502.58 271.03,503.28 271.21,503.82 271.4,501.31 271.58,498.43 271.77,499.25 271.95,502.11 272.14,499.39 272.32,500.05 272.51,499.56 272.69,499.3 272.88,499.53 273.07,499.95 273.25,497.01 273.44,498.39 273.62,497.33 273.81,496.69 273.99,495.9 274.18,496.38 274.36,495.83 274.55,496 274.73,494.95 274.92,494.64 275.1,493.05 275.29,494 275.47,495.25 275.66,493.63 275.84,492.99 276.03,494.68 276.22,494.7 276.4,497.71 276.59,493.85 276.77,496.42 276.96,495.76 277.14,500.26 277.33,502.16 277.51,499.67 277.7,501.99 277.88,501.58 278.07,503.4 278.25,501.82 278.44,503.7 278.62,503.92 278.81,503.54 278.99,505.14 279.18,505.49 279.37,503.87 279.55,505.99 279.74,506.03 279.92,504.82 280.11,504.32 280.29,502.82 280.48,500.07 280.66,500.11 280.85,502.27 281.03,502.28 281.22,499.61 281.4,500.5 281.59,500.43 281.77,499.27 281.96,500.09 282.14,499.58 282.33,500.16 282.52,498.92 282.7,503.49 282.89,504.29 283.07,504.17 283.26,504 283.44,506.16 283.63,507.09 283.81,509.47 284,505.14 284.18,506.62 284.37,504.49 284.55,504.28 284.74,504.3 284.92,506.24 285.11,505.84 285.3,507.03 285.48,503.09 285.67,502.37 285.85,498.89 286.04,499.17 286.22,497.06 286.41,496.11 286.59,491.05 286.78,493.19 286.96,495.84 287.15,496.31 287.33,498.68 287.52,496.77 287.7,497.98 287.89,500.57 288.07,501.63 288.26,505.07 288.45,502.51 288.63,504.21 288.82,501.1 289,503.95 289.19,502.16 289.37,501.19 289.56,500.82 289.74,501.51 289.93,499.83 290.11,501.69 290.3,501.66 290.48,502.51 290.67,499.08 290.85,500.17 291.04,499.11 291.22,499.3 291.41,498.29 291.6,498.7 291.78,494.49 291.97,495.42 292.15,497.72 292.34,499.08 292.52,499.46 292.71,502.25 292.89,501.28 293.08,503.03 293.26,504.31 293.45,505.51 293.63,506.36 293.82,505.42 294,506.36 294.19,507.75 294.37,506.59 294.56,507.29 294.75,507.96 294.93,506.36 295.12,508.88 295.3,510.6 295.49,509.09 295.67,510.89 295.86,508.78 296.04,507.89 296.23,507.77 296.41,505.53 296.6,505.44 296.78,504.29 296.97,504.72 297.15,503.89 297.34,500.56 297.52,496.62 297.71,499.1 297.9,496.48 298.08,495.98 298.27,493.29 298.45,493.74 298.64,493.66 298.82,493.95 299.01,496.02 299.19,496.5 299.38,497.51 299.56,497.52 299.75,498.32 299.93,499.09 300.12,500.42 300.3,503.12 300.49,503.33 300.67,503.1 300.86,504.48 301.05,502.72 301.23,504.63 301.42,503.42 301.6,502.62 301.79,500.46 301.97,500.88 302.16,500.46 302.34,498.18 302.53,498.37 302.71,498.46 302.9,495.87 303.08,495.77 303.27,494.29 303.45,493.46 303.64,494.15 303.83,493.03 304.01,492.09 304.2,490.36 304.38,490.49 304.57,488.42 304.75,489.64 304.94,488.22 305.12,485.35 305.31,486.95 305.49,485.07 305.68,480.95 305.86,479.17 306.05,477.17 306.23,475.63 306.42,473.68 306.6,474.44 306.79,475.36 306.98,476.24 307.16,479.95 307.35,481.58 307.53,482.29 307.72,481.91 307.9,483.73 308.09,486.76 308.27,485.17 308.46,484.46 308.64,483 308.83,482.16 309.01,482.3 309.2,484.67 309.38,483.44 309.57,484.75 309.75,488.53 309.94,488.7 310.13,488.43 310.31,490.54 310.5,491.4 310.68,493.34 310.87,491.9 311.05,495.79 311.24,494.19 311.42,493.99 311.61,497.89 311.79,496.18 311.98,497.63 312.16,500.25 312.35,500.12 312.53,499.42 312.72,502.52 312.9,501.69 313.09,503.15 313.28,500.2 313.46,497.16 313.65,495.38 313.83,493.01 314.02,491.18 314.2,488.37 314.39,488.42 314.57,484.2 314.76,484.89 314.94,482.24 315.13,482.92 315.31,479.46 315.5,476.9 315.68,474.98 315.87,474.75 316.05,473.58 316.24,476.83 316.43,476.66 316.61,480.12 316.8,479.43 316.98,482.08 317.17,483.29 317.35,485.35 317.54,487.84 317.72,489.71 317.91,492.94 318.09,497.32 318.28,496.12 318.46,500.89 318.65,501.19 318.83,502.97 319.02,503.63 319.2,504.37 319.39,504.69 319.58,505.24 319.76,505.93 319.95,506.57 320.13,506.52 320.32,505.9 320.5,506.75 320.69,505.52 320.87,507.03 321.06,505.98 321.24,506.68 321.43,504.49 321.61,503.29 321.8,502.49 321.98,504.57 322.17,501.53 322.36,503.35 322.54,502.15 322.73,501.82 322.91,498.86 323.1,500.11 323.28,497.33 323.47,498.23 323.65,499.29 323.84,498.04 324.02,496.44 324.21,498.69 324.39,497.78 324.58,496.79 324.76,496.69 324.95,496.17 325.13,493.35 325.32,494.89 325.51,495.83 325.69,496.29 325.88,497.82 326.06,495.58 326.25,497.69 326.43,492.99 326.62,497.12 326.8,498.75 326.99,499.89 327.17,499.03 327.36,497.66 327.54,498.55 327.73,496.77 327.91,496.39 328.1,496.23 328.28,495.98 328.47,496.28 328.66,496.78 328.84,497.17 329.03,497.85 329.21,496.77 329.4,495.73 329.58,496.88 329.77,498.45 329.95,496.42 330.14,499.03 330.32,499.59 330.51,499.69 330.69,499.63 330.88,499.25 331.06,500.98 331.25,501.76 331.43,499.42 331.62,499.75 331.81,499.62 331.99,499.4 332.18,500.37 332.36,498.41 332.55,500.93 332.73,500.88 332.92,499.36 333.1,500.64 333.29,501.64 333.47,501.8 333.66,503.54 333.84,501.65 334.03,503.05 334.21,502.59 334.4,501.86 334.58,502.86 334.77,503.81 334.96,503.99 335.14,504.63 335.33,503.09 335.51,507.74 335.7,506.34 335.88,507.11 336.07,505.82 336.25,506.24 336.44,505.58 336.62,503.07 336.81,504.75 336.99,503.74 337.18,504.95 337.36,504.97 337.55,505.06 337.74,501.81 337.92,504.69 338.11,503.86 338.29,500.46 338.48,502.71 338.66,503.06 338.85,503.32 339.03,504.36 339.22,502.47 339.4,501.63 339.59,503.87 339.77,502.87 339.96,499.74 340.14,501.62 340.33,499.71 340.51,497.31 340.7,500.53 340.89,499.04 341.07,499.48 341.26,500.52 341.44,495.88 341.63,496.92 341.81,498.17 342,497.47 342.18,498.91 342.37,500.12 342.55,499.34 342.74,499.67 342.92,500.15 343.11,497.85 343.29,499.98 343.48,499.84 343.66,497.87 343.85,497.1 344.04,495.22 344.22,496.46 344.41,498.02 344.59,497.01 344.78,494.35 344.96,495.86 345.15,494.03 345.33,491.88 345.52,495.45 345.7,495.03 345.89,493" fill="none" stroke="#1f77b4" stroke-width="0.72" stroke-linejoin="round"/>
<line x1="161.7" y1="510.56" x2="347" y2="510.56" stroke="#ff0000" stroke-opacity="0.6" stroke-width="1.7"/>
</g>
<rect x="161.7" y="454.3" width="185.3" height="58" fill="none" stroke="#000" stroke-opacity="0.42" stroke-width="0.6"/>
<line x1="161.7" y1="512.3" x2="161.7" y2="513.8" stroke="#000" stroke-opacity="0.6" stroke-width="0.5"/>
<text x="161.7" y="520.7" text-anchor="middle" font-size="7.93">0</text>
<line x1="198.76" y1="512.3" x2="198.76" y2="513.8" stroke="#000" stroke-opacity="0.6" stroke-width="0.5"/>
<text x="198.76" y="520.7" text-anchor="middle" font-size="7.93">200</text>
<line x1="235.82" y1="512.3" x2="235.82" y2="513.8" stroke="#000" stroke-opacity="0.6" stroke-width="0.5"/>
<text x="235.82" y="520.7" text-anchor="middle" font-size="7.93">400</text>
<line x1="272.88" y1="512.3" x2="272.88" y2="513.8" stroke="#000" stroke-opacity="0.6" stroke-width="0.5"/>
<text x="272.88" y="520.7" text-anchor="middle" font-size="7.93">600</text>
<line x1="309.94" y1="512.3" x2="309.94" y2="513.8" stroke="#000" stroke-opacity="0.6" stroke-width="0.5"/>
<text x="309.94" y="520.7" text-anchor="middle" font-size="7.93">800</text>
<line x1="347" y1="512.3" x2="347" y2="513.8" stroke="#000" stroke-opacity="0.6" stroke-width="0.5"/>
<text x="347" y="520.7" text-anchor="middle" font-size="7.93">1<tspan dx="-1.51">,</tspan><tspan dx="-1.03">000</tspan></text>
<line x1="160.2" y1="512.3" x2="161.7" y2="512.3" stroke="#000" stroke-opacity="0.6" stroke-width="0.5"/>
<text x="158.8" y="515.23" text-anchor="end" font-size="7.93">0</text>
<line x1="160.2" y1="483.3" x2="161.7" y2="483.3" stroke="#000" stroke-opacity="0.6" stroke-width="0.5"/>
<text x="158.8" y="486.23" text-anchor="end" font-size="7.93">5</text>
<line x1="160.2" y1="454.3" x2="161.7" y2="454.3" stroke="#000" stroke-opacity="0.6" stroke-width="0.5"/>
<text x="158.8" y="457.23" text-anchor="end" font-size="7.93">10</text>
<text transform="translate(146.3 483.3) rotate(-90)" text-anchor="middle" font-size="7.93" font-style="italic">SPE(Q)</text>
<text x="254.05" y="529.9" text-anchor="middle" font-size="7.93">Samples</text>
<rect x="165.03" y="457.95" width="104.9" height="14.91" rx="1.4" fill="#fff" fill-opacity="0.8" stroke="#ccc" stroke-opacity="0.6" stroke-width="0.6"/>
<line x1="168.28" y1="465.1" x2="185.01" y2="465.1" stroke="#ff0000" stroke-opacity="0.5" stroke-width="1.4"/>
<text x="191.6" y="468.02" text-anchor="start" font-size="7.93">99% Q control limit</text>
<text x="125.1" y="173" text-anchor="middle" font-size="12.6" class="cap">(<tspan font-weight="bold">a</tspan>)</text>
<text x="377.4" y="173" text-anchor="middle" font-size="12.6" class="cap">(<tspan font-weight="bold">b</tspan>)</text>
<text x="125.1" y="360" text-anchor="middle" font-size="12.6" class="cap">(<tspan font-weight="bold">c</tspan>)</text>
<text x="377.4" y="360" text-anchor="middle" font-size="12.6" class="cap">(<tspan font-weight="bold">d</tspan>)</text>
<text x="251.2" y="545" text-anchor="middle" font-size="12.6" class="cap">(<tspan font-weight="bold">e</tspan>)</text>
</svg>
</body>
</html>
